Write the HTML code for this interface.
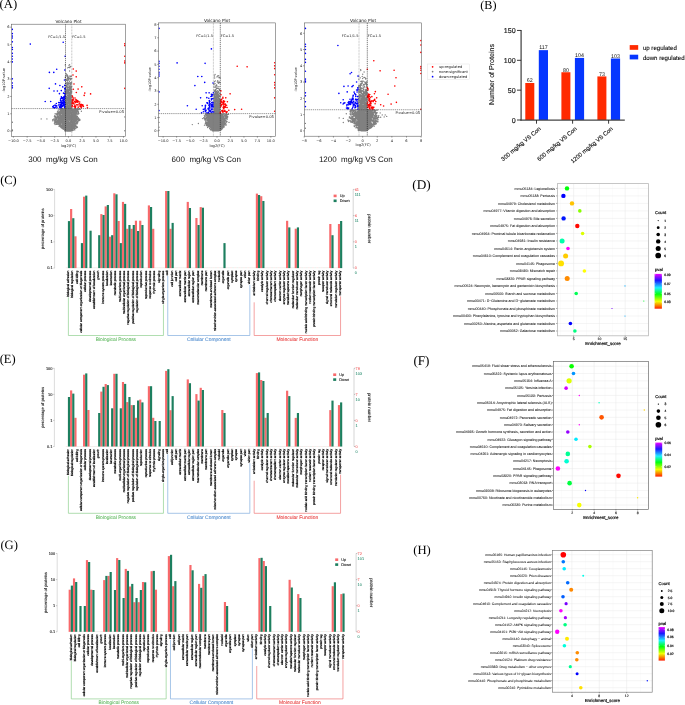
<!DOCTYPE html>
<html><head><meta charset="utf-8"><style>
html,body{margin:0;padding:0;background:#fff;}
svg{display:block;}


</style></head><body>
<svg width="685" height="705" viewBox="0 0 685 705" font-family="Liberation Sans, Arial, sans-serif" text-rendering="geometricPrecision">
<rect width="685" height="705" fill="#fff"/>
<text x="-0.5" y="8.4" font-size="12.7" font-family="'Liberation Serif', 'Times New Roman', serif">(A)</text>
<text x="480.2" y="8.8" font-size="12.2" font-family="'Liberation Serif', 'Times New Roman', serif">(B)</text>
<text x="0.16" y="183.8" font-size="12.4" font-family="'Liberation Serif', 'Times New Roman', serif">(C)</text>
<text x="412.3" y="188.7" font-size="13.3" font-family="'Liberation Serif', 'Times New Roman', serif">(D)</text>
<text x="-0.35" y="362.7" font-size="12.5" font-family="'Liberation Serif', 'Times New Roman', serif">(E)</text>
<text x="413.4" y="364.7" font-size="13.2" font-family="'Liberation Serif', 'Times New Roman', serif">(F)</text>
<text x="0.4" y="548.8" font-size="12.7" font-family="'Liberation Serif', 'Times New Roman', serif">(G)</text>
<text x="413.2" y="553.8" font-size="12.7" font-family="'Liberation Serif', 'Times New Roman', serif">(H)</text>
<g>
<clipPath id="vc1"><rect x="11.5" y="24.2" width="114" height="112.1"/></clipPath>
<g clip-path="url(#vc1)">
<path d="M56.93 119.94h0M73.63 113.94h0M60.59 112.24h0M66.3 128.38h0M75.91 110.02h0M64.36 111.23h0M62.37 127.2h0M77.83 119.79h0M74.77 119.53h0M77.91 109.55h0M60.6 112.88h0M73.76 123.07h0M61.26 127.11h0M61.96 113.15h0M62.11 117.46h0M62.62 115.83h0M67.01 129.78h0M76.21 124.11h0M77.84 111.31h0M76.44 111.56h0M66.04 128.75h0M62.31 124.43h0M62.14 126.58h0M74.19 115.91h0M57.83 111.23h0M76.95 112.16h0M78.91 109.61h0M64.52 110.27h0M72.31 128.78h0M61.19 109.04h0M57.56 116.42h0M56.34 124.19h0M74.32 123.97h0M56.19 123.57h0M72.92 109.73h0M76.32 112.6h0M72.98 110.6h0M56.07 121.36h0M54.07 118.73h0M75.54 125.29h0M57.94 116.49h0M73.81 110.68h0M59.69 111.82h0M75.62 114.04h0M59.92 113.63h0M57.24 116.97h0M60.99 124.69h0M63.02 109.18h0M77.32 118.82h0M75.42 117.63h0M62.27 108.88h0M60.3 112.31h0M72.07 121.98h0M63.12 110.88h0M57.67 116.92h0M56.79 116.93h0M58.49 112.05h0M73.64 118.85h0M76.86 120.58h0M76.06 119.68h0M61 119.32h0M72.68 127.3h0M58.84 126.09h0M55.63 117.01h0M63.82 128.7h0M75.93 126.22h0M76.43 117.73h0M77.92 108.71h0M72.23 118.04h0M62.03 128.17h0M57.35 116.17h0M75.48 116.89h0M59.64 125.44h0M76.04 127.7h0M62.5 112.79h0M76.47 119.29h0M54.1 119.04h0M79.63 120.3h0M61.14 112.74h0M63.22 118.14h0M60.39 109.88h0M60.9 121.84h0M73.44 124.71h0M54.75 120.13h0M79.17 109.24h0M59 118.22h0M62.03 118.36h0M77.47 110.86h0M60.23 120.64h0M57.2 115.53h0M73.97 122.11h0M74.33 112.31h0M57 122.33h0M55.04 124.47h0M74.46 111.11h0M74.51 113.99h0M75.14 128.17h0M57.25 117.39h0M75.87 126.27h0M74.45 111.29h0M71.91 119.06h0M73.59 125.33h0M74.89 126.04h0M71.15 130.58h0M73.19 130.18h0M61.69 127.97h0M75.28 125.65h0M62.9 124.94h0M71.39 116.66h0M58.97 121.98h0M58.61 117.13h0M58.44 124.16h0M77.82 111.98h0M72.36 116.08h0M71.85 118.45h0M78.33 118.44h0M77.34 116.29h0M60.48 116.8h0M55.05 116.63h0M75.53 123.54h0M58.97 120.01h0M73.07 118.23h0M59.16 124.6h0M73.38 114.53h0M75.34 108.99h0M64.06 125.72h0M75.95 113.21h0M77.51 116.6h0M61.78 118.49h0M71.35 117.7h0M73.92 119.81h0M61.79 127.69h0M61.66 117.09h0M60.12 126.63h0M76.7 119.05h0M73.76 112.86h0M75.32 112.81h0M74.49 110.7h0M58.44 112.65h0M75.99 114.97h0M75.98 110.35h0M77.16 111.84h0M66.63 130.14h0M78.9 113.61h0M78.43 112.14h0M72.6 122.22h0M62.33 118.67h0M58.13 120.36h0M78.74 113.63h0M57.55 120.18h0M56.57 119.84h0M74.66 108.68h0M62.34 109.28h0M73.85 124.32h0M65.71 128.1h0M67.3 130.89h0M72.86 127.01h0M65.7 128.74h0M59.3 121.36h0M72.53 123.36h0M61.51 112.36h0M63.21 112.36h0M55.29 119.29h0M73.34 117.49h0M75.16 115.35h0M75.28 114.18h0M72.53 124.2h0M74.82 115.55h0M59.09 122.86h0M59.09 121.63h0M63.01 109.99h0M76.92 126.37h0M81.38 111.31h0M58.46 124.18h0M63.6 111.41h0M74.01 119.82h0M62.62 108.82h0M78.6 113.2h0M55.88 117.83h0M77.99 114.3h0M76.56 126.15h0M54.38 123.22h0M62.18 122.4h0M76.52 110.37h0M60.51 124.13h0M61.45 126.78h0M65.31 128.39h0M75.12 126.37h0M71.45 129.99h0M63.1 110.76h0M72.57 126.48h0M55.42 116.6h0M56.14 123.39h0M72.26 128.05h0M73 117.48h0M61.41 127.04h0M61.84 120.12h0M59.84 117.4h0M71.75 118.33h0M54.76 122.19h0M66.26 130.8h0M60.01 112.6h0M75.49 111.36h0M71.71 108.86h0M74.41 120.79h0M60.83 127.28h0M58.16 113.37h0M62.47 114.56h0M61.39 121.14h0M76.1 122.32h0M57.85 113.63h0M57.43 111.97h0M64.47 127.81h0M78.61 120.88h0M74.03 124.79h0M76.77 120.08h0M57.99 120.77h0M58.82 117.76h0M77.41 113.99h0M73.41 109.49h0M62.46 127.65h0M57.05 121.26h0M75.46 126.4h0M80.44 109.3h0M74.03 110.33h0M59.58 113.56h0M65.29 130.03h0M74.85 127.75h0M72.58 129.59h0M63.55 109.03h0M75.01 115.92h0M55.67 119.32h0M73.03 116.37h0M59.32 117.33h0M62.44 109.24h0M58.73 116.09h0M72.92 125.26h0M58.6 124.28h0M79.19 108.63h0M79.18 118.9h0M78.54 113.77h0M74.04 118.36h0M72.82 116.75h0M61.81 110.21h0M54.82 120.41h0M77.72 110.59h0M70.62 115.54h0M74.31 119.37h0M60.41 110.88h0M72.65 128.13h0M60.09 115.31h0M55.75 116.62h0M58.69 118.63h0M57.44 114.1h0M62.69 128.24h0M75.44 112.41h0M73.45 115.02h0M61.07 121.95h0M75.6 117.52h0M71.48 120.27h0M75.51 113.22h0M70.53 130.88h0M60.2 126.28h0M58.13 123.23h0M72.69 130.45h0M62.79 110.7h0M66.49 130.52h0M74.19 122.16h0M61.84 112.37h0M76.19 110.62h0M78.65 120.28h0M75.02 112.22h0M72.31 118.35h0M72.76 122.82h0M70.52 117.99h0M61.02 123.09h0M72.68 115.63h0M72.89 112.97h0M62.19 110.83h0M58.01 120.86h0M63.24 113.82h0M72.11 128.18h0M74.91 114.67h0M58.87 120.47h0M61.4 112.33h0M66.65 130.58h0M74.27 127.18h0M75.29 126.1h0M77.3 110.26h0M61.41 112.29h0M63.08 124.65h0M66.2 127.49h0M72.19 129.8h0M75.25 128.61h0M71.77 109.43h0M61.08 109.24h0M75.1 117.22h0M62.57 124.37h0M65.43 127.99h0M74.42 122.81h0M78.24 117.83h0M78.46 111.75h0M60.46 117.35h0M62.3 124.99h0M75.34 115.19h0M54.84 115.46h0M62.61 113.39h0M77.39 114.01h0M64.76 130.71h0M59.45 113.65h0M61.05 125.33h0M57 113.56h0M75.14 127.8h0M54.43 116.64h0M56.56 122.28h0M59.78 109.78h0M74.36 128.93h0M73.73 128.53h0M54.99 117.27h0M61.31 127.51h0M64.88 127.24h0M54.83 122.14h0M62.52 109.96h0M72.21 115.13h0M64.81 111.48h0M75.05 113.1h0M75.65 110.64h0M70.91 122.76h0M58.6 123.38h0M76.8 123.15h0M58.21 121.57h0M71.61 129.57h0M73.72 120.42h0M56.32 119.98h0M73.35 110.81h0M74.22 124.37h0M60.95 122.38h0M57.51 123.12h0M72.36 121.11h0M76.58 112.99h0M57.27 121.28h0M74.04 126.53h0M59.34 114.84h0M65.44 129.04h0M64.33 125.3h0M62.19 125.3h0M58.29 109.95h0M59.17 111.94h0M60.66 112.74h0M73.37 126.74h0M75.98 115.65h0M67.13 128.94h0M75.3 114.93h0M61.11 126.22h0M72.82 129.65h0M62.29 117.28h0M66.17 128.45h0M71.71 122.28h0M75.19 112.36h0M74.45 121.5h0M65.28 130.92h0M59.96 126.6h0M59.97 125.43h0M61.68 125.8h0M74.45 126.3h0M74.27 114.01h0M60.65 110.02h0M61.8 127.2h0M71.33 130.27h0M79.63 119.27h0M59.47 125.47h0M76.66 127.74h0M63.88 109.61h0M57.69 112.06h0M73.51 112.3h0M72.64 109.16h0M60.82 113.19h0M72.79 128.81h0M59.09 117.35h0M75.53 121.39h0M58.82 123.75h0M75.42 118.04h0M59.63 115.2h0M74.17 120h0M73.76 128.18h0M60.91 125.72h0M65.34 109.59h0M59.55 124.45h0M61.56 108.72h0M58.35 112.1h0M74.45 123.17h0M73.06 128.4h0M74.79 109.1h0M74.15 120.62h0M73.33 124.32h0M73.95 116.04h0M74.45 111.01h0M72.3 129.62h0M71.31 112.63h0M56.98 113.71h0M72.28 126.31h0M55.84 118.29h0M70.67 130.55h0M75.13 120.47h0M54.39 120.91h0M72.71 110.42h0M63.17 129.24h0M61.96 117.76h0M74.66 126.52h0M64.37 129.62h0M61.97 122.9h0M75.9 120.8h0M77.28 122.33h0M59.14 114.27h0M63.13 124.92h0M74.28 110.81h0M65.35 129.65h0M56.1 123.12h0M73 116.21h0M75.13 126.35h0M75.97 116.02h0M65.31 130.11h0M73.94 116.37h0M78.88 120.74h0M75.97 122.87h0M74.85 110.33h0M76.43 108.96h0M65.73 128.9h0M74.55 126.39h0M72.93 116.65h0M74.02 114.96h0M56.84 114.51h0M58.35 112.22h0M63.43 108.92h0M77.71 122.67h0M57.36 124.23h0M70.95 115.33h0M57.97 112.13h0M74.64 113.06h0M60.33 110.28h0M69.72 130.85h0M67.02 129.78h0M74.06 121.46h0M80.05 119.94h0M59.41 112.85h0M76.19 109.42h0M73.23 119.31h0M63.7 128.06h0M56.86 117.39h0M55.77 122.91h0M66.46 130.08h0M74.64 115.68h0M72.64 123.76h0M58.31 121.48h0M74.24 112.07h0M61.19 108.68h0M73.08 130.07h0M71.55 128.6h0M59.89 123.86h0M73.7 111.02h0M71.32 114.31h0M60.02 115.99h0M74.37 120.62h0M61.31 127.85h0M57.22 122.49h0M59.89 117.08h0M52.75 120.81h0M77.65 109.09h0M73.09 123.74h0M64.5 125.69h0M71.33 130.41h0M76.73 117.16h0M62.21 128.19h0M63.19 111.36h0M60.31 125.9h0M60.45 110.71h0M73.59 113.15h0M77.1 110.06h0M71.14 117.19h0M74.86 110.26h0M70.85 130.96h0M61.84 110.86h0M62.41 125.62h0M57.64 114.77h0M64.02 126.61h0M74.44 127.85h0M57.25 120.7h0M70.51 117.55h0M74.82 122.04h0M74.89 128.68h0M77.24 123.79h0M71.62 115.13h0M72.6 113.03h0M75.62 114.12h0M74.72 129.89h0M74.6 110.52h0M73.83 116.25h0M58.5 114.12h0M60.92 125.66h0M72.35 122.07h0M71.4 109.97h0M73.71 119.01h0M55.15 113.66h0M55.51 120.56h0M79.58 119.49h0M73.81 125.16h0M62.16 125.78h0M73.62 112.94h0M74.76 116.2h0M53.41 119.64h0M64.99 129.9h0M71.46 115.78h0M59.22 112.51h0M59.67 115.33h0M72.15 118.86h0M72.89 121.16h0M72.35 111h0M59.47 117.54h0M60.65 111.48h0M62.84 112.71h0M77.99 112.12h0M75.64 118.9h0M76.97 121.16h0M76.1 110.2h0M71.78 123.58h0M60.44 111.02h0M72.83 110.01h0M77.44 127.3h0M55.62 119.85h0M75.92 110.67h0M65.23 108.7h0M61.14 109.92h0M72.09 124.8h0M62.86 126.55h0M55.51 121.57h0M73.12 126.35h0M56.14 114.16h0M61.21 113.19h0M72.16 111.84h0M75.13 111.85h0M60.57 115.86h0M71.32 130.24h0M58.26 123.18h0M59.91 119.83h0M76.48 113.73h0M60.22 109.76h0M71.51 119.9h0M72.43 126.95h0M57.13 124.38h0M63.39 109.25h0M74.2 125.7h0M56.94 118.48h0M75.62 113.02h0M59.14 120.77h0M72.55 125.92h0M74.98 124.05h0M73.24 125.42h0M74.25 122.66h0M64.34 109.03h0M76.1 114.41h0M66.95 130.1h0M54.91 115.94h0M74.5 124.66h0M58.62 116.08h0M64.4 128.57h0M75.49 111.86h0M75.7 108.68h0M61.94 109.49h0M75.81 121.46h0M74.58 118.17h0M63.34 110.87h0M58.8 118.05h0M56.17 116.85h0M61.6 110.88h0M78.03 117.39h0M72.43 112.37h0M75.53 116.73h0M62.77 127.78h0M70.34 131.08h0M59.95 116.51h0M63.34 126.74h0M72.14 110.52h0M58.68 119h0M60.11 113.41h0M57.74 116.09h0M60.41 110.45h0M64.07 109.14h0M74.84 114.06h0M71.57 130.7h0M66.83 129.89h0M76.26 115.37h0M62.39 127.46h0M62.49 125.61h0M66.27 130.65h0M61.11 121h0M71.52 125.08h0M72.98 110h0M57.78 122h0M77.7 121.68h0M73.33 110.14h0M74.23 117.92h0M56.99 115.28h0M61.95 125.82h0M79.04 109.5h0M76.11 113.23h0M61.83 126.18h0M62.41 127.12h0M76.62 123.07h0M61.47 127.19h0M74.45 114.69h0M63.42 114.04h0M61 116.18h0M58.19 122.08h0M61.18 127h0M76.41 117.53h0M52.7 119.82h0M79.55 119.34h0M61.2 121.39h0M60.88 114.44h0M73.31 116.88h0M76.49 116.79h0M77.99 111.37h0M74.82 118.51h0M73.25 127.56h0M63.76 127.12h0M62.29 118.19h0M60.12 123.05h0M58.48 116.28h0M66.73 131.04h0M60.27 124.27h0M74.81 109.87h0M59.26 124.38h0M61.31 115.34h0M55.3 118.95h0M63.57 125.77h0M58.79 113.36h0M78.11 114.03h0M73.23 130.12h0M57.6 117.29h0M56.41 119.97h0M62.38 123.13h0M60.23 123.41h0M63.54 127.4h0M75.46 117.13h0M72.06 111.03h0M69.1 95.85h0M69.76 67.66h0M71.17 87.72h0M68.93 85.54h0M71.41 78.64h0M68.95 86.03h0M70.26 97.23h0M67.32 92.24h0M69.32 82.94h0M70.66 87.8h0M67.09 90.49h0M69.84 67.05h0M67.45 93.44h0M71.59 82.28h0M71.66 91.77h0M70.8 86.19h0M65.7 94.42h0M66.92 74.59h0M70.62 91.43h0M69.56 70.94h0M70.64 83.47h0M70.44 91.05h0M68.62 67.35h0M67.15 78.68h0M69.3 92.61h0M70.88 85.88h0M65.52 80.8h0M67.54 82.76h0M70.54 79.83h0M67.83 83.97h0M69.74 95.66h0M69.8 93.88h0M70.7 89.06h0M71.43 76.31h0M71.11 76.28h0M68.45 90.26h0M65.54 88.34h0M66.61 75.72h0M67.64 75.56h0M70.1 76.86h0M71.06 92.46h0M69.55 64.64h0M65.68 87.47h0M67.54 87.78h0M67.41 76.72h0M69 65.22h0M67.65 81.17h0M66.17 73.68h0M65.6 89.36h0M69.19 83.11h0M66.91 96.48h0M65.27 77.6h0M67.58 76.23h0M67.29 87.21h0M70.87 90.32h0M68.37 78.86h0M68.56 83.57h0M70.55 96.23h0M65.5 83.27h0M66.26 86.65h0M69.4 89.6h0M70.62 84.72h0M71.73 89.19h0M70.07 78.68h0M70.45 83.02h0M67.21 86.37h0M71.75 86.18h0M70.07 84.34h0M70.16 92.16h0M68.87 79.02h0M70.69 66.48h0M67.16 91.38h0M65.61 83.64h0M71.25 91.2h0M71.31 87.65h0M65.44 76.12h0M68.9 90.38h0M67.22 87.57h0M68.31 94.94h0M67.71 90.02h0M65.3 65.05h0M69.92 75.94h0M65.47 89.1h0M69.4 87.99h0M70.78 78.71h0M69.1 85.78h0M67.14 79.16h0M68.12 82.59h0M65.34 77.69h0M69.29 86h0M70.06 78.45h0M69.69 86.78h0M65.91 85.7h0M69.51 81.24h0M71.27 89.32h0M69.39 88.4h0M70.12 90.5h0M69.83 89.67h0M70.71 83.89h0M69.32 86h0M71.71 78.7h0M66 79.43h0M67.63 93.33h0M66.88 83.86h0M71.49 91.07h0M67.38 85.03h0M68.2 78.99h0M71.12 92.96h0M66.84 97.34h0M66.11 82.44h0M68.98 93.81h0M70.18 84.04h0M66.28 91.22h0M71.58 92.58h0M66.34 91.97h0M68.57 79.74h0M68.71 84.03h0M69.79 93.79h0M71.1 86.87h0M66.18 83.79h0M67.45 88.96h0M67.61 67.84h0M68.82 77.14h0M70.92 86.59h0M66.36 85.55h0M69.7 87.1h0M70.64 82.59h0M68.12 94.82h0M71.46 92.42h0M66.63 91.05h0M68.66 77.31h0M69.19 94.76h0M71.62 83.77h0M66.53 80.33h0M70.81 86.2h0M66.55 91.93h0M67.54 77.79h0M65.23 88.68h0M69.12 78.54h0M67.82 80.45h0M12.4 122.2h0M12.4 129.9h0M12.4 130.8h0M124.8 116.9h0M124.8 130.8h0M41.2 118.9h0M46.9 118.9h0M72.96 128.07h0M67.36 116.43h0M65.58 112.28h0M68.44 125.95h0M69.62 110.8h0M68.89 109.95h0M67.46 126.22h0M67.11 121.24h0M68.73 125.85h0M71.44 124.58h0M66.35 108.75h0M65.65 112.41h0M64.84 119.72h0M66.84 113.15h0M63.55 122.66h0M67.81 119.65h0M58.22 120.07h0M66.95 130.12h0M67.1 111.73h0M65.68 125.04h0M68.67 111.15h0M68.77 129.84h0M68.89 118.27h0M59.94 118.98h0M66.69 130.47h0M72.3 125.35h0M66.19 130.72h0M67.31 114.09h0M69.71 123.34h0M66.45 127.51h0M66.33 115.08h0M65.73 123.85h0M66.64 121.62h0M72.83 128.65h0M69.87 130.63h0M69.21 127.49h0M66.53 113.14h0M65.49 126.07h0M62.2 123.87h0M64.79 125.42h0M69.34 118.26h0M64.91 122.59h0M66.27 126.47h0M68.45 110.84h0M71.25 120.19h0M69.33 129.19h0M70.55 110.59h0M63.56 123.44h0M67.41 128.05h0M68.95 129.45h0M70.01 113.35h0M62.93 113.49h0M66.95 118.25h0M70.52 111.04h0M69.04 112.46h0M69.29 116.01h0M69.63 130.2h0M66.66 108.85h0M69.4 125.66h0M65.79 110.63h0M65.61 125.39h0M69.13 130.21h0M66.92 108.98h0M74.8 124.05h0M66.09 126.25h0M65.76 125.27h0M67.29 124.18h0M71.06 108.96h0M62.54 118.06h0M65.95 125.61h0M68.8 118.69h0M68.44 124.55h0M68.87 119.99h0M65.13 113.2h0M67.34 110.98h0M68.66 113h0M67.78 112.17h0M64.73 115.01h0M65.33 109.41h0M63.21 122.19h0M67.94 118.25h0M68.75 123.11h0M70.06 112.44h0M62.83 122.07h0M63.26 119.2h0M71.18 125.73h0M67.39 120.32h0M66.65 124.9h0M64.69 119.58h0M69.83 127.51h0M63.43 122.73h0M65.84 109.48h0M67.18 126.2h0M69.72 123.26h0M68.76 127.39h0M66.12 112.91h0M64.67 116.25h0M63.44 109.23h0M64.6 113.03h0M70.15 128.26h0M73.97 109.5h0M72.7 128.44h0M68.09 125.51h0M65.73 121.22h0M64.14 124.95h0M65.38 113.29h0M65.53 113.78h0M65.88 122.47h0M71.02 128.44h0M67.69 128.02h0M63.63 118.21h0M73.69 119.2h0M60.83 121.14h0M69.03 113.47h0M62.37 120.02h0M67.15 131.01h0M72.48 124.23h0M60.78 117.14h0M65.33 122.34h0M66.06 120.01h0M63.71 112.74h0M63.5 115.16h0M66.13 119.61h0M60.24 116.31h0M63.7 115.59h0M71.18 126.4h0M68.85 115.04h0M64.64 125.87h0M71.01 127.22h0M67.74 115.19h0M65.33 117.08h0M67.22 121.38h0M71.48 117.45h0M68.74 119.24h0M69.27 122.97h0M66.57 125.69h0M69.84 120.01h0M68.99 117.65h0M70.57 109.39h0M68.37 123.39h0M68 128.96h0M63.37 119.95h0M70.15 112.63h0M68.96 118.04h0M70.12 123.9h0M64.47 114.02h0M71.44 110.53h0M69.34 129.81h0M69.95 130.3h0M72.19 112.17h0M70.22 129.05h0M66.35 116.75h0M68.46 129.74h0M61.43 117.8h0M73.76 119.34h0M63.06 123.15h0M68.71 121.55h0M66.56 115.03h0M66.56 129.91h0M69.42 130.2h0M71.03 121.12h0M72.14 111.23h0M71.13 130.33h0M65.92 114.6h0M70.44 112.93h0M63.4 124.26h0M68.99 123.67h0M74.78 113.46h0M64.48 116.41h0M67.04 108.85h0M67.08 112.38h0M70.16 119.37h0M65.02 123.32h0M65.86 116.44h0M64.29 124.38h0M71.12 119.82h0M72.14 127.75h0M67.98 129.55h0M69.46 110.33h0M64.78 113.45h0M71.54 127.32h0M71.78 129.97h0M71.99 128.69h0M64.15 116.87h0M67.7 111.95h0M69.44 127.2h0M67.16 112.01h0M63.91 111h0M63.13 114.76h0M68.85 108.63h0M71.27 113.76h0M74.12 117.94h0M64.66 111.94h0M67.81 115.53h0M66.74 128.4h0M65.65 112.67h0M62.57 121.91h0M62.15 119.7h0M70.33 118.72h0M68.51 108.71h0M72.33 110.94h0M66.55 122.71h0M58.41 120.83h0M65.6 123.12h0M68.43 125.24h0M61.37 117.83h0M71.17 114.99h0M68.36 109.23h0M66.58 109.34h0M68.74 130.51h0M71.26 118.73h0M60.71 118.65h0M70.29 115.98h0M69.92 120.3h0M69.96 111.78h0M69 128.72h0M70.39 110.71h0M69 126.27h0M66 123.51h0M66.79 116.3h0M68.11 109.29h0M67.16 125.95h0M64.52 121.78h0M61.34 120.51h0M68.66 116.58h0M65.93 111.03h0M73.29 128.22h0M70.75 118.42h0M70.42 126.01h0M74.6 121.59h0M67.75 130.65h0M65.08 108.92h0M69.08 127.96h0M71.18 114.78h0M70.48 129.98h0M66.12 123.17h0M65.04 122.23h0M64.67 116.85h0M68.39 127.16h0M61.44 121.31h0M64.98 119.16h0M71.52 122.02h0M70.31 118.85h0M66.61 112.1h0M70.95 127.59h0M67.11 126.23h0M62.21 112h0M73.1 121.2h0M67.47 116.62h0M61.81 117.62h0M62.65 110.08h0M71.35 120.5h0M68.65 115.25h0M69.12 127.96h0M64.26 123.08h0M68.12 112.64h0M70.53 127.53h0M66.04 121.31h0M69.91 124.48h0M66.49 129.84h0M62.59 123.42h0M71.9 112.33h0M68.19 116.32h0M69.26 114.82h0M71.1 112.19h0M70.49 130.51h0M69.44 126.98h0M74.67 109.21h0M67.38 130.98h0M71.79 110.04h0M65.34 119.55h0M62.97 115.55h0M66.58 119.01h0M63.67 125.71h0M67.15 109.59h0M63.83 115.17h0M65.52 127.33h0M71.16 112.71h0M69.77 123.53h0M70.97 124.82h0M71.16 127.74h0M70.8 113.05h0M72.18 118.63h0M67.36 126.69h0M68.41 129.8h0M62.98 122.48h0M58.38 118.98h0M65.08 125.67h0M71.83 108.88h0M69.3 112.22h0M69.45 112.47h0M66.76 117.25h0M63.65 112.44h0M66.03 111.87h0M69.74 125.56h0M69.34 131.02h0M69.53 122.59h0M65.61 117.28h0M65.86 124.98h0M72.74 112.39h0M71.39 130.09h0M67.61 128.98h0M69.8 117.7h0M61.96 119.62h0M67.79 111.34h0M72.63 112.32h0M71.82 127.77h0M63.28 119.82h0M71.45 127.74h0M66.17 111.94h0M70.73 108.61h0M58.31 118.18h0M65.86 110.79h0M71.79 116.75h0M69.3 131.02h0M72.36 110.93h0M67.62 128.67h0M68.84 117.39h0M68.28 112.64h0M68.16 129.41h0M68.41 110.02h0M69.52 114.75h0M67.62 126.36h0M69.77 109.13h0M66.73 110.26h0M69.57 130.45h0M68.53 114.22h0M65.57 116.16h0M70.75 121.54h0M68.76 128.17h0M68.99 128.34h0M72.23 109.43h0M68.19 109.39h0M68.81 130.37h0M74.68 113.88h0M74.44 112.7h0M69.02 124.6h0M59.33 122.74h0M72.91 124.41h0M67.84 130.58h0M70.32 112.99h0M62.93 120.35h0M70.93 118.14h0M64.18 125.26h0M69.91 125.87h0M62.03 122.46h0M59.91 116.65h0M68.04 113.38h0M70.67 126.4h0M68.23 116.57h0M66.99 109.43h0M69.31 126.98h0M68.85 129.43h0M63.66 125.62h0M66.71 122.75h0M66.07 117.96h0M66.29 118.76h0M70.03 129.15h0M66.94 122.71h0M69.46 119.59h0M70.52 110.33h0M69.11 129.71h0M68.74 111.9h0M67.2 123.61h0M68.86 130.9h0M70.72 118.7h0M70.88 125.84h0M65.97 123.64h0M67.29 116.69h0M73.23 126.18h0M70.21 127.81h0M64.76 124.66h0M71.61 128.42h0M64.51 125.42h0M69.89 125.43h0M70.27 117.24h0M70.05 111.35h0M68.45 117.48h0M69.68 111.16h0M61.43 120.83h0M65.3 122.18h0M69.03 127.32h0M67.49 111.47h0M63.17 116.98h0M67.7 129.31h0M66.8 127.24h0M71.42 110.47h0M70.33 115.69h0M70.34 108.92h0M61.62 113.5h0M68.46 130.37h0M65.47 112.01h0M69.57 115.39h0M66.71 122.79h0M69.58 127.93h0M72.93 110.81h0M64.74 118.02h0M61.97 119.56h0M69.76 128.09h0M70.6 129.99h0M61.02 117.37h0M64.38 108.92h0M65.51 123.98h0M66.81 122.84h0M68.87 118.33h0M60.92 121.74h0M66.17 129.68h0M69.43 124.05h0M66.21 124.47h0M67.37 110.22h0M62.01 123.07h0M63.4 123.83h0M71.23 125.63h0M68.01 125.52h0M64.69 118.27h0M70.43 110.45h0M66.29 118.44h0M67.52 129.94h0M70.67 124.26h0M65.18 114.03h0M70.47 112.35h0M70.44 118.33h0M68.35 130.91h0M68.36 128.32h0M63.75 117.2h0M67.28 122.54h0M68.94 129.88h0M63.29 121.12h0M67.41 120.99h0M67.73 109.13h0M60.8 117.64h0M65.35 110.21h0M71.18 129.89h0M62.54 110.15h0M68.14 118.92h0M68.01 111.11h0M68.42 117.34h0M70.33 128.77h0M67.84 122.67h0M67.79 114.42h0M62.36 118.01h0M66.22 112.54h0M59.58 118.51h0M59.67 120.19h0M72.13 125.67h0M66.89 117.71h0M65.92 109.88h0M71.57 116.22h0M70.39 113.39h0M62.19 122.15h0M69.49 116.02h0M69.66 113.53h0M62.8 117.33h0M65.22 115.1h0M72.98 129h0M65.31 114.13h0M66.9 109.19h0M71.5 128.18h0M70.92 115.29h0M67.6 128.01h0M69.57 119.91h0M71.72 127.89h0M71.99 128h0M62.36 120.4h0M67.66 111.12h0M67.35 130.99h0M69.68 130.15h0M64.49 112.79h0M67.97 128.62h0M70.41 108.72h0M64.99 116.42h0M63.64 123.24h0M60.79 121.84h0M72.02 129.63h0M67.62 130.63h0M60.22 118.32h0M68.06 112.75h0M66.9 113.41h0M65.46 111.74h0M69.32 117.93h0M68.21 112.16h0M68.16 128.17h0M71.09 128.92h0M63.18 121.87h0M70 129.59h0M66.54 111.6h0M70.21 110.69h0M71.46 125.82h0M67.58 130.18h0M63.36 124.87h0M65.12 108.68h0M69.6 127.19h0M62.53 120.84h0M64.72 116.27h0M71.64 120.35h0M70.3 124.2h0M69.54 111h0M67.01 114.67h0M68.85 129.64h0M68.98 109.45h0M69.42 117.84h0M70.85 126.87h0M67.58 118.6h0M69.24 113.43h0M71.14 129.08h0M62.38 115.56h0M64.57 118.09h0M66.93 111.82h0M71.47 113.81h0M69.62 116.76h0M60.66 123.11h0M68.13 109.88h0M66.55 111.56h0M72.91 113.5h0M68.69 124.07h0M65.61 115.57h0M67.51 120.81h0M70.44 119.48h0M70.72 127.1h0M63.88 117.22h0M63.28 117.69h0M69.64 109.86h0M67.84 110.6h0M66.28 120.87h0M67.81 130.47h0M67.47 109.25h0M68.12 112.16h0M68.01 121.86h0M68.84 115.95h0M65.14 123.27h0M71.93 129.45h0M68.02 119h0M70.11 111.95h0M65.7 111.36h0M66.57 124.1h0M65.85 112.38h0M70.07 113.43h0M71.1 125.25h0M62.04 117.11h0M68.85 110.65h0M69.12 113.31h0M68.77 124.1h0M71.68 129.22h0M68.83 115.01h0M67.22 126.77h0M69.29 130.15h0M64.56 120.92h0M71.95 126.75h0M69.18 130.45h0M74.6 109.72h0M71.25 127.98h0M69.73 129.19h0M72.41 126.71h0M66.71 118.88h0M61.16 119.16h0M65.15 120.31h0M68.77 110.8h0M68.4 123.96h0M68.72 129.64h0M63.32 122.33h0M70.38 130.1h0M69.37 118.28h0M73.71 127.44h0M69.85 130.77h0M70.27 127.15h0M67.55 129.67h0M60 118.35h0M70.6 129.73h0M66.47 111.1h0M71.34 122.46h0M68.37 130.54h0M64.33 117.02h0M66.27 127.26h0M67.84 116.76h0M67.75 130.33h0M67.83 130.28h0M73.79 115.76h0M69.33 111.42h0M67.94 125.88h0M69.09 127.44h0M62.46 121.24h0M65.16 117.47h0M62.25 124.98h0M72.71 127.45h0M68.57 127.23h0M66.05 114.25h0M73.03 111.51h0M72.73 115.25h0M67.83 130.65h0M67.65 113.07h0M69.99 128.61h0M67.88 122.45h0M69.15 116.36h0M70.28 126.42h0M58.66 122.34h0M62.99 112.69h0M68.93 115.13h0M65.94 121.29h0M68.61 114.9h0M66.54 109.78h0M70.47 130.33h0M63.02 110.44h0M67.85 130.92h0M66.61 124.83h0M68.11 110.38h0M72.9 122.2h0M63.61 114.74h0M68.97 124.56h0M66.97 117.93h0M70.3 115.64h0M65.21 121.56h0M60.15 121.99h0M70.83 110.2h0M61.6 112.55h0M65.06 118.26h0M65.61 116.17h0M67.46 113h0M64.59 125.05h0M70.65 125.35h0M67.78 113.18h0M70.69 129.3h0M68.68 121.76h0M66.12 123.76h0M69.22 110.14h0M64.59 118.14h0M70.25 129.14h0M65.95 124.23h0M69.96 109.78h0M63.14 109.4h0M68 116.66h0M70.97 124.91h0M70.5 114h0M70.89 125.92h0M61.86 116.04h0M68.22 117.05h0M67.8 119.5h0M70.4 126.41h0M73.63 113.71h0M66.05 126.16h0M69.21 112.57h0M70.01 113.15h0M71.06 123.75h0M69.22 118.34h0M71.44 110.79h0M68.34 115.39h0M63.58 123.67h0M62.59 114.12h0M72.51 126.08h0M66.36 123.31h0M69.98 109.7h0M68.33 114.12h0M66.27 126.26h0M65.38 125.45h0M62.67 123.59h0M63.05 124.84h0M69.05 124.58h0M71.72 109.92h0M62.98 111.15h0M72.08 117.98h0M66.35 124.22h0M65.23 128.65h0M66.64 130.87h0M70.32 130.36h0M69.59 126.38h0M67.03 130.22h0M65.67 109.6h0M65.5 108.61h0M70.49 129.1h0M61.93 113.53h0M74.72 109.76h0M66.08 116.7h0M69.19 126.19h0M66.89 129.18h0M65.61 114.08h0M66.98 129.89h0M68.4 125.37h0M69.1 130.88h0M67.92 131.04h0M68.68 115.41h0M64.04 113.53h0M67.06 121.96h0M66.68 117.21h0M71.3 121.77h0M69.03 116.14h0M68.64 117.68h0M66.47 127.79h0M61.62 119.84h0M67.02 111.74h0M68.67 127.3h0M65.38 127.43h0M68.01 122.64h0M73.75 124.65h0M65.02 111.8h0M69.34 127.91h0M68.49 125.24h0M67.33 130.19h0M67.59 131h0M60.27 121.56h0M68.55 122.28h0M65.32 115.2h0M65.58 118.3h0M67.81 129.93h0M70.05 128.56h0M73.41 111.59h0M65.61 109.87h0M65.26 115.79h0M73.95 128.41h0M66.32 124.67h0M67.61 129.87h0M68.58 125.06h0M65.29 113.89h0M67.15 126.51h0M62.3 118.17h0M67.5 129.32h0M65.6 121.34h0M62.91 114.4h0M72.03 111.67h0M60.91 116.17h0M69.57 126.57h0M69.59 124.75h0M65.31 125.99h0M68.47 120.02h0M67.31 126.51h0M64.63 126.35h0M65.34 114.03h0M70.83 119.72h0M69.6 109.78h0M65.78 120.17h0M65.71 109.42h0M69.64 130.29h0M66.85 127.08h0M69.26 129.5h0M66.95 112.22h0M69.87 109.42h0M72.74 127.3h0M70.41 112.51h0M67.45 129.1h0M65.71 121.87h0M69.13 118.85h0M70.71 123.02h0M67.49 112.16h0M70.99 122.22h0M68.16 112.32h0M71.13 128.96h0M69.56 109.99h0M73.41 109.33h0M69.62 130.68h0M70.54 130.83h0M67.9 111.22h0M64.23 122.41h0M72.93 119.44h0M70.95 125.16h0M67.05 115.15h0M66.42 128.11h0M70.67 115.46h0M67.47 111.16h0M72.22 128.24h0M68.85 130.93h0M69.54 115.02h0M65.88 128.09h0M69.86 124.52h0M66.58 119.85h0M69.71 129.32h0M68.1 125.57h0M66.33 112.98h0M69.15 126.97h0M69.51 123.66h0M70.82 128.35h0M65.95 113.25h0M63.02 111h0M70.25 122.27h0M67.66 110.99h0M65.47 114.5h0M70.48 126.03h0M65 116.06h0M62.9 117.23h0M69.86 117.83h0M63.08 120.55h0M67.24 110.77h0M69.05 129.69h0M64.62 112.03h0M68.13 126.83h0M67.87 127.38h0M67.22 111.75h0M67.29 130.54h0M65.93 114.64h0M62.19 111.32h0M71.26 129.7h0M67.59 130.25h0M63.58 124.19h0M71.63 109.63h0M63.35 115.01h0M69.76 125.57h0M72.26 109.82h0M67.4 111.68h0M65.47 118.53h0M67.34 129.22h0M67.55 109.3h0M69.2 126.12h0M65.79 119.99h0M64.01 122.4h0M69.01 119.58h0M68.33 117.99h0M63.25 121.29h0M71.11 126.52h0M66.37 110.97h0M62.8 125.51h0M69.7 115.16h0M60.19 121.43h0M71.49 129.48h0M74.23 113.16h0M65.99 117.5h0M71.95 114.39h0M63.81 116h0M59.6 115.75h0M68.61 129.8h0M72.22 124.18h0M66.2 123.35h0M67.89 108.92h0M68.98 112.71h0M65.48 122.46h0M68.34 113.01h0M69.09 130.7h0M65.99 111.77h0M69.32 130.73h0M68.3 119.86h0M73.85 126.84h0M67.03 116.89h0M67.42 111.08h0M67.15 111.48h0M69.5 124.5h0M62.33 119.28h0M68.42 112.43h0M65.28 124.15h0M67.34 128.07h0M63.67 121.28h0M67.3 128.28h0M70.11 121.19h0M71.79 115.94h0M72.13 126.01h0M69.51 123.65h0M65.29 122.24h0M68.07 130.42h0M72.24 129.13h0M63.95 108.61h0M63.79 115.75h0M64.64 109.33h0M72.5 128.81h0M60.57 117.19h0M68.14 108.78h0M68.83 128.7h0M65.57 110.34h0M66.04 110.86h0M66.32 127.16h0M71.59 125.02h0M70.36 112.93h0M69.76 128.84h0M67.28 122.2h0M66.08 120.53h0M65.35 119.41h0M72.38 130h0M70.27 117.69h0M63.79 116.6h0M70.54 125.26h0M65.6 119.43h0M73.28 112.31h0M62.65 122.45h0M64.66 108.81h0M63.02 115.46h0M71.62 109.24h0M69.36 129.71h0M70.82 122.57h0M63.6 123.14h0M65.08 119.58h0M70.33 111.2h0M62.57 122.07h0M70.79 126.57h0M70.08 125.41h0M70.05 129.01h0M68.3 130.72h0M69.78 120.58h0M62.17 120.67h0M66.9 130.5h0M68.76 129.71h0M72.17 114.41h0M65.19 110.31h0M63.29 113.5h0M71.45 109.18h0M65.88 115.29h0M64.21 122.77h0M68.73 115.33h0M69.39 116.76h0M64.12 112.97h0M72.6 128.14h0M69.75 125.86h0M61.94 121.64h0M70.4 111.83h0M69.09 129.28h0M64.44 119.16h0M69.8 110.35h0M67.66 119.98h0M68.65 123.57h0M69.02 120.11h0M67.13 118.14h0M65.58 124.53h0M71.73 126.52h0M70.46 128.65h0M65.09 109.38h0M67.27 110.84h0M71.36 129.8h0M66 121.09h0M68.59 112.13h0M71.8 128.03h0M72.81 124.76h0M65.49 113.77h0M62.8 117.5h0M70.1 129.56h0M69.45 123.34h0M67.93 115h0M68.81 123.65h0M67.21 111.2h0M71.52 112.22h0M72.02 118.24h0M72.09 127.8h0M69.3 117.2h0M68.54 128.3h0M61.28 116.61h0M70.61 112.58h0M66.02 120.94h0M68.36 116.98h0M69.62 116.26h0M69.21 130.71h0M71.05 122.05h0M61.75 120.16h0M71.3 127.97h0M70.51 127.95h0M70.69 110.97h0M65.51 113.37h0M73.37 121.46h0M66.57 122.57h0M67.18 128.65h0M69.56 112.58h0M66.98 118.32h0M69.77 114.33h0M66.13 121.15h0M61.25 115.87h0M70.01 130.02h0M67.16 123.84h0M69.67 127.06h0M69.24 116.95h0M71.84 110.73h0M66.55 116.49h0M59.09 120.51h0M64.63 112.91h0M73.15 110.88h0M68.02 131.04h0M66.81 123.51h0M68.38 125.31h0M64.08 124.69h0M70.15 110.52h0M69.82 126.53h0M70.2 130.4h0M72.41 121.04h0M70.47 109.94h0M73.01 110.02h0M71.02 130.69h0M68.88 122.75h0M70.65 130.44h0M67.54 119.86h0M70.41 125.54h0M68.3 129.12h0M72.79 112.37h0M65.8 125.49h0M64.9 127.33h0M71.53 126.67h0M70.7 129.46h0M60.17 118.19h0M67.52 116.24h0M63.35 116.26h0M70.76 127.72h0M71.09 109.66h0M69.44 125.3h0M69.34 123.41h0M65.88 128.36h0M70.75 112.63h0M61.62 122.35h0M70.77 119.48h0M67.08 120.45h0M63.61 111.46h0M61.68 119.3h0M68.92 122.25h0M70.99 115.2h0M69.6 130.06h0M62.96 123.24h0M65.98 122.6h0M69.91 110.49h0M62.19 120.61h0M71.23 113.39h0M69.52 118.38h0M67.54 123.04h0M64.94 122.35h0M65.75 126.32h0M69.03 113.19h0M69.68 108.75h0M70.08 129.06h0M70.62 129.97h0M62.13 115.58h0M68.6 118.85h0M60.42 117.2h0M67.18 109.9h0M64.38 114.17h0M66.8 128.12h0M68.29 108.78h0M69.61 125.42h0M68.19 129.4h0M71.44 118.64h0M71.51 113.81h0M72.4 118.77h0M69.58 127.86h0M66.13 129.21h0M64.92 126.08h0M63.99 113.87h0M69.16 130.44h0M64.12 118.74h0M66.4 117.9h0M67.33 131.07h0M68.76 110.16h0M66.96 122.86h0M63.72 126.18h0M63.46 121.75h0M70.13 112.7h0M70.86 129.81h0M66.39 115.23h0M71.03 125.05h0M62.94 120.06h0M67.79 125.86h0M63.27 119.56h0M70.47 128.97h0M64.79 114.31h0M65.88 128.73h0M64.32 125.55h0M71.57 120.01h0M67.05 130.34h0M71.56 126.5h0M71.17 125.87h0M72.02 111.45h0M61.57 115.93h0M67.99 124.05h0M64.19 113.1h0M68.61 121.72h0M68.65 123.93h0M72.75 119.61h0M69.66 116.75h0M65.9 122.54h0M66.29 112.09h0M63.44 120.59h0M68.72 110.69h0M70.34 111.97h0M70.01 129.72h0M69.73 119.22h0M65.5 124.17h0M68.25 124.68h0M67.66 111.61h0M69.08 126.34h0M68.81 123.72h0M72.78 122.47h0M70.13 127.63h0M67.06 127.03h0M69.89 110.35h0M74.56 113.08h0M64.33 123.57h0M62.81 109.19h0M66.78 121.53h0M63.46 125.62h0M69.76 129.33h0M71.68 109.35h0M64.86 120.46h0M65.44 117.37h0M67.43 110.05h0M70.17 128.76h0M71.89 110.7h0M64.85 113.17h0M68.27 117.88h0M66.09 120.64h0M68.05 112.18h0M69.63 128.6h0M69.62 110.69h0M67.88 127.42h0M60.12 120.29h0M62.38 121.3h0M68.5 117.6h0M67.78 109.27h0M68.35 110.35h0M72.5 122.87h0M68.32 125.4h0M71.42 114.08h0M69.24 113.69h0M65.75 110.31h0M70.64 110.62h0M66.85 126.02h0M63.73 116.89h0M64.5 116.84h0M68.48 111.18h0M65.7 113.44h0M68.97 126.87h0M67.68 125.56h0M67.47 128.98h0M61.1 121.35h0M64.15 124.5h0M65.17 115.55h0M70 124.04h0M64.84 111.17h0M71.23 114.17h0M70.04 116.57h0M68.53 125.14h0M69.9 128.23h0M63.35 122.71h0M70.04 116.98h0M67.1 119.55h0M64.69 110.5h0M64.45 114.61h0M70.81 118.38h0M70.91 125.75h0M68.91 127.07h0M64.68 125.9h0M63.77 110.7h0M67.01 109.35h0M64.55 115.98h0M61.45 112.96h0M63.18 119.39h0M67.46 113.65h0M70.43 130.02h0M67.65 109.09h0M68.66 123.09h0M67.66 118.19h0M66.07 110.6h0M66.61 118.93h0M69.69 117.12h0M63.8 114.06h0M66.3 125.03h0M69.32 112.46h0M66.88 114.96h0M72.31 109.85h0M62.08 118.09h0M70.3 129.46h0M64.26 125.39h0M72.54 128.14h0M69 129.27h0M69.72 113.74h0M68.99 123.75h0M66.62 126.28h0M68.03 122.34h0M65.67 113.84h0M64.96 118.25h0M69.34 128.56h0M65.69 123.79h0M66.2 128.94h0M70.39 128.58h0M60.16 121.39h0M68.21 113.39h0M71.44 129.57h0M67.6 129.03h0M62.71 116.59h0M61.96 115.89h0M67.57 130.75h0M59.14 122h0M68.07 130.52h0M70.42 127.13h0M63.29 118.77h0M69.06 124.41h0M67.93 120.12h0M68.92 114.43h0M68.93 112.76h0M62.87 111.26h0M67.22 123.39h0M65.08 121.71h0M67.17 118.44h0M64.95 110.94h0M64.5 116.69h0M71.03 129.51h0M62.18 117.36h0M73.07 113.67h0M66 117.18h0M70.34 108.96h0M61.8 119.88h0M71.97 124.19h0M68.65 122.92h0M65.27 123.17h0M60.34 122.43h0M69.54 131.05h0M66.63 122.7h0M70.59 124.97h0M69.5 127.47h0M72.73 110.71h0M68.84 110.56h0M66.84 126.78h0M69.14 117.18h0M63.96 112.83h0M63.44 114.84h0M69.19 117.58h0M68.76 125.5h0M70.73 126.64h0M68.63 111.73h0M66.64 119.72h0M69.51 113.25h0M67.43 110.87h0M65.07 119h0M71.21 123.68h0M71.9 110.63h0M73.84 119.08h0M70.15 128.87h0M64.48 114.08h0M70.38 115.81h0M67.09 122.4h0M65.05 119.73h0M64.83 122.54h0M67.95 123.14h0M64.38 120.75h0M68.94 126.8h0M64.76 110.54h0M63.69 111.44h0M67.99 128.69h0M62.35 112.72h0M66.64 128.79h0M68.26 111.59h0M62.05 117.82h0M62.67 122.42h0M66.09 109.48h0M66.83 126.33h0M70.43 124.55h0M67.37 112.28h0M68.51 127.82h0M63.49 117.41h0M67.9 126.55h0M66.04 113.19h0M70.72 109.58h0M66.92 110.55h0M65.01 122h0M69.72 117.43h0M63.98 120.72h0M70.36 128.36h0M63.92 112.57h0M70.21 110.64h0M67.28 129.78h0M69.95 129.81h0M67.99 111.91h0M71.9 127.03h0M67.56 118.91h0M73.2 127.12h0M70.75 127.41h0M63.18 115.28h0M73.71 127.63h0M63.09 112.48h0M67.21 129.76h0M69.1 131.08h0M69.7 102.49h0M67.72 95.77h0M69.06 104.13h0M66.21 96.39h0M68.91 99.32h0M70.39 101.79h0M68.78 106.87h0M68.2 107.01h0M71.64 100.53h0M65.93 89.76h0M71.06 102.29h0M71.06 95.61h0M70.57 103.62h0M65.98 101.09h0M71.3 107.08h0M67.98 101.99h0M71.4 108.24h0M68.5 108.48h0M71.27 108.42h0M70.32 91.09h0M65.56 108.15h0M68.11 106.03h0M66.52 98.77h0M70.58 99.7h0M69.5 104.05h0M67.93 100.28h0M71.29 104.62h0M66.64 101.31h0M65.37 93.84h0M69.12 103.18h0M71.3 92.7h0M67.55 92.56h0M68.84 105.21h0M65.56 94.47h0M68.48 103.51h0M67.84 106.96h0M70.61 94.37h0M68.54 99.92h0M68.5 100.98h0M65.4 101.43h0M65.77 101.56h0M65.26 99.39h0M68.02 107.2h0M67.6 89.09h0M69.84 90.64h0M66.42 98.6h0M66.67 86.89h0M69.6 95.57h0M65.81 106.44h0M66.58 103.39h0M67.73 102.45h0M70.97 97.17h0M65.94 100.4h0M67.47 105.83h0M69.06 93.1h0M68.01 97.59h0M67.03 97.89h0M67.28 104.33h0M66.15 102.82h0M65.15 96.33h0M69.4 103.93h0M69.96 102.17h0M68.76 91.7h0M65.51 95.08h0M65.76 96.28h0M69.98 106.48h0M71.61 107.56h0M71.5 105.62h0M65.52 89.18h0M71.25 99.87h0M67.67 92.53h0M68.61 87.39h0M69.2 107.01h0M66.37 100.91h0M68.31 107.76h0M68.81 96.67h0M69.62 101h0M68.06 100.23h0M70.21 108.06h0M69.98 106.29h0M71.06 106.81h0M68.48 93.25h0M67.42 88.88h0M70.58 95.78h0M66.51 102.31h0M65.48 106.18h0M70.93 87.41h0M70.77 97.01h0M68.23 106.49h0M65.32 108.36h0M65.32 93.72h0M70.79 94h0M67.93 102.72h0M71.02 102.93h0M65.35 106.82h0M70.69 99.52h0M65.76 104.97h0M68.83 97.57h0M66.99 106.23h0M67.96 105.71h0M69.59 101.17h0M70.06 92.87h0M69.99 106.08h0M69.8 107.71h0M67.2 103.27h0M70.48 104.4h0M68.07 103.61h0M68.93 98.44h0M67.31 106.43h0M67.65 105.68h0M66.07 94.24h0M67.12 104.1h0M67.46 103.26h0M70.56 105.07h0M71.24 103.03h0M66.42 97.21h0M66.3 99.43h0M71.31 105.93h0M70.43 104.31h0M66.51 108.23h0M65.91 104.21h0M65.49 97.83h0M69.22 93.79h0M69.65 104.17h0M71.37 105.98h0M68.47 102.76h0M66.21 100.28h0M66.15 98.07h0M70.82 100.37h0M70.64 88.45h0M68.8 101.5h0M71.18 101.84h0M71.05 98.03h0M65.23 102.17h0M68.79 97.28h0M65.22 101.85h0M70.71 105.68h0M68.37 103.91h0M69.92 105.87h0M71.05 97.24h0M67.14 99.21h0M65.64 103.53h0M70.27 107.84h0M69.01 93.85h0M65.64 99.11h0M68.72 106.86h0M67.9 101.37h0M65.89 101.08h0M69.52 107.22h0M68.51 87.12h0M65.58 108.02h0M68.95 106.29h0M66.63 100.34h0M69.48 99.99h0M65.89 105.38h0M67.45 98.69h0M66.23 99.34h0M68.11 99.54h0M65.79 99.11h0M71.44 101.81h0M70.01 104.36h0M70.1 100.91h0M70.21 98h0M68.03 103.38h0M67.83 97.56h0M66.37 107.39h0M67.01 98.06h0M67.01 102.73h0M67.01 100.14h0M65.32 95.26h0M70.84 102.95h0M71.33 93.91h0M65.6 108.14h0M67.36 95.3h0M71.41 107.87h0M69.41 102.15h0M69.2 92.36h0M65.2 108.27h0M67.59 105.79h0M70.22 98.12h0M68.93 102.48h0M69.51 102.46h0M67.52 107.46h0M71.25 106.45h0M69.49 101.41h0M70.6 99.19h0M65.29 108.2h0M65.15 108.3h0M67.15 100.2h0M65.55 108.19h0M65.39 108.05h0M67.18 104.54h0M66.99 100.06h0M71.48 100.89h0M69.77 108.57h0M65.62 103.09h0M71.6 108.5h0M67.62 99.47h0M70.19 99.53h0M66.75 108.22h0M70.51 102.35h0M71.34 103.75h0M68.75 92.87h0M65.89 103.1h0M66.84 93.73h0M67.35 105.28h0M65.22 92.53h0M69.68 104.97h0M65.32 106.02h0M68.13 98.13h0M69.86 92.54h0M69.94 94.62h0M67.98 99.89h0M65.82 97.94h0M68.75 88.08h0M69.95 103.9h0M69.42 103.02h0M71.33 86.31h0M68.4 103.2h0M70.84 100.35h0M69.05 97.52h0M69.27 101.34h0M65.95 106.74h0M70.61 105.72h0M71.37 97.41h0M66.78 90.25h0M67.32 98.14h0M70.83 108.28h0M70.81 99.06h0M70.96 97.09h0M68.33 91.36h0M68.46 107.91h0M66.79 102.5h0M65.77 101.34h0M71.14 103.71h0M68.21 106.62h0M68.4 103.33h0M71.54 106.04h0M65.82 95.96h0M66.05 102.82h0M71.59 101.43h0M71.74 104.83h0M65.42 97.8h0M70.93 97.92h0M69.81 98.24h0M68.24 102.83h0M65.27 95.81h0M70.11 104.87h0M69.66 101.21h0M66.45 97.24h0M67.22 104.64h0M67.25 103.7h0M68.19 99.39h0M67.64 104.1h0M69.96 98h0M69.61 100.94h0M69.69 86.58h0M66.22 88.87h0M66.22 103.53h0M66.39 93.87h0M65.24 91.61h0M68.81 89.36h0M65.4 95.72h0M68.27 97.82h0M68.36 106.98h0M69.84 107.8h0M70.9 99.39h0M70.51 106.15h0M69.87 92.85h0M65.16 103.23h0M65.4 95.08h0M66.41 101.97h0M68.49 96.73h0M70.45 93.19h0M69.06 106.31h0M66.3 102.48h0M68.97 101.19h0M65.67 107.41h0M69 106.73h0M69.82 96.79h0M70.16 106.35h0M66.46 92.85h0M69.93 108.42h0M67.6 91.28h0M67.34 104.79h0M66.78 97.58h0M67.13 97.5h0M70.99 104.59h0M68.3 87.57h0M69.28 95.59h0M65.49 93.29h0M67 102.66h0M66.1 103.53h0M70.2 96.49h0M67.9 95.21h0M65.68 107.32h0M65.69 106.22h0M68.91 101.08h0M71.13 91.04h0M71.62 101.94h0M70.24 105.16h0M69.99 101.21h0M67.3 104.29h0M71.37 104.34h0M68.98 100.75h0M71.29 104.25h0M68.39 98.93h0M67.42 104.89h0M70.96 102h0M69.28 99.74h0M66.92 107.8h0M65.61 102.65h0M67.85 100.07h0M68.58 95.24h0M70.1 101.38h0M67.83 107.47h0M66.31 96.1h0M67.58 104.89h0M69.2 104.96h0M68.84 90.26h0M66.42 104.49h0M70.72 107.89h0M68.05 92.11h0M65.67 106.17h0M70.83 101.39h0M70.29 99.16h0M69.57 101.93h0M69.78 103.87h0M70.57 106.44h0M67.15 99.63h0M66.53 106.52h0M69.03 97.11h0M68.79 102.89h0M71.03 98.49h0M67.14 99.54h0M66.28 101.77h0M68.73 108.18h0M69.8 97.67h0M70.55 105.79h0M65.22 101.39h0M71.59 105.3h0M66.02 104.41h0M70.93 107.31h0M68.61 93.52h0M67.01 100.05h0M68.54 96.45h0M68.57 99.34h0M70.92 105.84h0M69.34 108.18h0M71.75 95.43h0M69.89 106.06h0M66.35 104.5h0M65.94 107.42h0M66.22 102.94h0M66.56 98.19h0M71.45 96.1h0M70.1 97.24h0M70.41 97.78h0M69.2 100.84h0" stroke="#808080" stroke-width="1.4" stroke-linecap="round" fill="none"/>
<path d="M64.58 107.53h0M58.68 102.47h0M63.07 97.48h0M56.32 103.47h0M59.68 107.82h0M64.76 96.51h0M56.62 105.94h0M63.92 105.42h0M55.05 105.01h0M63.69 99.71h0M63.95 96.85h0M60.6 105.44h0M60.54 100.4h0M63.75 105.42h0M62.27 103.55h0M60.86 100.99h0M64 100.39h0M63.22 103.6h0M55.77 106.04h0M61.44 104.65h0M60.83 101.06h0M64.53 102.65h0M52.78 106.57h0M59.69 107.19h0M62.47 98.54h0M62.04 105.49h0M61.96 102.73h0M56.75 106.11h0M53.1 107.07h0M63.82 105.54h0M53.81 105.75h0M64.59 104.55h0M60.78 106.63h0M58.61 104.95h0M64.59 97.27h0M59.03 102.8h0M59.52 106.62h0M60.12 102.57h0M63.04 105.2h0M54.86 107.87h0M63.75 105.15h0M61.5 98.21h0M63.66 97.25h0M62.85 101.7h0M61.85 103.73h0M63.22 100.54h0M53.25 107.55h0M55.19 107.59h0M64.39 101.67h0M61.5 106.96h0M60.63 98.97h0M64.23 99.24h0M60.55 105.07h0M59.08 104.83h0M61.08 108h0M62.05 102.46h0M60.84 102.45h0M54.33 107.83h0M61.98 102.99h0M64.66 105.08h0M64.43 98.26h0M64.09 99.36h0M61.84 106.81h0M63.21 103.19h0M61.3 101h0M56.99 107.86h0M63.38 98.77h0M62.22 98.01h0M62.64 100.21h0M64.02 96.45h0M64.84 85.31h0M64.12 102.64h0M64.72 88.32h0M64.74 85.52h0M64.75 94.01h0M65.01 89.03h0M64.97 91.02h0M65.14 104.23h0M64.93 93.67h0M65.09 88.69h0M65 95.85h0M65.04 97.95h0M64.73 88.96h0M64.48 104.37h0M61.39 96.76h0M62.63 106.19h0M59.42 93.68h0M61.56 102.3h0M64.26 99.86h0M61.22 104.64h0M61.05 98.2h0M64.63 106.75h0M63.53 93.13h0M60.62 100.62h0M63.87 104.05h0M63.28 103.77h0M62.74 86.89h0M60.83 104.22h0M61.22 105.35h0M30.3 44.1h0M63.2 42.2h0M65.1 56.2h0M56.7 69.2h0M49.4 72.4h0M53.8 72.4h0M45.2 101.5h0M50.7 101.5h0M49.2 88.3h0M55.5 83.9h0M54 91h0M57.4 91h0M59.9 85.5h0M61.3 90.6h0M64.8 70h0M64.5 80h0M12.3 29.4h0M12.3 33.6h0M12.3 36.1h0M12.3 38h0M12.3 41.8h0M12.3 47.5h0M12.3 49.5h0M12.3 53.3h0M12.3 56.2h0M12.3 59h0M12.3 61.9h0M12.3 78.8h0M12.3 83h0M12.3 85.8h0M12.3 87.8h0" stroke="#0000ff" stroke-width="1.65" stroke-linecap="round" fill="none"/>
<path d="M80.05 104.21h0M73.29 98.11h0M75 98.04h0M87.43 107.84h0M73.59 99.86h0M72.26 96.08h0M81.46 104.67h0M72.29 105.61h0M73.85 103.4h0M76.85 100.31h0M75.37 107.41h0M75.65 102.59h0M75.66 106.23h0M72 101.99h0M77.88 101.84h0M72.02 103.75h0M73.52 103.71h0M72.64 96.99h0M82.78 104.91h0M83.39 106.4h0M72.55 100.66h0M76.91 101.79h0M76.68 104.75h0M76.35 101.56h0M77.94 104.89h0M76.84 100.65h0M81.12 104.67h0M81.48 106.98h0M77.87 100.92h0M80.18 105.18h0M77.59 101.05h0M80.09 105.84h0M75.21 107.65h0M82.07 105.62h0M79.25 103.76h0M74.78 105.06h0M78.6 101.74h0M80.05 106.45h0M81.23 107.86h0M80.63 106.25h0M72.12 102.76h0M79.72 102.04h0M81.06 106.74h0M77.35 102.13h0M78.21 107.18h0M74.11 106.58h0M73.35 103.39h0M76.34 92.47h0M74.63 101.68h0M75.9 99.5h0M72.45 102.09h0M72.87 102.16h0M75.45 106.03h0M72.1 106.66h0M75.23 101.06h0M72.25 99.63h0M73.33 89.29h0M73.3 69h0M76.2 71.1h0M76.2 76.8h0M78.1 89.1h0M81.8 86.8h0M84.8 93.1h0M90.6 93.9h0M84.2 95.4h0M87.1 105.4h0M73 75h0M74 84h0M124.8 43.7h0M124.8 45.6h0M124.8 56.2h0M124.8 61h0M124.8 62.9h0M124.8 88.3h0" stroke="#ff0000" stroke-width="1.65" stroke-linecap="round" fill="none"/>
</g>
<line x1="11.5" y1="108.57" x2="125.5" y2="108.57" stroke="#444" stroke-width="0.55" stroke-dasharray="1.3 0.8"/>
<line x1="65.5" y1="24.2" x2="65.5" y2="136.3" stroke="#111" stroke-width="0.55" stroke-dasharray="1.3 0.8"/>
<line x1="71.8" y1="24.2" x2="71.8" y2="136.3" stroke="#777" stroke-width="0.5" stroke-dasharray="0.8 0.7"/>
<rect x="11.5" y="24.2" width="114" height="112.1" fill="none" stroke="#555" stroke-width="0.55"/>
<line x1="13.4" y1="136.3" x2="13.4" y2="137.7" stroke="#333" stroke-width="0.45"/>
<text x="13.4" y="141.6" font-size="3.6" text-anchor="middle" fill="#222" font-family="'DejaVu Sans', sans-serif">−10.0</text>
<line x1="27.16" y1="136.3" x2="27.16" y2="137.7" stroke="#333" stroke-width="0.45"/>
<text x="27.16" y="141.6" font-size="3.6" text-anchor="middle" fill="#222" font-family="'DejaVu Sans', sans-serif">−7.5</text>
<line x1="40.93" y1="136.3" x2="40.93" y2="137.7" stroke="#333" stroke-width="0.45"/>
<text x="40.93" y="141.6" font-size="3.6" text-anchor="middle" fill="#222" font-family="'DejaVu Sans', sans-serif">−5.0</text>
<line x1="54.69" y1="136.3" x2="54.69" y2="137.7" stroke="#333" stroke-width="0.45"/>
<text x="54.69" y="141.6" font-size="3.6" text-anchor="middle" fill="#222" font-family="'DejaVu Sans', sans-serif">−2.5</text>
<line x1="68.45" y1="136.3" x2="68.45" y2="137.7" stroke="#333" stroke-width="0.45"/>
<text x="68.45" y="141.6" font-size="3.6" text-anchor="middle" fill="#222" font-family="'DejaVu Sans', sans-serif">0.0</text>
<line x1="82.21" y1="136.3" x2="82.21" y2="137.7" stroke="#333" stroke-width="0.45"/>
<text x="82.21" y="141.6" font-size="3.6" text-anchor="middle" fill="#222" font-family="'DejaVu Sans', sans-serif">2.5</text>
<line x1="95.97" y1="136.3" x2="95.97" y2="137.7" stroke="#333" stroke-width="0.45"/>
<text x="95.97" y="141.6" font-size="3.6" text-anchor="middle" fill="#222" font-family="'DejaVu Sans', sans-serif">5.0</text>
<line x1="109.74" y1="136.3" x2="109.74" y2="137.7" stroke="#333" stroke-width="0.45"/>
<text x="109.74" y="141.6" font-size="3.6" text-anchor="middle" fill="#222" font-family="'DejaVu Sans', sans-serif">7.5</text>
<line x1="123.5" y1="136.3" x2="123.5" y2="137.7" stroke="#333" stroke-width="0.45"/>
<text x="123.5" y="141.6" font-size="3.6" text-anchor="middle" fill="#222" font-family="'DejaVu Sans', sans-serif">10.0</text>
<line x1="10.1" y1="131.1" x2="11.5" y2="131.1" stroke="#333" stroke-width="0.45"/>
<text x="9.5" y="132.4" font-size="3.6" text-anchor="end" fill="#222" font-family="'DejaVu Sans', sans-serif">0</text>
<line x1="10.1" y1="113.78" x2="11.5" y2="113.78" stroke="#333" stroke-width="0.45"/>
<text x="9.5" y="115.08" font-size="3.6" text-anchor="end" fill="#222" font-family="'DejaVu Sans', sans-serif">1</text>
<line x1="10.1" y1="96.46" x2="11.5" y2="96.46" stroke="#333" stroke-width="0.45"/>
<text x="9.5" y="97.76" font-size="3.6" text-anchor="end" fill="#222" font-family="'DejaVu Sans', sans-serif">2</text>
<line x1="10.1" y1="79.14" x2="11.5" y2="79.14" stroke="#333" stroke-width="0.45"/>
<text x="9.5" y="80.44" font-size="3.6" text-anchor="end" fill="#222" font-family="'DejaVu Sans', sans-serif">3</text>
<line x1="10.1" y1="61.82" x2="11.5" y2="61.82" stroke="#333" stroke-width="0.45"/>
<text x="9.5" y="63.12" font-size="3.6" text-anchor="end" fill="#222" font-family="'DejaVu Sans', sans-serif">4</text>
<line x1="10.1" y1="44.5" x2="11.5" y2="44.5" stroke="#333" stroke-width="0.45"/>
<text x="9.5" y="45.8" font-size="3.6" text-anchor="end" fill="#222" font-family="'DejaVu Sans', sans-serif">5</text>
<line x1="10.1" y1="27.18" x2="11.5" y2="27.18" stroke="#333" stroke-width="0.45"/>
<text x="9.5" y="28.48" font-size="3.6" text-anchor="end" fill="#222" font-family="'DejaVu Sans', sans-serif">6</text>
<text x="68.5" y="22.9" font-size="4.3" text-anchor="middle" fill="#111" font-family="'DejaVu Sans', sans-serif">Volcano Plot</text>
<text x="68.5" y="146.5" font-size="3.6" text-anchor="middle" fill="#222" font-family="'DejaVu Sans', sans-serif">log2(FC)</text>
<text x="4.5" y="80.25" font-size="3.6" text-anchor="middle" fill="#222" font-family="'DejaVu Sans', sans-serif" transform="rotate(-90 4.5 80.25)">-log10P-value</text>
<text x="65.1" y="38.4" font-size="3.6" text-anchor="end" fill="#222" font-family="'DejaVu Sans', sans-serif">FC=1/1.5</text>
<text x="72.2" y="38.4" font-size="3.6" fill="#222" font-family="'DejaVu Sans', sans-serif">FC=1.5</text>
<text x="124" y="112.8" font-size="3.7" text-anchor="end" fill="#222" font-family="'DejaVu Sans', sans-serif">P-value=0.05</text>
</g>
<g>
<clipPath id="vc2"><rect x="158.6" y="22.9" width="116.8" height="113.4"/></clipPath>
<g clip-path="url(#vc2)">
<path d="M223.23 120.85h0M209.15 123.45h0M221.92 114.48h0M220.93 124.33h0M219.93 125.28h0M206.42 117.71h0M209.71 122.92h0M224.2 124.78h0M207.71 121.08h0M207.91 122.18h0M225.03 119.61h0M218.95 127.26h0M222.94 127.72h0M220.26 129.14h0M219.12 130.59h0M210.46 126.56h0M211.23 121.9h0M222.69 121.92h0M213.91 130.63h0M218.44 129.58h0M224.54 118.92h0M206.92 124.72h0M220.56 114.39h0M222.29 115.02h0M220.52 116.76h0M220.89 129.74h0M223.92 123.31h0M224.51 118.62h0M210.31 118.01h0M209.61 127.01h0M208.63 123.94h0M222.32 118.6h0M213.9 130.6h0M205.64 118.29h0M211.18 129.16h0M222.02 127.59h0M208.31 117.34h0M220.93 123.24h0M223.95 119.6h0M223.03 116.36h0M220.31 121.73h0M221.64 115.43h0M225.53 123.98h0M224.46 124.98h0M206.51 118.97h0M210.63 125.86h0M211.34 114.34h0M219.29 127.68h0M223.12 124.45h0M219.1 129.83h0M225.13 117.43h0M210.07 113.66h0M219.56 125.42h0M209.81 120.57h0M211.54 113.8h0M217.67 129.03h0M220.43 128.68h0M219.67 130.04h0M222.36 127.45h0M210.5 119.11h0M221.64 116.05h0M206.35 122.73h0M211.78 130.07h0M212.3 119.91h0M210.92 125.14h0M206.97 123.04h0M209.36 120.25h0M207.09 125.58h0M224.6 123.28h0M223.8 116.49h0M222.35 124.4h0M204.24 118.76h0M219.36 129.34h0M224.69 119.24h0M206.27 122.08h0M209.85 121.6h0M212.42 129.13h0M211.15 125.53h0M210.48 119.91h0M212.39 130.76h0M207.37 119.26h0M220.26 115.26h0M210.33 121.95h0M205.67 122.95h0M226.72 121.97h0M225.14 123.34h0M223.09 125.67h0M210.87 122.92h0M209.76 121.29h0M223.31 122.16h0M211.4 120.56h0M206.47 117.1h0M209.03 122.27h0M204.6 116.93h0M222.39 123.9h0M223.01 117.35h0M225.71 123.04h0M225.03 120.44h0M212.22 122.19h0M207.4 120.77h0M212.47 124.06h0M220.79 114.33h0M224.71 123.05h0M208.3 114.04h0M207.25 120.28h0M219.27 130.55h0M210.66 129.8h0M204.72 116.71h0M226.91 121.64h0M223.27 117.43h0M208.74 116.49h0M226.12 124.94h0M221.85 123.03h0M221.12 121.16h0M221.55 123.53h0M205.69 123.7h0M223.13 120.96h0M208.87 116.41h0M206.69 117.29h0M210.89 113.66h0M227.11 117.21h0M207.11 116.65h0M226.04 115.16h0M206.8 114.06h0M219.03 128.57h0M227.77 114.38h0M221.97 127.35h0M223.58 125.99h0M208.49 114.24h0M211.43 128.97h0M222.02 118.04h0M227.69 116.58h0M208.51 118.55h0M225.1 119.13h0M218.56 130.79h0M220.77 122.82h0M224.17 120.76h0M204.48 125.17h0M207.6 127.55h0M227.33 116.3h0M224.86 123.47h0M205.4 123.85h0M224.26 115.97h0M220.57 116.62h0M223.8 117.9h0M211 118.8h0M218.85 129.45h0M229.01 122.41h0M208.06 120.05h0M222.12 127.6h0M210.47 116.88h0M223.23 122.85h0M225.93 125.19h0M209.35 123.84h0M226.82 114.5h0M222.96 114.99h0M206.88 122.42h0M220.32 121.87h0M206.07 123.76h0M213.26 130.56h0M227.36 116.58h0M209.23 126.62h0M220.34 126.32h0M208.03 116.79h0M211.43 119.08h0M210.97 122.24h0M210.21 125.68h0M207.44 117.45h0M204.36 119.11h0M208.69 125.56h0M208.68 124.06h0M210.9 125.3h0M208.69 124.32h0M212.44 128.52h0M223.37 116.51h0M210.66 123.85h0M205.19 114h0M209.09 120.64h0M205.72 118.65h0M223.22 121.74h0M223.06 127.25h0M207.88 123.65h0M221.58 124.38h0M219.69 130.21h0M207.29 125.13h0M221.41 126.75h0M210.55 123.33h0M221.27 120.63h0M212.06 128.85h0M219.98 126.69h0M210.54 122.62h0M214.34 130.5h0M219.64 128.78h0M221.54 122.97h0M226.72 117.77h0M205.52 114.48h0M217.88 129.51h0M207.96 122.02h0M223.79 123.7h0M221.08 115.79h0M220.39 123.84h0M210.15 119.48h0M223.21 116.73h0M208.51 114.2h0M211.11 117.99h0M220.26 116.98h0M219.99 127.13h0M208.82 115.47h0M211.37 123.26h0M220.86 122.84h0M221 118.84h0M225.75 115.56h0M207.71 115.32h0M209.67 114.42h0M225.95 115.27h0M209.25 115.66h0M218.55 129.07h0M211.01 115.23h0M204.41 118.79h0M208.63 122.33h0M208.36 121.66h0M221.36 118.3h0M211.1 123.78h0M209.81 128.68h0M225.98 124.48h0M225.84 120.67h0M220.29 114.49h0M219.46 127.7h0M209.56 126.49h0M220.87 128.03h0M211.27 124.43h0M226.16 121.48h0M213.64 129.93h0M220.93 127.71h0M206.51 113.89h0M220.07 127.82h0M221.33 129.49h0M220.22 117.58h0M221.43 121.62h0M224.88 124.1h0M213.17 130.75h0M209.47 126.23h0M222.68 122.74h0M212 115.83h0M219.86 118.45h0M221.12 123.57h0M223.35 123.86h0M208.39 124.43h0M205.11 120.3h0M221.49 116.85h0M206.79 125.67h0M208.5 120.06h0M207.44 122.4h0M209.86 114.24h0M218.37 127.64h0M207.1 115.95h0M222 117.59h0M211.55 119.14h0M222.39 127.34h0M208.35 126.61h0M207.89 113.72h0M223.91 120.96h0M205.79 121.05h0M224.09 118.11h0M220.4 129.6h0M224.43 123.84h0M226.32 116.2h0M224.56 121.94h0M225.05 123.38h0M207.99 114.52h0M223.75 118.68h0M221.49 126.97h0M222.19 126.51h0M219.59 123.01h0M221.24 122.73h0M217.99 128.86h0M222.36 125.13h0M221.8 126.47h0M209.35 115.29h0M221.29 124.28h0M204.36 115.62h0M224.12 119.99h0M219.67 123.67h0M207.9 116.22h0M223.01 127.54h0M227.54 117.3h0M211.26 127.14h0M222.31 120.83h0M211.31 127.59h0M205.09 116.64h0M225.84 124.31h0M223.72 113.77h0M212.32 128.93h0M206.91 117.17h0M222.48 116.55h0M218.58 130.77h0M207.34 116.33h0M210.71 125.52h0M205.78 121.99h0M221.71 127.89h0M210.47 124.1h0M220.92 125.84h0M210.93 122.19h0M206.11 115.59h0M223.64 114.16h0M220.37 126.43h0M224.42 116.01h0M220.52 119.88h0M206.79 116.97h0M210.62 129.89h0M207.26 118.53h0M218.31 130.88h0M226.89 117.68h0M211.1 126.11h0M210.76 122.02h0M220.36 124.71h0M209.49 113.77h0M224.55 118.01h0M221.22 122.21h0M226.16 120.96h0M209.44 125.29h0M212.05 129.29h0M223.94 125.31h0M222.61 118.01h0M205.82 115.62h0M209.19 124.25h0M211.65 129.2h0M221.45 122.55h0M210.14 126.49h0M210.88 114.5h0M222.07 119.85h0M209.49 116.18h0M210.52 123.47h0M222.79 119.41h0M225.66 123.62h0M207.83 116.56h0M226.37 116.1h0M211.99 123.39h0M225.87 118.48h0M224.29 115.74h0M220.31 116.01h0M227.01 121.53h0M208.59 113.67h0M211.65 128.75h0M224.25 126.67h0M221.83 119.49h0M220.96 118.17h0M209.78 118.39h0M210.95 118.01h0M222.23 128.85h0M209.89 119.44h0M218.83 129.87h0M212.38 129.87h0M223.04 122.73h0M211.37 124h0M209.53 118.29h0M220.4 126h0M211.35 122.44h0M223.76 126.89h0M221.22 129.79h0M222.85 127.63h0M224.89 118.66h0M219.65 127.21h0M223.1 117.04h0M223.07 125.71h0M210.93 120.2h0M209.19 123.95h0M203.77 117.75h0M221.95 120.26h0M221.01 125.08h0M210.49 117.3h0M225.65 113.97h0M210.78 127.22h0M224.49 115.74h0M210.4 126.87h0M222.73 126.55h0M208.04 123.93h0M210.35 125.85h0M222.82 114.59h0M222.63 118.09h0M220.97 124.47h0M222.19 117.05h0M221.4 123.4h0M223.65 116.56h0M208.84 124.22h0M224.76 119.79h0M207.06 117.68h0M218.4 128.67h0M219.56 130.17h0M210.63 122.46h0M213.02 130.35h0M218.35 129.98h0M225.34 116.24h0M225.04 120.54h0M206.57 114.83h0M207.93 120.97h0M220.8 127.58h0M223.34 121.54h0M224.22 118.9h0M221.62 116.4h0M210.39 125.9h0M212.21 129.02h0M214.52 130.34h0M211.18 119.51h0M212.35 127.64h0M221.5 129.52h0M211.6 129.31h0M209.63 128.56h0M221.77 122.84h0M209.69 117.87h0M224.6 120.29h0M211.18 115.09h0M220.66 129.59h0M220.37 118.84h0M222.05 119.66h0M221.63 127.54h0M221.77 121.42h0M222.48 124.14h0M221.86 118.83h0M225.06 117.58h0M214.41 130.44h0M225.65 115.56h0M210.4 126.78h0M223.37 120.91h0M224.15 120.03h0M209.01 119.6h0M224.91 114.59h0M220.22 124.01h0M208.38 125.01h0M210.7 129.73h0M227.13 116.24h0M224.79 121.21h0M212.19 114.22h0M207.4 123.96h0M219.62 123.19h0M221.04 116.11h0M208.99 126.69h0M213.35 128.47h0M207.61 127.5h0M218.48 130.16h0M220.08 129.96h0M206.3 125.23h0M211.82 126.85h0M222.06 123.33h0M209.76 124.46h0M219.17 129.35h0M218.67 128.22h0M210.6 129.79h0M210.94 129.05h0M208.77 124.91h0M202.52 118.62h0M221.59 123.98h0M220.17 122.88h0M209.02 123.05h0M220.86 125.53h0M222.11 119.52h0M220.34 129.16h0M224.1 127h0M226.45 117.41h0M224.05 122.66h0M208.66 123.53h0M207.18 119.4h0M227.35 117.87h0M212.17 114.48h0M220.65 129.2h0M217.3 129.72h0M210.66 120.36h0M206.13 114.63h0M212.94 129.34h0M210.09 126.43h0M225.64 116.7h0M206.93 120.58h0M222.2 128.06h0M224.73 123.22h0M222.05 119.97h0M222.35 124.34h0M212.33 129.86h0M213.06 130.47h0M223.6 125.15h0M220.34 124.12h0M212.39 130.06h0M220.3 123.78h0M207.17 123.42h0M221.44 115.51h0M224.55 115.98h0M213.01 130.49h0M206.48 114.01h0M212.06 128.74h0M208.36 119.3h0M207.46 123.66h0M211.47 124.49h0M208.14 122.99h0M205.37 123.28h0M219.9 123.84h0M208.64 124.66h0M211.71 116.08h0M210.38 120.8h0M221.09 120.49h0M220.47 129.13h0M228.53 114.32h0M209.62 118.33h0M221.28 127.27h0M224.38 123.55h0M212.15 128.98h0M227.79 116.65h0M222.78 114.35h0M220.99 128.1h0M209.27 118.89h0M220.94 122.83h0M207.26 118.27h0M219.93 125.89h0M205.39 119.52h0M226.5 118.89h0M210.18 126.97h0M209.21 120.58h0M227.08 115.69h0M208.16 126.12h0M224.55 122.21h0M220.22 115.71h0M209.45 122.86h0M209.98 127.24h0M224.19 118.96h0M225.71 118.69h0M211.11 127.3h0M227.16 119.25h0M216.29 99.02h0M217.81 95.3h0M215.47 100.77h0M219.57 100.46h0M218.66 75.73h0M219.77 89.66h0M219.54 96.37h0M216.03 85.48h0M216.96 94.76h0M213.79 100.45h0M214.77 100.44h0M215.62 93.05h0M215.41 94.47h0M214.99 97.64h0M213.83 101.11h0M214.48 81.72h0M214.62 95.83h0M216.85 96.13h0M218.17 94.18h0M218.56 94.2h0M217.92 95.73h0M218.38 83.35h0M218.98 92.1h0M216.68 85.04h0M217.73 104.01h0M213.95 95.82h0M218.83 92.1h0M217.68 97.78h0M214.39 94.08h0M214.36 94.84h0M216.08 101.25h0M217.65 88.27h0M216.81 100.39h0M219.83 95.9h0M214.29 98.04h0M219.54 98.8h0M216.46 96.32h0M217.89 92.7h0M219.23 82.05h0M218.44 95.02h0M219.14 82.24h0M215.53 92.25h0M220.02 93.36h0M218.25 82.15h0M217.35 82.03h0M219.77 101.68h0M215.8 102.46h0M214.07 99.7h0M220.03 90.38h0M218.39 92.01h0M215.26 96.83h0M217.5 96.7h0M215.04 91.15h0M219.5 93.59h0M214.8 98.06h0M220.05 82.88h0M216.93 76.88h0M218.02 99.47h0M213.96 86.95h0M217.77 90.68h0M216.24 98.91h0M216.64 91.5h0M216.64 103h0M214.67 90.67h0M215.32 94.03h0M219.16 99.8h0M216.23 93.57h0M217.53 97.03h0M218.7 98.14h0M217.78 93.83h0M215.7 89.49h0M215.77 95.86h0M219.51 90.22h0M218.4 94.87h0M217.25 102.21h0M217.58 75.92h0M218.81 88.78h0M216.15 95.63h0M218.23 100.96h0M217.41 92.96h0M215.06 96.82h0M214.8 103.34h0M216.8 96.05h0M219.2 96.1h0M218.65 91.74h0M215.58 98.69h0M216.29 92.94h0M216.5 88.74h0M214.5 91.53h0M218.73 96.5h0M216.09 98.49h0M217.47 92.76h0M216.91 95.33h0M215.32 80.87h0M216.8 91.54h0M217.12 86.13h0M215.49 86.94h0M218.39 92.22h0M215.57 90.88h0M214.07 84.8h0M214.02 94.21h0M218.06 101.4h0M214.41 98.74h0M218.45 94.66h0M220.07 99.8h0M216.26 104.2h0M219.51 96.22h0M214.52 95.54h0M216.83 99.2h0M217.89 102.52h0M218.84 95.37h0M214.03 94.9h0M216.64 91.36h0M215.33 92.28h0M216.27 96.8h0M216.41 91.81h0M214.06 89.92h0M216.71 87.93h0M215.63 86.61h0M219.09 95.12h0M218.07 95.69h0M216.62 94.71h0M216.18 97.6h0M214.19 93.76h0M213.78 84.19h0M215.55 97.54h0M217.05 96.62h0M215.68 90.19h0M217.2 94.24h0M214.66 78.06h0M220.19 96.36h0M219.66 77.37h0M217.78 80.77h0M214.65 100.68h0M214.59 97.86h0M215.16 83.58h0M216.64 93.33h0M218.8 102.85h0M214.05 94.68h0M215.24 94.43h0M218.92 77.65h0M215.09 87.26h0M219.01 89.02h0M214.91 104.88h0M216.28 98.65h0M215.06 74.44h0M220.18 93.67h0M218.54 103.36h0M214.58 94.03h0M218.87 86.72h0M218.41 82.36h0M215.7 99.84h0M217.92 95.23h0M214.47 75.98h0M215.41 94.64h0M217.36 96.26h0M220.14 77.91h0M216.02 100.44h0M213.82 83.7h0M159 117.5h0M159 122.4h0M159 127.3h0M159 130.3h0M192.3 124.6h0M198.4 123.5h0M217.72 114.37h0M215.11 116.45h0M213.02 119.32h0M215.76 123.21h0M217.39 122.86h0M212.38 126.82h0M221.29 119.24h0M218.66 115.45h0M214.01 117.86h0M214.7 122.24h0M211.64 118.39h0M216.25 118.8h0M214.17 115.2h0M215.1 125.51h0M223.05 122.05h0M212.36 116.72h0M219.43 115.21h0M217.22 126.98h0M213.71 116.14h0M214.23 130.35h0M214.91 127.93h0M215.15 130.46h0M215.89 130.53h0M217.94 130.27h0M215.79 120.26h0M214.79 130.37h0M215.02 117.66h0M217.16 122.73h0M221.45 115.78h0M221.24 122h0M215.2 114.31h0M216.48 128.47h0M215.82 129.24h0M214.71 126.88h0M211.35 118.63h0M215.4 123.59h0M215.84 123.83h0M216.03 118.39h0M217.78 126.9h0M216.54 127.23h0M214.8 114.25h0M209.86 120.85h0M212.58 123.67h0M215.21 117.02h0M211.56 113.89h0M215.64 130.57h0M213.18 116.37h0M217.02 127.3h0M215.05 129.62h0M212.07 127.57h0M213.24 117.87h0M216.58 128.8h0M217.59 119.82h0M217.23 118.39h0M218.6 121.8h0M215.58 122.45h0M217.55 128.37h0M222.38 119.69h0M216.74 125.78h0M213.54 129.24h0M215.3 118.53h0M217.35 113.69h0M209.01 123.27h0M218.6 120.61h0M213.57 122.56h0M211.88 114.27h0M218.95 117.64h0M212.71 128.52h0M211.98 121.11h0M217.3 127.36h0M215.48 122.51h0M216.12 119.52h0M209.98 125.11h0M218.15 122.2h0M215.94 127.9h0M220.98 115.96h0M212.54 128.09h0M217.74 130.72h0M210.46 114.18h0M212.47 125.57h0M209.95 115.08h0M212.85 116.65h0M212.21 117.1h0M212.54 122.99h0M218.1 126.1h0M215.25 124.34h0M220.93 125.4h0M218.72 123.26h0M212.53 114.83h0M215.69 129.18h0M219.32 124.44h0M216.98 117.15h0M215.94 118.06h0M210.42 124.07h0M218.76 128.7h0M216.73 115.03h0M208.88 117.73h0M218.77 116.49h0M214.07 125.98h0M213 114.89h0M216.38 128.44h0M219.12 126.57h0M216.18 126.64h0M218.79 121.86h0M211.57 120.35h0M210.28 123.04h0M213.91 129.56h0M218.69 117.1h0M215.77 127.91h0M210.11 126.72h0M216.75 122.22h0M213.7 128.48h0M215.64 129.03h0M216.37 129.98h0M215.22 129.08h0M217.33 120.06h0M221 123.45h0M218.79 124.02h0M220.19 117.67h0M215.54 118.81h0M214.44 130.37h0M214.69 120.88h0M215.48 120.09h0M220.02 116.67h0M210.98 127.51h0M214.56 113.99h0M214.95 122.88h0M219.84 118.78h0M209.92 115.3h0M213.28 118.44h0M222.56 119.5h0M222.44 115.16h0M214.24 114.93h0M212.12 117.55h0M215.82 122.72h0M218.33 127.58h0M214.65 120.99h0M219.27 116.03h0M215.49 116.43h0M216.33 127.48h0M215.62 125.39h0M216.18 128.3h0M219.03 119.75h0M218.82 117.05h0M213.87 114.22h0M213.3 127.39h0M216.14 126.84h0M216.84 128.51h0M221.61 122.69h0M216.59 127.18h0M218.82 122h0M214.59 118.71h0M220.59 127.08h0M216.24 128.45h0M213.96 129.4h0M220.75 122.72h0M213.72 114.95h0M216.21 129.05h0M215.13 125.01h0M211.27 121.56h0M211.69 117.23h0M216.9 115.43h0M222.16 115.18h0M219.58 126.87h0M214.1 130.79h0M219.82 119.63h0M214.97 128.71h0M213.6 128.09h0M215.14 128.69h0M216.77 114h0M215.91 121.05h0M221.72 123.59h0M215.79 127.11h0M214.78 126.63h0M214.4 117.85h0M209.45 114.32h0M210.81 114.17h0M216.81 120.24h0M212.92 128.36h0M211.12 123.97h0M217.42 127.81h0M211.48 120.53h0M213.11 115.01h0M216.33 130.37h0M220.96 118.55h0M217.49 115.38h0M210.56 115.77h0M210.1 120.31h0M219.04 125.66h0M209.72 122.85h0M213.59 113.94h0M218.48 126.71h0M209.48 115.98h0M212.6 123.88h0M217.4 124.64h0M219.46 114.91h0M216.72 120.26h0M212.8 118.73h0M215.95 129.45h0M217.43 130.72h0M212.67 122.73h0M217.66 129.81h0M221.42 116.93h0M215.49 117.09h0M216.69 127.3h0M212.28 128.73h0M214.46 130.22h0M218.31 117.35h0M219.4 119.92h0M217.93 119.75h0M214.86 130.4h0M216.15 129.11h0M216.73 116.01h0M214.84 128.53h0M217.64 124.81h0M213.19 121.11h0M218.72 125.11h0M217.77 123.79h0M214.66 114.37h0M214.62 124.37h0M216.64 117.66h0M220.57 115.26h0M215.08 116.48h0M212.34 120.16h0M213.33 121.61h0M215.88 129.06h0M211.87 126.42h0M214.51 128.48h0M217.57 114.78h0M213.79 129.1h0M216.08 116.48h0M216.74 130.87h0M212.15 128.23h0M215.69 126.3h0M220.24 116.84h0M216.92 113.86h0M213.6 116.97h0M216.54 122.95h0M215.59 128.17h0M214.11 116.81h0M218.51 122.12h0M213.52 116.82h0M215.23 121.99h0M221.65 121.18h0M215.18 126.49h0M220.39 120.18h0M218.76 125.3h0M211.4 114.35h0M213.52 130.08h0M217.18 130.08h0M216.71 123.67h0M214.21 125.77h0M213.16 123.65h0M214.54 114.17h0M215.03 114.03h0M217.98 120.31h0M217.75 129.12h0M215.97 116.25h0M217.21 115.56h0M216.16 130.59h0M218.09 114.83h0M214.25 119.3h0M216.87 123.78h0M215.65 130.33h0M218.84 127.16h0M221.66 119.14h0M214.15 119.74h0M215.84 117.28h0M217.58 127.67h0M221.45 119.6h0M211.04 125.53h0M211.8 122.69h0M207.54 113.67h0M219.58 121.64h0M214.11 126.87h0M213.75 120.4h0M216.94 128.28h0M220.78 123.41h0M214.91 125.06h0M218.71 122.76h0M216.71 130.87h0M215.11 125.82h0M215.95 114.71h0M214.31 130.34h0M212.44 114.51h0M214.92 117.54h0M212.67 117.59h0M216.38 126.08h0M212.72 124.39h0M213.92 123.25h0M211.37 119.56h0M212.89 119.37h0M218.6 123.93h0M215.87 125.92h0M219.95 119.21h0M219.65 119.82h0M217.28 115.12h0M218.77 117.68h0M217.49 121.36h0M215.39 130.83h0M220.55 126.29h0M212.44 121.77h0M217.02 121.73h0M213.27 116.54h0M214.05 127.9h0M214.29 128.75h0M217.39 125.12h0M208.35 114.02h0M212.2 126.58h0M215.09 114.37h0M214.39 127.23h0M219.68 120.44h0M211.52 120.63h0M217.79 126.65h0M216.13 118.13h0M218.83 126.04h0M215.66 114.35h0M217.02 119.74h0M214.29 128.98h0M211.19 116.68h0M212.87 121.11h0M210.17 120.73h0M214 124.07h0M219.6 119.11h0M219.3 115.06h0M215.87 115.55h0M216.25 130.45h0M209.69 114.11h0M215.12 116.92h0M217.47 130.78h0M216.42 121.04h0M221.95 118.87h0M212.75 129.13h0M214.56 128.85h0M220.36 114.22h0M214.17 123.62h0M216.33 128.42h0M221.41 115.08h0M219.79 126.8h0M212.13 113.9h0M218.62 125.74h0M214.39 115h0M214.73 127.7h0M217.2 124.98h0M211.51 114.61h0M214.75 116.13h0M216.43 117.51h0M214.25 114.64h0M216.29 121.74h0M209.59 115.69h0M213.16 128.6h0M212.27 119.81h0M214.31 120.81h0M218.6 121.54h0M215.1 126.82h0M215.39 118.32h0M218.49 122.51h0M213.2 121.34h0M212.86 120.01h0M208.39 116.91h0M217.74 117.31h0M218.92 123.04h0M217.86 129.55h0M217.39 118.86h0M220.27 119.98h0M214.26 127.17h0M215.3 124.71h0M219.37 122.18h0M216.74 126.69h0M211.77 126.7h0M218.83 125.54h0M217.93 129.1h0M221.62 120.63h0M216.14 118.03h0M212.76 122.86h0M219.64 124.1h0M218.6 118.09h0M214.9 130.49h0M217.36 125.73h0M216.88 128.96h0M215.37 130.17h0M216.24 118.54h0M214.72 121.9h0M216.2 116.72h0M210.93 114.24h0M210.77 125.44h0M218.35 120.24h0M218.54 114.96h0M217.14 123.58h0M216.61 127.34h0M212.58 124.72h0M213.22 128.46h0M217.19 130.79h0M216.53 125.93h0M216.22 129.41h0M212.38 118.42h0M214.05 127.31h0M213.57 124.64h0M220.47 122h0M221.83 121.47h0M215.19 126.53h0M211.9 126.51h0M215.76 129.68h0M219.4 119.59h0M215.36 121.27h0M219.06 118.08h0M216.51 123.11h0M217.26 130.6h0M210.17 117.37h0M215.52 122.53h0M213.22 126.56h0M213.26 122.24h0M210.5 115.91h0M221.44 126.52h0M211.01 123.9h0M211.27 117.59h0M217.1 125.78h0M211.11 121.46h0M213.38 125.62h0M215.15 121.39h0M219.43 119.11h0M214.11 123.88h0M214.81 113.7h0M211.98 114.06h0M217.78 123.01h0M217.33 130.75h0M216.41 119.53h0M208.09 114.43h0M213.72 128.31h0M214.02 115.95h0M209.33 117.62h0M215.59 118.09h0M216.74 125.19h0M216.05 127.07h0M217.01 116.31h0M212.41 121.57h0M220.55 117.24h0M212.4 126.22h0M217.97 127.55h0M213.03 123.1h0M218 119.15h0M211.31 116.71h0M221.32 124.17h0M214.03 130h0M212.7 124.04h0M212.73 127.39h0M218.78 122.02h0M213.61 114.35h0M214.98 128.16h0M214.38 122.5h0M211.5 116.8h0M214.57 119.54h0M217.71 116.23h0M219.48 124.54h0M216.71 130.29h0M213.88 119.3h0M214.23 118.38h0M215.27 130.71h0M214.96 118.63h0M215.11 123.87h0M211.62 124.02h0M215.81 113.85h0M216.36 127.33h0M214.06 128.91h0M216.47 124.6h0M216.18 127.47h0M216.86 115.63h0M213.6 127.88h0M217.27 124.2h0M214.11 120.61h0M217.12 127.8h0M213.41 120.65h0M214.49 128.83h0M217.09 113.77h0M209.87 115.58h0M214.77 129.6h0M211.82 114.78h0M221.68 118.55h0M214.18 126.4h0M213.57 115.43h0M214.25 125.13h0M218.74 121.44h0M220.61 116.48h0M210.11 117.4h0M217.95 114.22h0M208.81 114.53h0M216.91 126.17h0M214.82 125.75h0M215.28 130.04h0M213.81 118.84h0M213.66 127.58h0M215.43 129.99h0M213.96 127.21h0M212.71 119.91h0M212.23 124.65h0M214.08 115.65h0M215.58 127.74h0M216.7 115.28h0M216.5 113.94h0M219.33 117.39h0M221.77 121.7h0M210.48 116.45h0M211.57 116h0M219.06 120.26h0M212.5 124.11h0M210.88 119.89h0M217.65 117.51h0M212.36 123.43h0M218.66 130.83h0M217.18 117.02h0M216.41 122.33h0M215.85 130.64h0M217.15 128.39h0M216.79 127.57h0M219.63 126.59h0M215.39 117.37h0M212.11 114.51h0M211.19 120.91h0M214.46 123.08h0M217.45 115.3h0M212.68 125.66h0M215.88 123.83h0M215.62 125.73h0M211 118.46h0M216.32 122.93h0M218.32 124.94h0M218.14 128.94h0M218.69 118.14h0M220.09 117.32h0M216.93 129.07h0M215.12 120.63h0M214.34 128.3h0M213.35 123.62h0M214.24 129.7h0M209.58 117.86h0M213.9 128.61h0M215.19 127.15h0M215.56 117.16h0M213.58 124.85h0M210.18 115.26h0M216.26 116.99h0M214.35 124.33h0M213.22 114.66h0M214.66 122.12h0M213.57 123.91h0M213.76 122.78h0M215.03 116.81h0M217.62 127.3h0M212.45 113.8h0M213.66 124.97h0M216.32 129h0M217.37 118.99h0M215.18 124.87h0M210.95 122.84h0M218.24 122.51h0M213.29 121.27h0M215.91 130.65h0M213.17 114.67h0M215.59 130.5h0M221.93 123.41h0M214.13 117.99h0M218.42 115.86h0M214.63 128.79h0M216.08 130.64h0M217.99 124.18h0M216.26 119.2h0M215.38 129.37h0M218.41 125.79h0M217.79 130.36h0M211.82 123.73h0M213.78 126.99h0M213.86 122.26h0M215.93 129.37h0M211.02 116.74h0M216.72 119.31h0M215.4 122.48h0M213.42 126.87h0M217.29 128.13h0M215.72 117.71h0M214.71 118.21h0M209.94 114.21h0M213.18 120.13h0M216.18 128.78h0M214.58 122.17h0M215.33 128.67h0M219.93 117.52h0M216.29 116.69h0M215.1 117.34h0M217.67 128.75h0M213.95 119.23h0M221.15 124.61h0M218.17 121.57h0M213.67 129.68h0M220.94 114.45h0M216.69 129.59h0M216.18 130.42h0M215.18 114.92h0M215.09 130.59h0M216.9 122.98h0M217.51 127.69h0M219.92 114.23h0M217.04 113.78h0M219.25 126.23h0M217.73 125.9h0M213.4 118.42h0M215.8 116.02h0M211.61 117.07h0M216.62 120.11h0M210.48 120.69h0M217.26 124.57h0M212.59 113.86h0M215.11 127.34h0M214.78 115.29h0M212.23 126.03h0M215.86 128.62h0M213.67 126.3h0M217.78 122.91h0M213.99 122.27h0M209.35 121.52h0M213.39 127.85h0M218.39 129.15h0M212.31 122.19h0M211.08 114.09h0M216.4 124.52h0M215.36 114.44h0M217.5 129.4h0M217.12 128.21h0M219.35 120.37h0M220.27 125.54h0M213.46 124h0M213.19 124.82h0M212.59 119.64h0M212.96 121.79h0M217.21 116.63h0M214.36 123.1h0M217.5 122.98h0M213.64 115.02h0M218.7 114.04h0M216.36 117.24h0M216.61 120.41h0M213.79 125.64h0M211.87 116.84h0M218.85 115.98h0M216.69 129.42h0M213.27 128.52h0M212.48 125.17h0M212.55 122.67h0M214.66 123.44h0M217.44 128.17h0M221.28 116.7h0M213.62 127.4h0M215.16 128.63h0M213.8 124.76h0M214.43 128.56h0M217.57 122.39h0M219.26 121.42h0M215.77 118.03h0M215.37 127.91h0M215.53 123.24h0M213.48 118.4h0M214.47 115.83h0M220.49 118.34h0M218.31 120.5h0M216.17 126.48h0M216.92 120.86h0M216.83 117.38h0M217.25 125.06h0M213.95 126.39h0M215.88 122.8h0M217.9 124.24h0M221.96 119.61h0M220.94 127.02h0M214.22 121.02h0M223.04 115.18h0M217.12 130.53h0M221.52 113.83h0M213.89 126.12h0M216.95 118.27h0M214.16 129.84h0M219.53 122.06h0M215.92 129.85h0M215.49 130.1h0M210.37 118.65h0M214.82 129.28h0M215.93 127.21h0M218.55 123.86h0M213.07 118.38h0M215.31 124.72h0M214.36 118.45h0M220.34 124.89h0M216.74 129.59h0M212.88 124.1h0M214.25 115.73h0M216.95 128.93h0M217 126.01h0M217.84 125.52h0M215.08 120.05h0M213.76 122.66h0M213.19 116.08h0M217.24 128.66h0M218.83 125.48h0M216.6 115.11h0M211.41 119.52h0M216.78 129.65h0M208.55 114.46h0M219.33 119.48h0M218.46 126.81h0M217.74 116.93h0M216.17 129.44h0M216.56 130.73h0M215.3 122.27h0M216.66 117.93h0M215.26 129.73h0M216.66 126.69h0M217.75 125.3h0M213.01 115.49h0M217.81 124.68h0M213.02 117.95h0M214.36 121.7h0M214.12 120.02h0M212.55 125.97h0M208.84 114.69h0M218.06 119.24h0M218.6 125.06h0M216.85 127.89h0M215.33 128.98h0M219.22 122.97h0M215.92 130.7h0M211.14 116.85h0M219.22 125.89h0M218.93 121.8h0M215.25 116.66h0M210.99 124.94h0M215.83 116.34h0M212.04 118.78h0M214.01 129h0M216.9 129.91h0M209.6 113.77h0M216.28 117.67h0M218.07 125.35h0M219.15 119.03h0M209.99 115.37h0M218.15 123.27h0M216.14 128.27h0M217.23 122.72h0M217.26 130.66h0M216.99 125.85h0M213.77 121.68h0M215.24 121.91h0M213.37 121.75h0M215.62 126.5h0M220.28 118.36h0M212.77 119.21h0M218 127.42h0M209.09 121.11h0M219.87 115.17h0M214.92 114.23h0M214.07 122.58h0M215.79 130.84h0M216.87 122.84h0M221.35 125.06h0M216.81 114.45h0M214.63 127.64h0M218.27 123.96h0M211.86 126.03h0M211.57 124.55h0M212.48 128.95h0M220.22 126.51h0M218.03 120.89h0M216.09 115.95h0M218.22 117.63h0M210.95 121.45h0M218.92 119.44h0M211.58 122.78h0M216.18 118.17h0M218.26 119.13h0M220.38 114.01h0M218.58 128.73h0M212.86 127.83h0M219.14 118.77h0M217.8 126.98h0M218.08 128.88h0M215.38 114.52h0M220.2 116.32h0M213.29 129.88h0M218.67 117.01h0M215.64 119.51h0M218.49 124.05h0M210.95 119.95h0M216.95 120.56h0M215.92 116.31h0M216.95 114.38h0M212.8 125.57h0M216.24 115.45h0M219.31 123.81h0M219.68 124.73h0M210.28 121.78h0M210.06 115.96h0M210.08 114.73h0M217.65 130.53h0M216.99 129.51h0M210.53 127.11h0M214.69 128.1h0M219.32 123.91h0M215.61 115.99h0M214.97 118h0M215.48 125.98h0M215.67 116.17h0M209.44 118.19h0M213.59 128.82h0M214.96 130.65h0M217.42 130.13h0M215.83 128.72h0M212.66 115.95h0M212.91 114.05h0M215.27 114.23h0M215.45 128.11h0M209.92 119.76h0M221.27 117.36h0M216.91 117.42h0M217.2 128.47h0M218.55 121.81h0M211.7 114.11h0M212.75 113.65h0M215.53 129.64h0M213.05 120.77h0M212.77 119.75h0M222.76 118.13h0M221.52 118.62h0M213.7 126.52h0M212.33 120.18h0M215.42 126.91h0M213.97 124.62h0M213.6 130.44h0M213.18 120.53h0M212.69 119.29h0M211.21 120.35h0M215.29 128.61h0M218.13 124.62h0M214.24 116.97h0M214.61 127.31h0M215.9 126.83h0M218.9 129.28h0M217.26 122.31h0M213.67 118.4h0M219.7 121.15h0M214.51 121.48h0M222.41 119.15h0M216.13 115.43h0M213.31 118.03h0M213.97 116.85h0M219.18 117.82h0M217.33 129.95h0M214.21 126.58h0M216.78 121.07h0M213.69 124.96h0M220.5 115.42h0M217.87 117.85h0M212.66 121.91h0M214.12 120.36h0M210.84 127.08h0M216.29 117.26h0M215.69 118.31h0M215.73 118.14h0M218.68 119.87h0M217.44 114.83h0M215.69 115.51h0M211.65 116.3h0M211.7 123.34h0M219.21 114.84h0M211.85 127.85h0M215.9 120.52h0M217.71 114.89h0M218.09 117.99h0M212.7 123.8h0M218.08 117.85h0M215.79 130.39h0M214.61 115.59h0M215.5 124.11h0M217.93 130.24h0M212.52 125.64h0M220.17 114.18h0M221.99 117.48h0M217.64 125.2h0M213.51 118.34h0M211.37 119.49h0M216.12 126.45h0M213.65 126.36h0M213.55 129.25h0M220.63 116.02h0M214.14 117.21h0M218.28 126.57h0M209.25 120.74h0M210.55 116.02h0M211.49 115.17h0M213.47 124.4h0M219.98 117.91h0M217.53 119.56h0M210.15 122.05h0M215.94 115.38h0M210.82 116.1h0M216.89 123.34h0M221.72 125.5h0M212.57 120h0M216.26 126.24h0M218.24 120.24h0M216.59 115.12h0M214.65 114.24h0M210.25 119.17h0M218.53 120.41h0M218.74 122.14h0M215.14 122.78h0M218.55 130.53h0M213.52 119.05h0M214.43 130.8h0M218.75 124.11h0M221.91 121.76h0M214.94 117.02h0M219.7 114.92h0M213.23 126.57h0M210.2 115.83h0M214.12 126.1h0M218.15 117.01h0M217.9 125.03h0M218.05 122.59h0M218.83 115.12h0M213.99 127.83h0M213.45 127.36h0M210.06 117.79h0M215.12 117.55h0M211.78 125.82h0M217.03 113.82h0M223.27 119.05h0M216.72 125.89h0M214.64 119.57h0M210.6 119.75h0M215.17 127.32h0M212.95 117.08h0M214.54 130.08h0M217.02 130.86h0M221.43 126.82h0M215.56 116.98h0M216.37 124.58h0M212.65 124.32h0M219.24 114.93h0M215.92 124.55h0M214.4 121.38h0M215.28 126.16h0M216.82 123.95h0M215.95 129.65h0M210.05 114.88h0M214.37 116.39h0M217.12 119.96h0M221.13 123.83h0M214.78 129.23h0M216.97 119.99h0M213.74 118.43h0M217.61 124.36h0M217.04 124.12h0M219.42 115.28h0M219.1 125.49h0M219.18 117.16h0M214.95 115.03h0M215.78 124.58h0M219.38 113.83h0M219.67 118.27h0M214.99 115.95h0M216.56 124.74h0M216.35 120.63h0M211.49 121.44h0M220.24 121.95h0M218.17 120.74h0M219.51 115.17h0M216.53 128.03h0M219.92 124.08h0M223.18 117.58h0M213.83 124.42h0M220.02 120.96h0M217.26 129.97h0M215.06 124.03h0M215.7 127.44h0M211.54 117.93h0M215.78 125.11h0M217.26 116.12h0M219.84 120.2h0M217.43 130.12h0M214.72 127.1h0M215.32 128.37h0M218.5 114.6h0M220.19 127.33h0M214.33 129.76h0M217.92 123.44h0M215 123.33h0M218.29 126.55h0M213.34 122.36h0M214.26 115.9h0M216.86 120.6h0M216.09 127.84h0M212.78 122.47h0M214.95 128.27h0M214.19 117.83h0M214.65 124.72h0M213.5 121.95h0M217.44 123.12h0M213.28 114.62h0M216.11 124.46h0M212.07 123.74h0M214.66 121.82h0M213.36 121.15h0M219.17 129.1h0M212.44 114.88h0M212.32 119.59h0M211.45 125.79h0M215.09 119.34h0M212.88 118.39h0M215.78 127.26h0M216.45 128.63h0M218.4 122.13h0M212.16 127.08h0M217.8 120.86h0M216.39 125.8h0M212.85 128.17h0M209.9 113.69h0M215.2 122.42h0M219.23 113.86h0M213.39 114.24h0M212 122.99h0M214.16 116.56h0M218.48 118.26h0M214.39 129.5h0M210.48 123.61h0M215.98 122.81h0M213.2 121.1h0M216.97 130.34h0M213.85 125.08h0M215.48 118.52h0M215.28 121.07h0M216.96 122.12h0M218.05 124.3h0M213.41 130.11h0M212.39 115.17h0M218.75 123.61h0M217.73 118.77h0M218.1 129.43h0M212.7 126.37h0M215.83 122.47h0M215.62 130.69h0M216.69 128.53h0M220.09 122.46h0M218.22 115.61h0M213.57 119.47h0M221.49 115.77h0M211.37 113.72h0M212.79 128.16h0M220.8 120.75h0M215.1 115.16h0M217.59 116.58h0M217.55 115.24h0M217.8 127.43h0M214.89 129.13h0M216.38 129.12h0M221.83 115.71h0M217.82 123.99h0M218.82 129.87h0M219.62 117.29h0M217.1 117.76h0M219.04 119.2h0M217.86 120.26h0M214.22 126.71h0M219.61 117.96h0M213.07 126.48h0M215.14 123.53h0M216.11 117.53h0M215.34 122.01h0M213.67 119.99h0M216.99 101.53h0M215.4 104.14h0M216.52 112.51h0M216.31 103.59h0M218.35 104h0M217.71 109.52h0M215.75 104.29h0M213.81 109.13h0M214.39 108.9h0M218.46 111.64h0M217.43 111.65h0M213.96 97.67h0M214.4 106.48h0M216.97 108.32h0M219.94 103.47h0M219.56 105.5h0M215.91 100.93h0M217.67 103.02h0M218.89 108.3h0M219.72 111.19h0M215.7 108.55h0M214.55 106.02h0M214.25 108.98h0M219.92 103.9h0M217.53 110.91h0M218.28 105.21h0M219.35 95.8h0M218.42 113.08h0M215.72 107.27h0M216.9 111.48h0M214.21 97.06h0M215.65 111.85h0M218.99 101.31h0M214.34 110.52h0M216.51 112.07h0M219.64 106.22h0M219.29 110.54h0M215.31 105.27h0M217.42 108.53h0M218.82 109.43h0M219.73 109.33h0M214.4 113.14h0M219.76 99.66h0M214.91 97.14h0M216.37 107.08h0M218.49 111.01h0M215.75 110.65h0M216.28 106.06h0M217.88 113.42h0M219.03 108.84h0M217.09 108.45h0M218.79 101.91h0M217.84 105.28h0M215.81 108.34h0M213.78 109.76h0M214.67 110.31h0M220.16 102.67h0M215.69 101.36h0M216.23 110.77h0M220.13 108.01h0M214.02 108.31h0M218 112.28h0M214.92 107.31h0M216.29 113.57h0M219.27 112h0M218.03 106.99h0M215.39 110.35h0M214.23 105.83h0M216.95 105.93h0M219.27 106.3h0M219.3 109.01h0M217.53 113.38h0M218.68 103.88h0M217.44 100.93h0M216.65 99.47h0M214.87 110.69h0M216.39 106.22h0M219.16 104.35h0M219.31 109.38h0M219.1 100.26h0M219.3 112.99h0M215.9 106.05h0M214.45 111.92h0M216.5 111.5h0M216.14 107.51h0M219.69 105.35h0M217.18 102.64h0M219.71 108.81h0M215.78 112.59h0M219.85 101.46h0M215.34 107.36h0M215.29 113.06h0M215.73 110.38h0M215.9 112.64h0M219.98 109.64h0M215.02 104.23h0M219.99 111.5h0M219.57 109.75h0M214.78 98.74h0M217.99 112.15h0M213.93 104.1h0M218.65 107.53h0M219.02 103.97h0M218.35 105.45h0M216.51 104.79h0M220.18 104.94h0M215.53 112.29h0M215.37 101.97h0M217.07 111.24h0M215.9 113.53h0M219.91 113.59h0M217.02 112.43h0M219.86 107.42h0M219 102.15h0M216.11 100.33h0M216.22 100.21h0M214.65 106.68h0M214.28 112.56h0M214.91 105.67h0M218.08 109.48h0M214.78 103.78h0M214.7 104.72h0M217.48 100.02h0M219.7 98.22h0M215.73 104.86h0M219.67 107.87h0M214.59 110.41h0M213.86 112.61h0M215.49 108.15h0M219.38 110.63h0M215.86 103.34h0M219.83 102.99h0M216.25 104.87h0M215.85 103.68h0M217.13 113.02h0M219.72 105.68h0M215.86 108.75h0M219.64 113.34h0M218.64 110.18h0M220.02 108.78h0M216.75 111.79h0M219.67 106.13h0M218.81 111.88h0M214.22 107.81h0M219.68 107.98h0M219.85 108.45h0M219.67 105.76h0M219.37 108.83h0M219.97 112.99h0M219.46 108.7h0M214.34 111.85h0M219.9 111.2h0M215.5 110.91h0M217.17 109.47h0M217.78 104.2h0M217.18 109.82h0M219.77 105.55h0M218.26 110.65h0M217.55 105.58h0M219.1 110.75h0M217.45 106.49h0M217.37 109.19h0M219.12 111.6h0M216.16 97.94h0M214.25 104.43h0M219.91 110.26h0M219.32 107.21h0M216.17 112.11h0M218.37 113.38h0M216.39 108.22h0M216.14 99.35h0M215.53 106.27h0M218.97 108.38h0M216.12 106.63h0M216.35 112.63h0M219.86 112.7h0M214.18 105.63h0M216.96 107.22h0M214.8 109.4h0M217.09 106.19h0M214.06 106.43h0M217.58 106.35h0M219.41 113.37h0M214.37 111.77h0M220.07 106.65h0M220.21 102.32h0M215.32 107.47h0M219.47 111.41h0M216.73 101.15h0M215.34 106.24h0M215.55 112.11h0M216.52 102.79h0M217.99 106.61h0M216.47 108.32h0M215.24 103.27h0M219.16 102.24h0M219.71 105.62h0M214 105.41h0M215.42 101.86h0M218.32 104.68h0M215.57 109.3h0M215.64 109.52h0M218.31 104.85h0M214.51 104.95h0M217.47 110.36h0M217.45 106.57h0M215.41 112.3h0M218.84 107.14h0M218.34 110.7h0M219.41 106.06h0M216.13 106.11h0M219.88 99.96h0M216.92 99.05h0M217.92 98.74h0M217.31 108.11h0M220.18 111.71h0M217.48 105.97h0M217.02 108.1h0M216.75 108.15h0M216.16 110.36h0M214.02 108.88h0M218.27 108.85h0M217.85 113.08h0M219.97 113.45h0M213.84 105.43h0M214.47 111.95h0M214.14 103.49h0M216.79 104.14h0M216.14 106.64h0M220.12 111.87h0M213.97 112.74h0M218.07 112.38h0M216.57 113.13h0M218.97 109.02h0M215.68 112.34h0M215.23 106.9h0M220.06 106.74h0M219.03 106.19h0M218.9 108.86h0M216.6 108.46h0M217.64 104.51h0M218.49 107.14h0M217.74 109.21h0M214.74 109.65h0M214.62 106.06h0M217.87 109.77h0M217.64 104.71h0M215.55 102.69h0M218.18 105.31h0M215.95 111.68h0M214.86 108.19h0M217.13 108.33h0M217.05 113.07h0M216.07 99.99h0M216.38 111.36h0M220.15 113.52h0M214 105.44h0M215.55 107.7h0M216.39 107.1h0M218.67 106.75h0M218.77 107.26h0M214.77 102.18h0M216.03 109.26h0M218.13 98.94h0M217.35 102.25h0M215.75 108.44h0M213.8 102.21h0M215.41 107.47h0M219.51 102.75h0M214.59 109.86h0M214.78 101.82h0M217.66 102.33h0M215.85 99.21h0M214.51 103.11h0M214.81 110.89h0M213.83 112.72h0M217.1 97.4h0M216.14 109.37h0M219.77 109.09h0M217.49 102.16h0M216.46 104.8h0M218.57 100.97h0M217.61 110.19h0M218.8 111.19h0M218.16 108.97h0M216.04 98.9h0M214 113.21h0M217.42 110.96h0M213.96 107.39h0M218.48 97.48h0M217.35 112.21h0" stroke="#808080" stroke-width="1.4" stroke-linecap="round" fill="none"/>
<path d="M213.06 104.4h0M211.67 106.23h0M213.45 92.68h0M209.52 103.03h0M211.43 98.87h0M205.36 111.73h0M211.84 95.64h0M205.76 110.38h0M209.81 101.38h0M211.61 106.82h0M211.41 109.19h0M212.8 94.57h0M203.37 109.43h0M210.09 103.46h0M211.89 106.62h0M209.95 111.41h0M210.02 103.52h0M212.25 102.27h0M211.49 99.83h0M213.6 112h0M211.94 96.13h0M203.46 111.73h0M209.37 105.05h0M208.85 105.13h0M212.83 111.64h0M206.09 110.37h0M212.12 105.38h0M212.95 105.27h0M206.92 102.82h0M205.37 106.77h0M211.72 102.52h0M209.44 101.72h0M205.52 105.44h0M209.01 105.45h0M208.55 112.95h0M209.58 106.43h0M205.76 110.88h0M210.88 112.01h0M204.88 109.8h0M211.97 106.52h0M208.47 112.28h0M205.52 110.6h0M212.03 98.6h0M212.33 111.97h0M213.08 106.43h0M208.58 108.1h0M209.8 107.26h0M209.29 100.58h0M207.66 103.39h0M213.05 102.79h0M211.33 104.6h0M211.41 94.37h0M207.98 108.86h0M204.93 108.37h0M209.4 102.11h0M201.56 112.93h0M207.32 102.8h0M211.1 105.22h0M205.38 105.87h0M209.14 110.66h0M213.18 98.72h0M209.52 104.56h0M206.91 112.85h0M213.23 102.66h0M205.27 108.14h0M206.83 97.69h0M209.8 108.01h0M212.3 107.03h0M210.9 96.54h0M212.3 109.12h0M210.3 110.9h0M211.81 104.31h0M209.53 104.6h0M211.83 109.83h0M211.5 112.23h0M205.35 105.71h0M213.3 106.81h0M210.21 110.58h0M208.92 109.52h0M208.82 98.22h0M177.1 62.9h0M205.1 63.3h0M211.4 48.9h0M197.8 76.5h0M201.8 76.5h0M194.9 85.6h0M204.7 82.4h0M187.4 105.7h0M196.2 109.2h0M200.6 97.8h0M202.2 105.7h0M206.1 92.8h0M209.1 92.8h0M213 83h0M159 28.4h0M159 61.3h0M159 63.3h0M159 66.2h0M159 69.2h0M159 72.2h0M159 74.1h0M159 76.1h0M159 91.9h0M159 110.6h0" stroke="#0000ff" stroke-width="1.65" stroke-linecap="round" fill="none"/>
<path d="M221.58 99.43h0M220.84 100.83h0M227.12 111.74h0M220.94 102.38h0M223.05 102.44h0M225.38 107.19h0M224.44 111.12h0M223.7 103.35h0M222.9 98.24h0M228.81 110.22h0M222.92 112.33h0M223.35 105.96h0M222.78 111.43h0M223.19 107.66h0M224.84 110.64h0M223.88 106.59h0M225.64 107.08h0M223.76 108.79h0M222.81 110.25h0M220.97 94.71h0M226.55 105.27h0M220.64 106.73h0M223.95 106.5h0M222.92 112.03h0M223.39 100.83h0M220.51 104.01h0M226.48 112.69h0M226.38 112.78h0M222.91 97.33h0M224.35 107.56h0M223.84 104.35h0M225.09 105.98h0M221.15 105.55h0M224.54 101.4h0M224.42 111.31h0M223.64 101.81h0M220.95 100.15h0M225.98 111.84h0M225.33 104h0M223.91 102.07h0M227.09 107.52h0M222.91 111.17h0M221.46 101.48h0M221.63 104.49h0M220.35 113.15h0M223.96 106.65h0M220.35 112.48h0M225.35 104.78h0M222.58 111.67h0M222.53 103.98h0M224.85 110.51h0M222.08 101.99h0M221.69 110.84h0M221.2 105.68h0M237.2 66.2h0M247.1 66.8h0M220.9 90.9h0M230.1 93.8h0M227.4 101.7h0M234.7 109.6h0M241.6 109.2h0M225.8 97.8h0M274.7 62.7h0M274.7 65.8h0M274.7 68.6h0M274.7 74.7h0M274.7 82.6h0M274.7 85h0M274.7 87.9h0M274.7 97.8h0M274.7 111.2h0" stroke="#ff0000" stroke-width="1.65" stroke-linecap="round" fill="none"/>
</g>
<line x1="158.6" y1="113.6" x2="275.4" y2="113.6" stroke="#444" stroke-width="0.55" stroke-dasharray="1.3 0.8"/>
<line x1="213.4" y1="22.9" x2="213.4" y2="136.3" stroke="#777" stroke-width="0.5" stroke-dasharray="0.8 0.7"/>
<line x1="220.3" y1="22.9" x2="220.3" y2="136.3" stroke="#111" stroke-width="0.55" stroke-dasharray="1.3 0.8"/>
<rect x="158.6" y="22.9" width="116.8" height="113.4" fill="none" stroke="#555" stroke-width="0.55"/>
<line x1="163.15" y1="136.3" x2="163.15" y2="137.7" stroke="#333" stroke-width="0.45"/>
<text x="163.15" y="141.6" font-size="3.6" text-anchor="middle" fill="#222" font-family="'DejaVu Sans', sans-serif">−10.0</text>
<line x1="176.61" y1="136.3" x2="176.61" y2="137.7" stroke="#333" stroke-width="0.45"/>
<text x="176.61" y="141.6" font-size="3.6" text-anchor="middle" fill="#222" font-family="'DejaVu Sans', sans-serif">−7.5</text>
<line x1="190.07" y1="136.3" x2="190.07" y2="137.7" stroke="#333" stroke-width="0.45"/>
<text x="190.07" y="141.6" font-size="3.6" text-anchor="middle" fill="#222" font-family="'DejaVu Sans', sans-serif">−5.0</text>
<line x1="203.54" y1="136.3" x2="203.54" y2="137.7" stroke="#333" stroke-width="0.45"/>
<text x="203.54" y="141.6" font-size="3.6" text-anchor="middle" fill="#222" font-family="'DejaVu Sans', sans-serif">−2.5</text>
<line x1="217" y1="136.3" x2="217" y2="137.7" stroke="#333" stroke-width="0.45"/>
<text x="217" y="141.6" font-size="3.6" text-anchor="middle" fill="#222" font-family="'DejaVu Sans', sans-serif">0.0</text>
<line x1="230.46" y1="136.3" x2="230.46" y2="137.7" stroke="#333" stroke-width="0.45"/>
<text x="230.46" y="141.6" font-size="3.6" text-anchor="middle" fill="#222" font-family="'DejaVu Sans', sans-serif">2.5</text>
<line x1="243.93" y1="136.3" x2="243.93" y2="137.7" stroke="#333" stroke-width="0.45"/>
<text x="243.93" y="141.6" font-size="3.6" text-anchor="middle" fill="#222" font-family="'DejaVu Sans', sans-serif">5.0</text>
<line x1="257.39" y1="136.3" x2="257.39" y2="137.7" stroke="#333" stroke-width="0.45"/>
<text x="257.39" y="141.6" font-size="3.6" text-anchor="middle" fill="#222" font-family="'DejaVu Sans', sans-serif">7.5</text>
<line x1="270.85" y1="136.3" x2="270.85" y2="137.7" stroke="#333" stroke-width="0.45"/>
<text x="270.85" y="141.6" font-size="3.6" text-anchor="middle" fill="#222" font-family="'DejaVu Sans', sans-serif">10.0</text>
<line x1="157.2" y1="130.9" x2="158.6" y2="130.9" stroke="#333" stroke-width="0.45"/>
<text x="156.6" y="132.2" font-size="3.6" text-anchor="end" fill="#222" font-family="'DejaVu Sans', sans-serif">0</text>
<line x1="157.2" y1="117.6" x2="158.6" y2="117.6" stroke="#333" stroke-width="0.45"/>
<text x="156.6" y="118.9" font-size="3.6" text-anchor="end" fill="#222" font-family="'DejaVu Sans', sans-serif">1</text>
<line x1="157.2" y1="104.3" x2="158.6" y2="104.3" stroke="#333" stroke-width="0.45"/>
<text x="156.6" y="105.6" font-size="3.6" text-anchor="end" fill="#222" font-family="'DejaVu Sans', sans-serif">2</text>
<line x1="157.2" y1="91" x2="158.6" y2="91" stroke="#333" stroke-width="0.45"/>
<text x="156.6" y="92.3" font-size="3.6" text-anchor="end" fill="#222" font-family="'DejaVu Sans', sans-serif">3</text>
<line x1="157.2" y1="77.7" x2="158.6" y2="77.7" stroke="#333" stroke-width="0.45"/>
<text x="156.6" y="79" font-size="3.6" text-anchor="end" fill="#222" font-family="'DejaVu Sans', sans-serif">4</text>
<line x1="157.2" y1="64.4" x2="158.6" y2="64.4" stroke="#333" stroke-width="0.45"/>
<text x="156.6" y="65.7" font-size="3.6" text-anchor="end" fill="#222" font-family="'DejaVu Sans', sans-serif">5</text>
<line x1="157.2" y1="51.1" x2="158.6" y2="51.1" stroke="#333" stroke-width="0.45"/>
<text x="156.6" y="52.4" font-size="3.6" text-anchor="end" fill="#222" font-family="'DejaVu Sans', sans-serif">6</text>
<line x1="157.2" y1="37.8" x2="158.6" y2="37.8" stroke="#333" stroke-width="0.45"/>
<text x="156.6" y="39.1" font-size="3.6" text-anchor="end" fill="#222" font-family="'DejaVu Sans', sans-serif">7</text>
<line x1="157.2" y1="24.5" x2="158.6" y2="24.5" stroke="#333" stroke-width="0.45"/>
<text x="156.6" y="25.8" font-size="3.6" text-anchor="end" fill="#222" font-family="'DejaVu Sans', sans-serif">8</text>
<text x="217" y="21.6" font-size="4.3" text-anchor="middle" fill="#111" font-family="'DejaVu Sans', sans-serif">Volcano Plot</text>
<text x="217" y="146.5" font-size="3.6" text-anchor="middle" fill="#222" font-family="'DejaVu Sans', sans-serif">log2(FC)</text>
<text x="151.5" y="79.6" font-size="3.6" text-anchor="middle" fill="#222" font-family="'DejaVu Sans', sans-serif" transform="rotate(-90 151.5 79.6)">-log10P-value</text>
<text x="213" y="36.7" font-size="3.6" text-anchor="end" fill="#222" font-family="'DejaVu Sans', sans-serif">FC=1/1.5</text>
<text x="220.7" y="36.7" font-size="3.6" fill="#222" font-family="'DejaVu Sans', sans-serif">FC=1.5</text>
<text x="273.9" y="118" font-size="3.7" text-anchor="end" fill="#222" font-family="'DejaVu Sans', sans-serif">P-value=0.05</text>
</g>
<g>
<clipPath id="vc3"><rect x="304.4" y="22.9" width="117.3" height="113.3"/></clipPath>
<g clip-path="url(#vc3)">
<path d="M359.04 125.87h0M353.81 113.21h0M353.07 114.86h0M375.01 124.53h0M370.69 115.8h0M370.94 123.48h0M373.37 118.54h0M357.77 112.79h0M371.82 116.7h0M375.51 111.76h0M373.92 124.87h0M349.29 117.9h0M350.82 109.78h0M371.46 127.6h0M356.53 122.91h0M372.36 117.78h0M370.68 124.53h0M374.29 118.63h0M369.9 121.63h0M360.32 127.32h0M373.08 121.36h0M355.79 123.6h0M368.41 126.2h0M361.26 129.46h0M378.25 116.23h0M375.53 114.16h0M361.52 130.74h0M368.73 129.45h0M369.32 123.95h0M359.38 127.12h0M370.34 122.86h0M351.57 121.91h0M369.95 122.98h0M371.92 113.7h0M353.73 118.97h0M357.61 113.05h0M351.82 118.65h0M359.19 128.64h0M373.19 122.57h0M370.37 120.32h0M353.86 119.96h0M371.74 115.08h0M369.93 125.99h0M374.45 112.84h0M373.96 109.93h0M350.5 118.23h0M374.38 110.62h0M369.49 115.99h0M368.26 129.08h0M370.47 123.36h0M371.24 118.52h0M375.96 116.83h0M367.84 128.85h0M351.72 116.6h0M376.56 116.67h0M360.01 128.5h0M355.96 112.08h0M356.21 123.3h0M364.68 130.26h0M370.28 112.05h0M376.83 115.53h0M372.62 120.32h0M359.48 128.03h0M357.54 111.23h0M370.44 128.06h0M374.67 118.19h0M359.7 123.63h0M354.91 119.53h0M370.14 122.41h0M376.29 123.14h0M361.11 130.43h0M359.07 128.92h0M366.27 130.13h0M369.62 120.81h0M359.12 122.65h0M369.16 127.21h0M368.89 115.38h0M357.19 123.23h0M358.72 127.31h0M359.56 127.65h0M359.72 130.41h0M354.72 113.06h0M352.89 121.38h0M369.63 122.45h0M373.17 114.38h0M377.9 117.33h0M367.37 128.55h0M371.16 119.21h0M357.25 123.49h0M371.81 115.2h0M357.86 114.77h0M375.69 116.62h0M359.75 128.03h0M350.29 114.2h0M360.49 130.54h0M352.24 121.01h0M355.15 119.94h0M358 127.03h0M352.16 119.86h0M370.73 111.2h0M360.66 130.25h0M371.95 111.62h0M370.74 120.01h0M372.73 110.65h0M375.01 109.9h0M370.66 128.12h0M358.37 128.22h0M371.59 126.84h0M355.33 118.87h0M354.71 126.66h0M357.86 127.1h0M364.94 129.78h0M359.66 128.94h0M372.09 120.19h0M358.91 124.17h0M370.89 111.1h0M371.81 110.45h0M349.82 120.79h0M371.23 117.83h0M372.59 126.36h0M351.02 112.21h0M370.73 115.3h0M352.44 121.56h0M360.52 130.31h0M357.18 121.76h0M359.78 128.85h0M371.1 116.28h0M361.17 130.7h0M351.92 122.04h0M354.06 125.99h0M359.3 111.65h0M370.12 128.37h0M368.86 128.55h0M375.11 119.49h0M351.08 110.04h0M354.66 119.73h0M350.29 120.79h0M370.28 112.03h0M357.97 113.22h0M372.22 124.74h0M374.12 122.75h0M373.67 122.56h0M367.34 128.42h0M361.13 126.18h0M372.13 112.49h0M358.61 125.45h0M359.43 129.98h0M358.83 127.74h0M357.62 121.49h0M354.04 115.34h0M355.34 111.3h0M360.81 128.23h0M375.17 115.91h0M352.26 116.62h0M359.63 129.15h0M355.31 121.06h0M375.4 120.89h0M358.01 123.34h0M354.6 120.82h0M370.71 115.4h0M354.8 114.69h0M371.14 110.18h0M368.31 128.32h0M377.41 121.7h0M357.78 121.53h0M373.66 124.94h0M368.85 126.21h0M368.92 113.18h0M376.02 110.42h0M358.83 128.44h0M373.28 111.9h0M359.25 128.27h0M352.46 114.43h0M356.94 112.97h0M353.15 121.35h0M368.03 129.25h0M372.09 113.15h0M358.84 129.78h0M356.01 114.07h0M372.77 115.76h0M354.86 115.17h0M353.85 121.48h0M354.07 122.65h0M352.41 118.19h0M377.38 121.21h0M358.56 120.51h0M374.74 116.7h0M356.71 117.68h0M357.81 127.75h0M368.36 111.42h0M356.73 125.25h0M376.02 115.16h0M359.52 130h0M355.53 123.1h0M368.78 115.25h0M358.6 116.18h0M371.92 110.55h0M374.74 118.49h0M353.16 113.4h0M351.75 114.88h0M359.07 124.49h0M354.35 115.66h0M358.16 123h0M359.77 115h0M356.55 118.64h0M356.11 124.33h0M360.54 128.25h0M369.53 112.75h0M375.78 114.83h0M358.28 129.65h0M369.62 124.25h0M350.36 117.64h0M365.98 127.33h0M374.92 121.27h0M355.96 114.28h0M370.9 126.2h0M373.78 112.14h0M354.39 112.52h0M359.56 129.44h0M350.19 113.19h0M370.53 125.24h0M373.15 114.01h0M353.31 110.71h0M367.96 125.42h0M356.34 125.57h0M375.77 118.65h0M350.38 110.49h0M374.85 110.93h0M375.28 116.94h0M359.63 127.87h0M360.2 119.01h0M358.12 118.11h0M370.37 125.41h0M377.15 112.58h0M360.36 128.61h0M368.39 124.59h0M376.78 118.37h0M360.29 130h0M376.65 117.08h0M374.64 124.5h0M356.88 124.07h0M360.38 128.76h0M357.84 127.28h0M358.59 128.58h0M356.68 127.6h0M382.26 114.92h0M375.79 122.44h0M369.42 121.57h0M355.05 116.37h0M367.47 128.66h0M359.91 124.46h0M367.6 128h0M357.21 127.84h0M357.48 125.12h0M374.15 126.21h0M358.91 110.6h0M375.98 121.48h0M377.99 121.81h0M358.21 127.64h0M371.68 120.55h0M372.59 117.47h0M356.97 118.41h0M373.51 123.6h0M373.51 114.26h0M354.12 110.21h0M371.49 123.43h0M358.38 126.77h0M367.77 128.21h0M354.35 119.69h0M373.64 115.05h0M358.2 118.16h0M371.48 126.64h0M369.15 114.5h0M364.74 129.95h0M368.89 115.04h0M369.05 112.89h0M352.84 121.82h0M372.11 117.01h0M358.56 123.38h0M359.14 113.95h0M378.14 119.69h0M350.6 114.92h0M371 126.66h0M375.72 118.53h0M370.66 126.97h0M370.16 124.66h0M365.19 128.81h0M374.97 123h0M354.9 114.35h0M377.56 118.75h0M360.82 126.91h0M357.82 117.33h0M357.16 127.7h0M358.91 130.06h0M350.08 117.92h0M368.89 119.38h0M352.45 120.16h0M366.26 129.37h0M359.69 125.21h0M359.94 117.63h0M371.92 120.6h0M375.96 121.74h0M373.11 116.35h0M352.21 121.37h0M354.78 118.49h0M369.73 125h0M355.92 114.92h0M354.89 111.95h0M355.19 119.24h0M353.52 119.62h0M356.69 114.87h0M352.18 118h0M367.48 126.28h0M371.21 110.37h0M375.88 117.17h0M371.88 116.82h0M358.67 127.36h0M370.18 124.47h0M360.63 129.32h0M371.87 110.49h0M369.13 127.83h0M352.35 119.05h0M355.68 112.95h0M372.54 113.88h0M352.73 111.13h0M361.09 130.39h0M356.24 116.2h0M364.94 130.75h0M373.11 110.21h0M352.97 118.07h0M350.12 111.42h0M352.4 122.55h0M371.73 110.01h0M359.44 129.78h0M370.76 125.46h0M370.1 124.11h0M371.85 112.56h0M356.4 127.25h0M358.55 128.52h0M371.09 111.4h0M375.44 122.21h0M373.38 119.91h0M351.02 110.23h0M355.47 113.02h0M354.06 119.9h0M371.08 116.96h0M366.72 127.83h0M375.5 121.09h0M370.39 111.77h0M361.39 130.04h0M368.27 129.26h0M367.29 129.55h0M357.53 128.16h0M369.43 121.98h0M377.5 110.05h0M358.54 128.39h0M367.78 126.41h0M355.81 123.31h0M366.12 130.68h0M374.73 121.71h0M368.69 112.97h0M369.1 113.48h0M358.25 129.41h0M370.76 111.98h0M355.11 123.86h0M351.05 118.86h0M357.08 123.53h0M376.12 123.88h0M352.06 118.75h0M352.83 119.98h0M359.04 120.88h0M369.28 119.54h0M371.36 110.94h0M372.1 124.61h0M376.69 119.92h0M355.51 123.85h0M356.44 123.05h0M372.43 124.12h0M355.96 115.51h0M370.29 127.56h0M355.09 124.17h0M368.4 128.8h0M369.52 118.05h0M355.14 110.43h0M353.95 123.52h0M359.8 118.14h0M358.39 123.15h0M372.07 126.84h0M358.33 130.5h0M375.47 112.23h0M358.66 126.65h0M373.49 112.8h0M377.53 117.59h0M357.51 124.05h0M352.44 112.49h0M353.35 111.27h0M352.91 114.31h0M373.1 116.66h0M367.99 112.3h0M374.1 123.86h0M354.46 119.33h0M358.83 129.21h0M353.5 113.9h0M368.23 123.93h0M360.37 130.22h0M370.64 111.11h0M356.43 115.33h0M355.03 125.76h0M373.53 117.77h0M359.37 124.87h0M378.85 117.44h0M353.91 114.86h0M372.46 114.37h0M370.87 110.38h0M371.68 126.53h0M370.7 111.32h0M369.43 114.57h0M361.09 128.17h0M370.29 116.93h0M350.34 114.46h0M359.26 128.9h0M349.83 116.75h0M371.9 124.21h0M356.42 113.82h0M368.88 115.01h0M370.03 123.1h0M355.4 119.45h0M352.32 109.97h0M356.15 120.8h0M368.9 111.65h0M371.47 120.91h0M358.65 113.1h0M372.21 112.16h0M369.78 120.64h0M354.29 115.86h0M375.61 114.57h0M350.66 118.64h0M355.72 115.6h0M359.25 124.14h0M372.28 115.69h0M359.91 126.16h0M364.29 130.8h0M369.39 120.28h0M376.04 115.59h0M367.59 124.59h0M373.77 109.8h0M372.41 112.55h0M368.5 126.46h0M359.36 116.97h0M372 113.58h0M369.77 123.08h0M367.21 130.15h0M374.58 115.46h0M371.84 110.97h0M359.68 128.24h0M380.21 112.9h0M354.67 113.67h0M373.24 112.03h0M355.25 123.14h0M372.59 109.78h0M376.46 112.63h0M369.62 123.25h0M351.83 113.68h0M373.6 120.47h0M366.15 130.02h0M370.29 124.98h0M378.8 115.58h0M356.21 112.97h0M358.88 114.05h0M361.12 130.1h0M356.65 127.36h0M355.87 112.71h0M351.56 110.29h0M355.06 121.97h0M366.81 127.46h0M375.48 121.03h0M369.34 128.18h0M356.43 125.76h0M373.39 122.2h0M353.24 113.84h0M360.84 130.16h0M367.69 128.55h0M369.09 124.62h0M375.02 116.04h0M358.98 111.89h0M372.54 117.37h0M358.75 129.64h0M376.66 113.46h0M359.4 118.73h0M370.79 121.31h0M365.74 129.95h0M360.91 130.35h0M375.36 120.12h0M373.72 118.93h0M359.68 123.99h0M355.58 119.34h0M359.76 127.93h0M369.11 110.26h0M357.83 113.03h0M351.7 117.87h0M357.82 125.06h0M360.45 129.12h0M350.8 121.42h0M375.48 113.3h0M374.69 116.57h0M369.72 126.1h0M373.53 114.97h0M353.74 115.03h0M358.91 126.68h0M372.67 125.14h0M374.6 121.37h0M349.41 116.85h0M372.86 113.94h0M374.42 121.61h0M374.59 111.79h0M359.06 126.08h0M355.41 124.07h0M373.38 123.7h0M351.49 117.68h0M365.28 130.69h0M374.82 122.88h0M367.35 128.54h0M358.6 127.75h0M368.27 128.61h0M359.99 119.33h0M356.34 122.26h0M357.09 119.49h0M357.66 127.23h0M373.15 125.04h0M376.65 121.2h0M348.57 121.05h0M350.96 122.36h0M370.75 127.47h0M367.36 129.32h0M360.09 121.3h0M370.34 113.91h0M357.38 122.14h0M351.27 111.61h0M380.68 117.31h0M367.75 123.02h0M357.38 119.31h0M355.85 127.83h0M357.06 125.57h0M369.72 109.9h0M371.32 112.99h0M354.24 113.21h0M370.07 114.15h0M375.69 114.29h0M369.13 126.29h0M365.88 130.42h0M372.59 110.39h0M375.38 123.56h0M373.7 118.42h0M356.73 118.64h0M356.04 113.15h0M355.09 109.83h0M374.75 117.17h0M369.22 124.36h0M359.11 129.4h0M368.64 126.72h0M375.23 120.41h0M373.42 120.76h0M351.01 111.61h0M351.88 120.1h0M368.54 121.6h0M358.2 114.86h0M369.27 123.26h0M374.62 116.39h0M353.82 122.01h0M358.73 127.52h0M357.34 123.87h0M371.44 123.44h0M353.71 111.13h0M373.96 112.78h0M369.83 124.07h0M348.49 121.57h0M358.38 110.76h0M353 116.47h0M371.78 125.33h0M367.31 128.09h0M357.46 111.64h0M368.54 127.48h0M373.05 121.47h0M353.6 118.08h0M370.95 125.76h0M359.02 125.6h0M373.91 120.35h0M364.55 130.53h0M367.44 130.01h0M354.04 116.15h0M352.47 117.68h0M366.95 130.25h0M367.29 125.34h0M373.86 119.17h0M359.96 120.39h0M375.69 121.59h0M357.82 111.15h0M353.37 111.55h0M355.31 117.97h0M355.58 117.34h0M369.75 124.39h0M356.64 126.05h0M366.15 129.86h0M358 120.08h0M369.35 128.19h0M353.82 115.54h0M376.64 116.34h0M356.47 109.98h0M359.29 117.28h0M369.59 122.46h0M364.48 86.69h0M366 95.17h0M365.55 89.33h0M362.25 90.9h0M360.65 69.76h0M363.63 91.24h0M359.56 85.44h0M358.66 87.44h0M360.27 88.89h0M362.7 78.48h0M363.22 81.18h0M364.16 85.09h0M366.36 83.29h0M364.05 92.35h0M363.62 92.67h0M362.15 95.24h0M360.74 90.84h0M366.94 85.24h0M359.37 89.57h0M366.43 91.24h0M360.86 95.38h0M366.48 92.09h0M366.8 99.41h0M359.43 91.12h0M361.16 97.92h0M362.58 94.18h0M358.84 76.26h0M365.13 83.84h0M361.26 83.58h0M363.94 91.16h0M363.4 89.41h0M366.2 82.79h0M362.89 90.8h0M365.6 83.41h0M358.71 85.99h0M358.83 85.66h0M362.94 80.99h0M360.26 88.23h0M359.93 86.37h0M365.56 94.5h0M359.18 91.61h0M362.73 74.26h0M365.66 78.43h0M360.53 85.85h0M361.01 87.53h0M366.82 90.35h0M366.14 94.04h0M366.52 92.79h0M360.11 92.55h0M358.8 91.51h0M366.09 93.67h0M364.81 77.44h0M363.35 91.7h0M366.11 84.37h0M366.65 84.65h0M363.33 94.51h0M366 89.85h0M362.02 90.63h0M360.79 70.62h0M364.71 82.04h0M360.93 94.08h0M365.65 79.01h0M360.92 91.68h0M366.6 85.88h0M360.36 86.74h0M361.53 88.66h0M365.57 91.55h0M361.45 81.29h0M362.77 98.01h0M360.6 85.06h0M365.59 94.48h0M366.84 92.68h0M359.64 89.71h0M366.89 81.53h0M358.77 91.2h0M360.09 91.56h0M364.42 92.09h0M366.44 89.45h0M358.68 87.52h0M366.58 92.22h0M358.88 79.25h0M366.38 93.94h0M362.2 76.41h0M358.94 85.55h0M363.05 86.06h0M359.45 97.82h0M365.72 83h0M360.83 81.5h0M360.29 92.26h0M358.72 98.49h0M363.88 77.35h0M360.03 92.02h0M366.01 78.81h0M364.95 95.2h0M366.21 87.26h0M360 87.79h0M360.97 90.07h0M362.21 83.37h0M358.5 89.68h0M366.21 94.81h0M360.05 91.43h0M361.08 95.21h0M363.51 97.59h0M364.12 95.1h0M360.42 88.36h0M360.3 77.87h0M361.96 82.67h0M363.88 92.69h0M360.65 90.21h0M360.17 89.22h0M365.28 92.84h0M360.53 83.9h0M363.51 84.49h0M365.57 90.57h0M364.67 84.11h0M358.72 93.03h0M361.7 98.71h0M365.35 82.53h0M362.34 81.97h0M361.62 85.03h0M366.82 84.03h0M359.07 95.07h0M363.79 87.62h0M364.11 71.98h0M365.32 91.06h0M359.56 97.33h0M305.4 123.4h0M305.4 128.3h0M339.2 117.9h0M343.3 118.4h0M343.3 122.5h0M346.3 113.8h0M347.9 120h0M385.2 114.9h0M386.7 116.4h0M384.2 116.9h0M362.22 117.67h0M363.82 130.62h0M359.16 109.84h0M365.73 117.47h0M363.65 119.83h0M366.98 115.7h0M360.88 121.5h0M366.89 112.31h0M365.73 110.48h0M361.4 117.65h0M367.51 115.8h0M366.88 112.84h0M363.97 122.22h0M365.18 124.68h0M362.65 129.27h0M363.15 122.27h0M367.24 110.62h0M366.39 118.3h0M360.86 115.66h0M362.74 130.66h0M363.67 129.63h0M361.4 121.04h0M357.82 115.29h0M360.1 129.62h0M360.58 124.13h0M369.01 118.3h0M364.27 122.92h0M362.35 115.35h0M364.84 126.19h0M359.37 121.69h0M361.99 128.75h0M361.02 128.34h0M363.01 113.17h0M366.55 125.01h0M365.04 124.73h0M358.98 122.08h0M367.59 122.24h0M361.77 110.95h0M359.39 113.2h0M357.7 123.69h0M362.1 129.95h0M357.01 118.7h0M366.98 115.14h0M369.67 119.8h0M358.92 111.04h0M359.65 112.67h0M361.09 114.35h0M367.73 113.62h0M369.16 112.66h0M366.03 119.75h0M364.36 120.9h0M363.18 128.22h0M362.01 120.28h0M358.91 124.25h0M371.27 123.27h0M369.82 122.86h0M357.69 117.72h0M367.12 116.03h0M358.69 116.22h0M365.49 116.2h0M363.34 114.17h0M366.51 112.13h0M368.29 118.47h0M363.2 129.96h0M364.88 128.8h0M360.81 113.1h0M363.43 130.13h0M369.31 111.13h0M366.26 113.39h0M363.54 127.1h0M360.07 122.51h0M364.1 122.17h0M359.67 114.91h0M364.06 127.74h0M359.59 115.69h0M365.99 125.25h0M360.63 110.73h0M364 125.25h0M365.45 122.8h0M359.3 123.28h0M366.99 119.12h0M368.77 115.66h0M358.27 110.59h0M364.42 126.04h0M365.15 125.78h0M363.31 111.87h0M370.86 116.61h0M364.56 120.62h0M362.37 128.38h0M365.56 122.98h0M362.75 113.85h0M364.4 116.55h0M359.76 127.05h0M365.28 128.3h0M362.38 115.66h0M359.36 119.16h0M359.69 127.17h0M364.36 115.76h0M365.4 122.79h0M362.63 125.67h0M360.87 123.41h0M370.43 114.58h0M368.14 112.99h0M365.23 128.52h0M365.99 115.52h0M368.43 115.18h0M360.56 115.06h0M362.18 126.8h0M365.86 118.88h0M361.94 118.57h0M361.4 110.24h0M358.65 120.66h0M364.46 120.5h0M367.37 121.16h0M370.81 117.72h0M364.15 129.25h0M368.43 111.19h0M358.34 120.64h0M364.56 130h0M366.55 120.38h0M369.2 121.08h0M359.98 119.7h0M361.71 126.48h0M360.92 127.87h0M364.22 127.29h0M365.53 127.34h0M364.87 120.53h0M364.01 129.82h0M364.74 128.91h0M360.72 127.42h0M361.55 129.8h0M365.21 125.08h0M357.68 124.54h0M366.73 125.28h0M363.14 110.4h0M363.15 128.99h0M365.83 126.66h0M367.17 118.06h0M362.84 112.92h0M364.71 126.05h0M362.4 118.09h0M364.48 128.85h0M360.48 115.4h0M361.83 128.68h0M362.65 117.17h0M365.23 129.87h0M365.23 130.65h0M365.25 110.44h0M359.39 114.22h0M362.84 129.23h0M366.49 112.01h0M366.6 121.06h0M358.38 112.46h0M366.18 118.33h0M359.79 121.08h0M361.31 129.27h0M358.62 121.96h0M361.66 123.81h0M364.25 127.4h0M359.26 120.66h0M363.43 111.14h0M362.84 128.87h0M358.07 117.38h0M362.76 115.14h0M367.54 124.82h0M364.79 129.26h0M361.73 127.49h0M371.77 119.43h0M362.11 112.86h0M371.77 113.83h0M363.95 125.77h0M363.27 119.67h0M366.22 127.39h0M365.81 121.05h0M365.89 114.29h0M362.99 130.62h0M371.15 123.75h0M366.18 124.31h0M359.05 113.93h0M366.84 121.81h0M363.22 124.99h0M367.35 111.26h0M366.84 121.28h0M359.22 127.62h0M360.68 124.98h0M360.87 110.59h0M361.27 127.07h0M361.59 113.38h0M368.63 110.94h0M363.41 122.6h0M367.1 110.17h0M364.29 126.04h0M366.91 115.18h0M364.49 117.55h0M363 110.57h0M359.56 125.24h0M363.37 129.9h0M365.71 117.22h0M364.66 127.17h0M365.5 113.5h0M362.61 119.59h0M368.55 109.81h0M363.01 110.79h0M363.51 116.02h0M365.45 115.08h0M366.27 119.6h0M366.62 113.13h0M366.46 122.24h0M361.32 112.5h0M360.36 109.93h0M370 121.57h0M359.39 113.23h0M358.28 115.41h0M361.33 119.72h0M367.22 114.46h0M369.3 123.25h0M358.61 120.21h0M367.81 112.39h0M364.18 127.81h0M367.15 127.95h0M363.61 124.12h0M365.36 111.41h0M366.03 128.35h0M359.11 112.07h0M366.27 126.88h0M363.6 130.74h0M360.49 122.68h0M367.2 109.92h0M364.83 113.42h0M357.34 122.61h0M367.06 118.76h0M365.93 124.88h0M359.22 116.91h0M362.92 111.87h0M359.26 119.66h0M364.8 115.29h0M365.83 124.3h0M366.57 112.47h0M365.12 122.5h0M368.8 120.35h0M365.05 112.89h0M362.16 122.67h0M363.05 125.6h0M359.4 121.55h0M362.21 126.34h0M369.72 118.01h0M361.82 117.61h0M364.68 112.72h0M362.39 118.65h0M363.07 123.73h0M360.73 120.48h0M364.82 113.47h0M367.33 119.21h0M364.62 123.48h0M364.23 118.9h0M359.24 119.18h0M361.32 122.26h0M362.69 120.7h0M365.93 120.22h0M366.46 111.37h0M362.1 120h0M365.18 124.25h0M361.81 125.35h0M358.76 126.96h0M362.33 114.17h0M369.3 114.78h0M363.06 116.79h0M361.31 120.24h0M362.47 118.51h0M365.64 117.35h0M363.51 115.52h0M360.93 126.61h0M363.09 110.16h0M360.63 116.76h0M361.51 117.68h0M365.06 127.98h0M364.22 122.63h0M359.57 109.88h0M362.18 130.86h0M365.04 116.12h0M365.27 123.97h0M364.43 128.75h0M364.96 123.99h0M370.59 123.6h0M369.03 122.1h0M367.84 119.36h0M365.1 124.77h0M363.75 126.74h0M364.3 125.29h0M363.31 121.88h0M366.71 120.32h0M368.44 125.66h0M360.88 120.88h0M362.36 120.9h0M370.17 117.67h0M365.45 129.13h0M365.27 119.67h0M365.04 120.06h0M363.94 116.6h0M362.06 121.98h0M361.9 130.29h0M368.11 123.77h0M366.15 117.97h0M365.8 127.06h0M365.62 125.5h0M360.04 118.95h0M363.26 123.21h0M359.78 126.07h0M356.73 118.09h0M357.23 122.89h0M363.98 122.54h0M368.32 115.77h0M361.52 113.97h0M360.08 110.87h0M366.04 126.34h0M365.9 122.75h0M367.28 126.05h0M361.13 126.34h0M357.22 119.05h0M365.22 114.97h0M361.99 126.59h0M364.89 129.71h0M360.64 110.9h0M359.89 111.39h0M359.35 123.6h0M364.41 130.38h0M359.99 123.96h0M358.16 124.2h0M362.3 124.75h0M365.81 128.35h0M364.76 113h0M363.41 123.25h0M365.08 120.77h0M365.43 110.14h0M369.5 112.58h0M363.48 128.64h0M370.79 116.58h0M357.56 112.05h0M364.52 129.09h0M361.58 130.29h0M364.96 126.37h0M360.85 130.6h0M369.25 119.55h0M362.91 128.19h0M362.55 115.49h0M362.81 112.72h0M368.73 111.88h0M362.76 123.79h0M363.17 114.47h0M366.85 115.47h0M370.98 122.34h0M362.41 128.78h0M357.82 118.17h0M364.41 126.84h0M360.86 129.36h0M363.11 121.53h0M360.91 128.09h0M368.8 118.71h0M363.66 110.65h0M361.56 118.94h0M362.12 121.6h0M364.03 124.16h0M359.92 119.93h0M360.73 129.54h0M362.08 123.55h0M363.69 130.1h0M366.94 118.62h0M362.33 115.87h0M362.35 126.06h0M362.78 127.9h0M369.2 113.59h0M360.67 111.19h0M366.24 128.29h0M364.44 112.34h0M370.62 113.66h0M360.65 123.38h0M362.23 130.9h0M367.46 120.63h0M363.98 109.94h0M356.76 117.09h0M357.26 116.89h0M370.75 117.3h0M362.34 125.02h0M368.81 115.44h0M363.93 130.24h0M363.04 113.88h0M357.31 114.93h0M370.99 118.95h0M369.01 123.38h0M359.5 110.35h0M364.06 125.55h0M360.36 112.73h0M364.56 123.54h0M362.96 126.75h0M365.3 114.13h0M366.39 124.49h0M361.75 126.73h0M364.8 112.19h0M363.97 127.65h0M367.7 117.64h0M364.34 112.33h0M359.16 119.11h0M364.42 130.38h0M364.9 128.34h0M363.27 118.71h0M368.26 118.16h0M367.58 115.15h0M367.44 113.58h0M365.94 113.28h0M361.69 112.21h0M362.75 124.22h0M364.51 109.99h0M368.76 112.84h0M367.64 119.33h0M367.36 117.62h0M366.65 126.39h0M362.03 114.98h0M359.79 118.61h0M364.66 117.63h0M363.43 110.26h0M357.79 115.98h0M365.79 119.62h0M364.07 128.85h0M361.09 118.54h0M365.11 122.96h0M364.37 114.31h0M364.7 122.21h0M362.7 127.14h0M359.71 116.58h0M359.99 117.67h0M358.32 117.35h0M356.14 115h0M366.1 115.81h0M363.35 110.05h0M361.52 113.6h0M362.71 130.74h0M357.6 122.38h0M366.39 114.87h0M365.39 112.74h0M366.53 110.87h0M367.78 120.83h0M359.81 113.21h0M366.71 112.03h0M361.84 121.54h0M367.46 112.42h0M357.94 119.17h0M358.47 122.49h0M371.26 113.53h0M358.35 111.6h0M363.46 129.89h0M360.83 111.83h0M370.82 112.79h0M358.63 120.69h0M361.33 111.61h0M362.89 123.73h0M366.33 123.87h0M361.39 127.11h0M365.57 119.85h0M365.56 119.53h0M369.62 111.9h0M369.56 122.1h0M356.68 109.81h0M364.43 124.93h0M365.14 114.02h0M363.57 129.04h0M369.31 116.09h0M366.14 120.2h0M363.6 116.98h0M367.3 126.34h0M364.4 114.7h0M368.41 125.44h0M364.06 126.4h0M363.55 117.93h0M362.87 121.11h0M363.9 110.63h0M357.75 121.65h0M370.9 122.97h0M369.55 114.79h0M366.64 124.71h0M358.5 124.98h0M358.99 126.6h0M367.6 116.91h0M358.96 125.15h0M365.26 127.02h0M361.16 113.47h0M368.11 119.88h0M362.1 123.47h0M368.81 118.21h0M360.19 112.73h0M365.74 124.46h0M360.45 112.95h0M359.98 126.87h0M363.21 121.09h0M361.25 121.83h0M357.75 115.28h0M359.44 121.05h0M364.95 125.49h0M360.66 112.96h0M357.92 114.61h0M360.2 112.98h0M364.03 110.97h0M368.02 110.53h0M361.97 124.61h0M360.56 120.15h0M364.78 116.09h0M367.13 115.17h0M360.94 113.56h0M368.49 124.29h0M364.14 125.08h0M360.82 128.9h0M370.07 110.95h0M364.27 130.85h0M360.72 122.36h0M363.11 124.51h0M369.63 121.26h0M361.02 113.07h0M363.58 129.08h0M360.92 117.15h0M367.78 111.28h0M363.73 122.42h0M363.16 130h0M366.36 124.16h0M368.01 123.52h0M357.83 116.81h0M360.74 120.41h0M363.54 126.4h0M366.62 110.18h0M360.68 113.25h0M362.05 111.83h0M367.39 120.29h0M363.29 127.06h0M361.01 124.02h0M359.71 114.02h0M367.05 123.79h0M358.9 112.43h0M366.7 126.68h0M362.74 128.75h0M364.06 127.84h0M367.25 123.24h0M357.11 113.13h0M367.64 110.76h0M366.22 127.08h0M360.43 116.23h0M360.26 119.93h0M366.83 124.89h0M358.38 126.63h0M363.85 121.28h0M366.78 122.96h0M366.22 110.82h0M365.1 110.6h0M362.49 118.89h0M365.82 127.73h0M367.79 113.67h0M360.84 120.06h0M363.52 113.11h0M364.24 112.21h0M368.13 117.65h0M365.36 128.73h0M358.44 115.25h0M358.78 125.17h0M359.91 116.77h0M366.72 110.08h0M355.66 111.65h0M365.29 112.72h0M362.44 125.03h0M367.63 124.81h0M364.6 123.29h0M362.88 115.41h0M362.84 123.47h0M361.51 111.9h0M361.09 128.49h0M365.25 118.49h0M359.65 127.19h0M366.82 116.64h0M366.63 125.43h0M364.12 111.93h0M356.11 116.84h0M359.37 112.69h0M357.45 113.83h0M359.94 114.53h0M369.37 116.09h0M359.18 122.01h0M363.89 121.15h0M362.04 130.09h0M357.92 113.53h0M360.24 126.2h0M362.76 129.22h0M363.95 115.63h0M366.15 126.81h0M371.15 117.93h0M359.57 125.45h0M364.19 110.73h0M367.18 119.54h0M363.11 111.46h0M358.43 117.02h0M363.67 126.14h0M358.71 127.71h0M359.77 121.81h0M363.52 121.28h0M358.77 116.76h0M362.98 130.67h0M363.76 127.16h0M366.74 124.43h0M365.92 128.06h0M360.62 110.82h0M363.58 128.1h0M367.15 113.75h0M359.99 114.14h0M359.78 127.11h0M365.58 125.54h0M365.31 124.82h0M357.26 116.49h0M359.37 112.31h0M361.95 129.37h0M360.38 118h0M366.49 115.91h0M357.53 125.29h0M362.99 129.57h0M363.12 115.9h0M364.13 126.77h0M367.69 126.08h0M362.88 130.5h0M366.35 119.99h0M364.02 125.66h0M368.72 117.05h0M363.73 128.37h0M363.04 115h0M360.17 115.74h0M362.08 110.12h0M365.56 127.18h0M367.27 112.18h0M358.53 120.83h0M370.47 115.56h0M358.11 113.12h0M371.22 113.46h0M365.13 123.25h0M361.49 121.92h0M361.13 129.33h0M369.91 114.39h0M361.39 114.4h0M359.27 121.38h0M361.88 130.66h0M366.43 114.25h0M364.23 128.78h0M363.42 111.75h0M365.15 127.06h0M363.49 126.83h0M357.15 119.6h0M362.93 118.86h0M362.4 125.19h0M367.28 125.13h0M363.98 127.77h0M359.71 120.88h0M365.34 128.71h0M360.38 121.31h0M367.68 123.15h0M364.13 113.57h0M363.56 129.8h0M364.03 120.08h0M364.27 123.37h0M363.68 120.04h0M358.19 111.6h0M361.3 110.68h0M365.43 129.78h0M362.9 119.58h0M365.65 124h0M366.72 123.15h0M359.74 125.58h0M362.8 130.75h0M364.24 111.18h0M362.73 117.94h0M356.43 113.64h0M365.11 112.52h0M362.75 119.05h0M365.64 118.52h0M361.35 124.11h0M362.72 117.66h0M361.07 124.78h0M365.38 122.01h0M357.81 118.12h0M362.56 113.21h0M359.51 110.05h0M363.4 125.12h0M359.81 122.81h0M367.98 112.7h0M363.18 129.32h0M359.45 120.43h0M362.31 126.31h0M362.33 127.13h0M370.38 113.09h0M367.74 124.44h0M358.59 119.44h0M360.21 114.41h0M362.28 128.91h0M359.72 127.18h0M369.4 117.44h0M355.45 113.97h0M365.26 124.76h0M362.09 115.88h0M360.86 115.67h0M363.44 128.32h0M363.46 126.93h0M364.4 130.04h0M361.9 122.4h0M361.16 118.87h0M370.24 117.93h0M365.96 120.73h0M361.99 114.59h0M370.26 122.99h0M365.56 125.64h0M362.29 130.78h0M362.01 130.69h0M368.03 123.75h0M368.52 116.93h0M362.32 117.23h0M364.57 128.03h0M361.74 128.99h0M369.28 122.89h0M364.33 120.86h0M361.97 112.95h0M359.79 125.51h0M362.55 118h0M362.1 123.17h0M364.16 124.28h0M361.14 113.26h0M360.66 112.25h0M359.85 118.39h0M362.01 114.08h0M367.79 117.93h0M367.43 112.73h0M366.67 113.6h0M358.02 119.14h0M356.9 118.15h0M367.54 125.51h0M361.98 121.63h0M365.57 123.88h0M364 128.18h0M364.2 114.66h0M366.94 121.08h0M361.31 125.97h0M369.15 120.18h0M357.7 119.7h0M362.5 114.12h0M363.28 118.49h0M361.06 129.05h0M357.12 116.31h0M364.77 128.08h0M368.79 122.19h0M365.2 127.46h0M364.47 120.59h0M370.78 121.86h0M365 123.38h0M364.39 129.2h0M365.31 128.66h0M362.63 130.83h0M367.21 117.15h0M363.56 130.61h0M363.78 126.13h0M365.24 124.4h0M358.12 116.96h0M361.15 128.56h0M367.13 124.1h0M367.45 119.38h0M366.45 124.1h0M363.76 126.96h0M366.16 122.53h0M354.88 119.78h0M362.46 124.31h0M366.63 121.87h0M368.59 111.7h0M364.37 116.38h0M363.49 130.52h0M359.41 110.15h0M362.43 130.53h0M362.27 128.04h0M367.86 117.68h0M363.87 128.03h0M362.58 130.69h0M359.91 128.64h0M367.93 119.73h0M364.7 123.3h0M363.3 115.57h0M363.01 112.73h0M366.8 118.51h0M364.97 115.11h0M357.25 117.85h0M366.05 127.35h0M366.37 123.9h0M354.41 110.6h0M359.83 116.18h0M357.85 114.45h0M369.87 113.45h0M357.37 115.97h0M361.7 128.66h0M365.22 117.81h0M364.14 114.37h0M364.47 122.34h0M372.67 117.57h0M368.03 124.22h0M365.97 122.67h0M368.64 115.5h0M359.59 124.72h0M366.37 114.05h0M365.81 120.93h0M363.28 122.15h0M364.85 122.63h0M364.07 118.54h0M365.49 116.48h0M365.06 126.72h0M360.48 112.94h0M360.12 112.94h0M361.02 115.89h0M358.25 115.83h0M361.63 113.77h0M364.42 126.13h0M362.48 110.73h0M361.17 123.12h0M362.67 130.46h0M365.24 125.82h0M358.84 115.74h0M359.97 113.16h0M362.87 109.81h0M361.31 129.6h0M364.14 130.64h0M357.77 111.93h0M363.1 129.13h0M363.46 113.64h0M363.77 116.24h0M363.66 110.62h0M363.17 130.2h0M362.26 120.18h0M361.53 123.53h0M365.86 124.59h0M362.59 129.14h0M360.99 124.47h0M365.76 126.86h0M363.38 118.78h0M369.18 123.97h0M366.93 126.11h0M365.54 118.05h0M357.65 117.98h0M362.44 121.17h0M362.54 129.44h0M361.81 125.36h0M357.86 120.91h0M364.23 120.29h0M364.72 114.65h0M367.09 122.05h0M364.85 115.64h0M366.66 127.49h0M363.63 118.22h0M364.98 129.06h0M364.33 117.9h0M363.36 130.43h0M362.45 119.61h0M360.47 125.5h0M360.34 110.49h0M361.9 122.27h0M356.47 114.03h0M370.34 120.52h0M359.52 110.91h0M366.66 126.25h0M367.38 121.49h0M359.1 124.76h0M357.48 125.2h0M362.46 124.09h0M363.62 126.44h0M361.47 121.96h0M367.17 119.66h0M363.55 125.48h0M359.59 125.97h0M365.1 126.55h0M367.78 113.19h0M366.42 110.66h0M362.95 123.85h0M365.14 125.35h0M369.91 114.59h0M366.07 116.88h0M364.1 123.57h0M363.82 123.33h0M366 127.4h0M362.32 121.86h0M365.15 125.91h0M364.9 109.98h0M361.34 128.74h0M364.99 111.39h0M365.33 123.49h0M360.73 111.63h0M360.69 122.79h0M359.98 115.55h0M363.56 117.47h0M367.62 115.43h0M362.39 128.66h0M361.89 130.37h0M362.78 129.85h0M362.47 128.62h0M364.49 122.95h0M363.27 112.44h0M368.51 111.56h0M365.7 127.45h0M361.3 122.68h0M361.42 128.12h0M356.71 121.09h0M364.4 120.83h0M370.67 118.98h0M361.56 126.65h0M362.41 124.9h0M357.33 121.6h0M361.85 124.23h0M362.27 127.8h0M366.68 127.57h0M366.24 121.82h0M368.88 109.78h0M368.29 125.46h0M365.42 121.95h0M363.78 118.89h0M359.6 111.93h0M366.66 127.39h0M363.76 126.64h0M371.13 124.2h0M364.01 122.81h0M361.33 129.85h0M365.76 122.93h0M359.08 110.74h0M362.44 129.68h0M363.89 126.91h0M359.28 114.13h0M361.68 124.15h0M365.27 129.15h0M364.2 112.59h0M366.19 124.49h0M364.31 124.24h0M360.39 114.72h0M359.47 117.65h0M357.29 122.67h0M370.57 111.01h0M367.15 119.52h0M363.91 111.89h0M361.39 129.63h0M370.13 112.73h0M365.78 123.3h0M367.02 117.91h0M361.24 114.93h0M364.6 130.36h0M361.62 113.18h0M370.73 110.24h0M371.05 120.23h0M364.95 125.34h0M361.8 114.31h0M366.42 111.15h0M365.88 117.04h0M368.33 111.88h0M358.45 121.76h0M361.76 127.03h0M362.21 130.39h0M363.53 114.84h0M361.48 118.07h0M363.3 128.85h0M358.65 125.46h0M369.02 126.42h0M361.75 129.53h0M363.79 130.57h0M360.66 112.65h0M361.09 118.53h0M356.65 112.21h0M364.5 122.53h0M368.04 124h0M360.02 124.62h0M363.49 125.63h0M366.53 126.53h0M359.51 122.51h0M365.56 116.38h0M367.88 114.31h0M363.78 130.83h0M357.48 123.51h0M372.53 112.74h0M359.74 124.65h0M367.41 119.16h0M359.44 123.95h0M362.48 129.82h0M366.85 122.38h0M369.75 125.26h0M362.09 127.52h0M364.1 127.73h0M367.51 115.43h0M368.47 113.44h0M362.45 114.06h0M368.6 111.12h0M367.04 124.65h0M357.9 118.53h0M366.65 123.8h0M362.28 111.93h0M364.93 126.1h0M361.85 115.34h0M359.87 123.55h0M361.66 127.95h0M370.19 110.65h0M365.67 122.54h0M365.26 111.11h0M356.78 112.99h0M366.54 112.86h0M361.35 130.76h0M364.42 115.83h0M364.45 129.3h0M360.45 113.47h0M362.08 129.84h0M362.96 126.51h0M364.21 118.69h0M360.11 129.36h0M361.79 121.9h0M368.13 121.97h0M360.72 122.05h0M365.66 123.79h0M369.72 121.25h0M365.07 112.27h0M366.22 118.09h0M360.51 115.52h0M367.79 116.1h0M361.83 129.4h0M370.16 116.2h0M370 118.67h0M362.53 117.63h0M359.31 123.62h0M372.12 121h0M362.45 129.45h0M363.65 128.92h0M368.3 121.28h0M363.42 122.26h0M365.72 127.05h0M367.49 109.94h0M366.16 125.74h0M363.24 127.84h0M365.17 128.07h0M362.16 127.85h0M361.52 128.98h0M367.59 109.95h0M361.6 116.08h0M357.38 118.62h0M366.19 126.79h0M368.2 121.82h0M364.87 129.42h0M362.69 127.16h0M365.83 117.98h0M357.44 122.11h0M358.44 121.98h0M367.55 115.74h0M361.31 116.74h0M364.25 112h0M366.07 126.21h0M365.23 111.58h0M367.26 126.58h0M363.69 114.42h0M366.71 112.61h0M367.81 124.23h0M362.14 111.83h0M361.18 115.57h0M360.32 113.96h0M367.31 124.13h0M367.69 115.23h0M359.35 126.04h0M365.42 116.31h0M364.97 130.31h0M362.94 123.8h0M363.48 109.79h0M363.35 128.65h0M363.53 127.61h0M362.18 117.78h0M365.43 127.02h0M364.73 120.17h0M361.59 118.88h0M368.3 113.9h0M367.03 112.45h0M362.77 128.54h0M363.85 127.31h0M362.74 123.01h0M367.11 126.92h0M362.44 115.68h0M363.94 129.58h0M366.41 114.33h0M368.24 118.18h0M367.18 111.71h0M362.05 130.44h0M366.87 125.4h0M369.4 113.97h0M362.06 110.49h0M368.15 120.67h0M364.48 130.51h0M363.23 119.77h0M361.75 119.67h0M368.31 116.02h0M366.22 124.92h0M358.69 124.97h0M362.37 109.79h0M359.18 122.12h0M370.76 113.96h0M367.21 118.98h0M367.04 125.95h0M365.32 113.91h0M369.28 117.92h0M367.56 125.48h0M366.42 118.34h0M365.53 119.77h0M357.21 115.25h0M356.22 111.99h0M370.45 117.3h0M368.11 112.26h0M363.54 130.43h0M362.08 126.02h0M366.53 117.61h0M360.01 117.16h0M362.79 115.91h0M369.82 110.79h0M358.69 124.4h0M358.65 120.2h0M360.1 119.35h0M365.16 123.94h0M366.98 123.81h0M359.84 110.35h0M363.35 113.87h0M363.89 122.95h0M358.37 113.9h0M368.11 123.6h0M369.21 120.47h0M364.26 120.73h0M367.61 114.42h0M364.69 123.37h0M367.11 110.24h0M361.72 116.8h0M361.21 121.96h0M364.97 129.06h0M368 112.38h0M361.39 113.56h0M365.38 127.93h0M362.2 129.21h0M367.34 120.16h0M364.26 130.47h0M364.07 111.81h0M364.04 124.52h0M361.97 119.26h0M364.89 118.07h0M361.99 121.41h0M367.8 127.97h0M356.31 112.75h0M358.87 113.84h0M362.95 122.76h0M364.95 127.92h0M368.75 120.25h0M368.31 122.01h0M361.53 130.52h0M365.19 125.36h0M357.91 114.27h0M366.27 110.74h0M356.72 113.96h0M357.85 115.04h0M367.36 116.92h0M367.5 121.38h0M361.1 121.83h0M363.35 109.97h0M363.45 127.76h0M360.89 113.62h0M366.95 124.63h0M364.8 110.55h0M360.06 111.61h0M361.16 126.48h0M365.02 118.44h0M359.3 122.33h0M360.75 127.35h0M364.58 113.81h0M364.25 110.76h0M362.28 123.16h0M363.97 121.1h0M362.95 129.72h0M363.35 130.54h0M365.95 130.3h0M359.52 117.57h0M358.17 123.83h0M365.37 124.43h0M365.53 123.65h0M368.23 111.11h0M369.2 119.64h0M366.91 118.56h0M363.16 111.28h0M363.29 129.02h0M369.35 123.12h0M366.35 116h0M366.7 122.26h0M362.92 110.93h0M361.69 127.14h0M368.34 116.28h0M366.64 115.33h0M363.41 107.44h0M361 107.96h0M361.37 103.52h0M365.1 96.07h0M366.13 97.86h0M364.25 104.63h0M365.57 104.47h0M363.17 102.79h0M358.66 103.62h0M359.13 105.12h0M360.32 105.17h0M358.44 105.91h0M358.57 102.66h0M365.03 107.34h0M359.79 108.02h0M366.3 99.15h0M362.27 109.65h0M366.19 94.62h0M360.26 99.89h0M366.77 108.93h0M365.45 93.99h0M361.42 101.68h0M363.4 105.57h0M359.9 100.06h0M363.09 107.93h0M359.18 100.23h0M363.02 107.48h0M358.96 92.71h0M363.11 101.3h0M361.13 101.36h0M360.82 103.96h0M362.87 96.89h0M363.68 98.39h0M362.16 103.83h0M363.39 108.56h0M358.88 108.34h0M364.09 100.1h0M364.78 105.68h0M365.2 102.83h0M363.13 101.07h0M362.59 102.96h0M366.53 109.2h0M359.09 96.96h0M361.61 95.68h0M364.92 103.82h0M362.6 105.38h0M359.22 101.08h0M360.65 109.27h0M364.64 106.62h0M363.26 98.24h0M365.81 104.58h0M360.98 102.08h0M360.83 90.65h0M365 105.72h0M361.2 106.29h0M365.29 99.99h0M365.81 107.57h0M362.82 108.01h0M358.83 108.74h0M365.18 101.82h0M365.38 105.35h0M366.89 105.38h0M363.68 103.87h0M365.73 108.15h0M360.44 91.62h0M360.62 102.97h0M361.02 106.78h0M365.5 107.12h0M363.55 99.14h0M365.79 98.99h0M366.51 105.81h0M365.69 104.04h0M360.61 102.72h0M365.95 99.96h0M361.95 106.83h0M358.39 96.19h0M362.65 97.28h0M366.67 94.45h0M366.95 100.55h0M361.89 102.58h0M365.49 100.25h0M360.41 98.09h0M362.86 109.27h0M366.71 109.58h0M359 105.77h0M364.85 106.35h0M365.82 100.5h0M360.89 108.26h0M360.03 109.17h0M364.68 109.71h0M365.5 98.7h0M362.13 104.17h0M364.35 98.96h0M363.15 107.9h0M359.8 106.17h0M362.88 100.74h0M360.84 98.22h0M363.91 105.08h0M366.45 103.92h0M359.17 108h0M363.05 106.38h0M360.14 106.82h0M363.75 96.32h0M366.73 97.68h0M362.96 100.98h0M359 107.99h0M358.87 101.14h0M361.31 106.26h0M362.26 108.32h0M362.25 108.19h0M362.8 100.66h0M363.59 96.6h0M363.43 106.17h0M359.71 94.98h0M366.64 99.21h0M364.78 107.25h0M359.35 105.08h0M362.29 108.7h0M359.4 106.92h0M359.49 99.98h0M359.96 107.39h0M363.62 103.88h0M366 108.59h0M361.83 105.37h0M361.45 99.63h0M366.81 99.8h0M362.49 98.63h0M360.51 90.83h0M366.86 98.97h0M363.23 97.66h0M360.42 106.34h0M359.03 92.16h0M361.65 98.24h0M359.28 109.51h0M362.24 106.93h0M362.9 103.34h0M364.95 93.54h0M362.74 99.29h0M362.86 96.78h0M361.85 106.93h0M363.43 89.09h0M366.23 92.46h0M358.71 101.27h0M360.86 91.4h0M360.78 96.35h0M358.71 96.4h0M362.18 96.51h0M358.62 106.55h0M359.79 105.21h0M360.09 99.85h0M363.99 103.9h0M362.85 101.44h0M364.39 108.67h0M363.12 98.09h0M359.02 104.41h0M360.47 102.12h0M358.62 98.52h0M362.62 88.14h0M360.01 105.39h0M364.36 95.83h0M360.58 102.1h0M361.31 95.57h0M363.48 99.85h0M362.14 109.38h0M365.01 97.98h0M359.29 97.22h0M366.12 103.18h0M360.25 103.38h0M366.96 93.12h0M361.13 92.77h0M361.37 107.51h0M361.81 101.9h0M361.57 109.4h0M363.94 93.59h0M358.59 106.91h0M363.91 89.27h0M359.49 94.33h0M364.86 101.09h0M366.75 106.27h0M362.74 99.63h0M359.48 100.53h0M366.3 94.6h0M365.55 105.15h0M364.79 100.86h0M366.03 106.63h0M362.55 107.95h0M358.51 100.31h0M358.76 106.03h0M361.66 98.38h0M366.88 95.05h0M360.98 103.43h0M363.25 109.43h0M361.86 100.81h0M358.7 98.12h0M363.95 102.66h0M366.64 109.26h0M362.99 106.87h0M362.79 97.22h0M364.45 105.18h0M361.06 109.43h0M364.64 109.66h0M360.27 108.18h0M362.21 99.14h0M358.83 91.73h0M360.21 107.96h0M362.65 107.77h0M365.62 104.4h0M360.52 104.29h0M359.3 107.28h0M366.46 96.91h0M365.78 99.25h0M358.75 105.43h0M363.23 107.64h0M364.54 100.64h0M366.01 108.11h0M362.59 101.97h0M362.52 96.47h0M365.83 102.42h0M361.48 108.95h0M362.35 108.89h0M363.2 109.67h0M366.59 105.56h0M365.67 104.59h0M362.16 105.69h0M366.05 105.02h0M362.01 105.43h0M363.72 96.64h0M366.96 97.95h0M359.18 104.93h0M361.99 105.9h0M361.09 108.31h0M360.01 101.52h0M366.4 109.72h0M362.8 108.22h0M366.71 105.04h0M360.94 105.58h0M364.72 108.33h0M364.03 98.02h0M359.75 97.98h0M361.54 105.32h0M360.19 106.9h0M361.93 106.93h0M366.46 106.57h0M361.48 101.43h0M361.74 106.17h0M360.02 105.72h0M364.48 100.23h0M363.33 99.79h0M360.43 95.43h0M360.77 105.8h0M362.31 103.87h0M360.28 90.59h0M361.26 96.7h0M358.5 106.14h0M362.17 104.03h0M363.24 95.7h0M365.61 106.34h0M365.02 104.63h0M364.92 107.01h0M363.93 100.99h0M362.67 101.9h0M366.12 105.75h0M361.87 109.52h0M358.28 107.66h0M360.37 94.94h0M364.44 102.79h0M362.67 93.78h0M360.02 97.01h0M365.61 99.86h0M363.62 105.85h0M361.98 98.16h0M362.95 99.5h0M365.65 108.92h0M363.95 104.67h0M363.96 103.06h0M363.64 100.09h0M359.46 105.04h0M366.52 102.9h0M364.16 102.77h0M359.37 100.96h0M364.9 95.43h0M366.91 107.53h0M365.22 108.6h0M365.3 107.17h0M364.38 97.39h0M360.85 95.8h0M361.78 103.82h0M366.28 109.27h0M366.53 108.96h0M362.01 105.14h0M360.14 105.71h0M365.61 108.66h0M366.61 108.28h0M363.22 95.63h0M359.11 105.8h0M359.45 95.79h0M359.43 107.16h0M365.14 108.49h0M364.86 102.31h0M359.32 109.39h0M361.66 93.59h0M362.43 108.46h0M364.75 109.57h0M364.57 106.48h0M359.93 105.32h0M363.87 107.11h0M364.2 109.29h0M359.89 105.76h0M360.34 101.21h0M364.59 108.48h0M361.96 98.47h0M363.53 93.02h0M366.57 106.57h0M362.21 100.22h0M362.64 107.35h0M362.08 95.55h0M358.35 102.5h0M364.87 102.79h0M365.24 94.67h0M365.07 95.05h0M361.23 104.79h0M361.6 103.73h0M363.44 108.81h0M364.45 107.33h0M360.86 105.46h0M366.66 93.44h0M362.04 100.87h0M363.29 95.65h0M358.97 105.86h0M366.08 103.73h0M366.18 102.7h0M361.16 98.73h0M365.05 105.52h0M365.72 99.86h0M359.26 109.35h0M361.77 92.01h0M365.35 100.56h0M364.67 105.47h0M362.02 109.25h0M364.14 102.12h0M360.85 99.96h0M358.69 109.17h0M366.73 101.5h0M361.1 107.22h0M360.81 107.81h0M366.49 98.87h0M364.13 106.67h0M362.5 108.84h0M359 96.98h0M364.04 100.59h0M359.45 102.41h0M366.65 103.69h0M364.07 104.85h0M362.94 109.07h0M364.56 99.31h0M366.15 103.85h0M362.17 100.22h0M367.01 108.48h0M364.81 96.01h0M360.52 106.17h0M365.36 101.07h0M360.38 100.43h0M358.98 100.29h0M366.96 93.72h0M366.37 106.01h0M362.88 98.76h0M366.48 108.69h0M364.89 97.19h0M363.45 101.29h0M361 108.75h0M365.03 108.06h0M362.17 107.4h0" stroke="#808080" stroke-width="1.4" stroke-linecap="round" fill="none"/>
<path d="M358 88.94h0M348.44 104.73h0M354.76 105.12h0M355.85 99.19h0M348.94 102.69h0M350.58 104.51h0M357.71 96.55h0M351.39 100.5h0M353 96.27h0M352.36 99.72h0M348.66 108.06h0M357.73 87.87h0M355.72 94.65h0M352.52 97.98h0M354.73 93.69h0M357.49 103.44h0M350.26 102.93h0M357.95 106.14h0M357.61 90.12h0M355.16 106.09h0M355.54 105.56h0M355.43 94.56h0M357.87 109.18h0M357.38 106.51h0M350.53 101.67h0M347.57 107.74h0M356.83 100.17h0M351.46 101.42h0M357.92 99.3h0M352.91 98.55h0M348.85 103.46h0M355.2 106.23h0M355.55 103.11h0M355.52 99.71h0M355.43 102.38h0M347.01 104.59h0M351.06 103.05h0M348.8 104.75h0M357.08 101.7h0M346.53 108.04h0M354.96 107.83h0M353.13 102.23h0M356.49 103.86h0M353.24 105.94h0M350 99.22h0M357.1 91.99h0M352.1 99.6h0M346.83 105.81h0M353.22 95.33h0M354.14 92.16h0M352.14 108.82h0M351.8 99.37h0M347.33 108.78h0M349.16 104.05h0M352.36 102.56h0M353.11 99.32h0M357.21 106.71h0M348.14 108.87h0M350.7 102.11h0M353.14 95.83h0M355.4 107.36h0M357.52 106.59h0M352.01 86.65h0M352.14 99.36h0M353.23 104.18h0M351.45 101.83h0M353.19 98.25h0M355.81 96.42h0M344.84 102.85h0M352.74 103.04h0M356.62 90.02h0M343.07 104.01h0M343.94 86.4h0M343.86 103.14h0M349 101.49h0M353.14 85.55h0M356.85 99.99h0M348.18 102.69h0M353.7 101.34h0M352.79 107.34h0M357.78 105.83h0M357.81 105.01h0M354.16 104.57h0M340.72 102.71h0M354.83 103.01h0M337.9 45.5h0M350.1 73.7h0M351.5 72.5h0M338.9 93.4h0M343.2 99.7h0M347.2 91.9h0M348.1 86h0M358 76.1h0M356.6 82h0M305.4 28.4h0M305.4 44.2h0M305.4 46.5h0M305.4 49.5h0M305.4 53.4h0M305.4 59.3h0M305.4 62.3h0M305.4 71.2h0M305.4 79.1h0M305.4 81h0M305.4 82h0M305.4 92.8h0M305.4 95.8h0M305.4 101.7h0M305.4 106.6h0" stroke="#0000ff" stroke-width="1.65" stroke-linecap="round" fill="none"/>
<path d="M369.5 101.45h0M372.21 108.82h0M368.29 105.14h0M369.54 98.8h0M368.03 88.92h0M367.88 107.28h0M369.09 96.18h0M367.34 103.97h0M371.89 107.7h0M368.54 95.42h0M367.71 102.27h0M369.9 105.59h0M368.34 96.81h0M369.33 100.33h0M367.71 96.47h0M370.96 103.59h0M368.77 105.94h0M369.63 107.76h0M369.85 100.03h0M367.94 96.99h0M373.01 108.89h0M370.79 105.23h0M370.22 97.32h0M369.27 96.21h0M367.36 96.12h0M370.82 103.26h0M368.5 94.36h0M370.03 109.11h0M371.05 101.64h0M369.65 103.95h0M368.48 98.01h0M370.85 101.52h0M370.01 108.78h0M367.76 97.48h0M369.73 94.46h0M369.23 99.54h0M371.27 107.09h0M367.42 87.88h0M369.25 108.11h0M368.19 93.96h0M370.65 103.02h0M373.87 107.28h0M367.92 90.05h0M369.74 106.14h0M371.64 108.03h0M369.78 105.49h0M371.03 101.49h0M375.78 101.56h0M374.76 99.22h0M368.63 100.07h0M368.81 104.66h0M374.72 100.2h0M370.33 102.29h0M388.07 94.28h0M367.62 107.19h0M372.03 100.76h0M368.84 105.23h0M375.34 91.63h0M373.91 100.31h0M372.7 107.13h0M373.16 101.59h0M375.09 103.79h0M374.43 93.73h0M371.85 96.65h0M373.36 101.17h0M373.8 60.7h0M367.3 69.2h0M380.1 70.8h0M394.1 70.2h0M396 77.7h0M394.8 86h0M391.1 104.1h0M396.4 102.3h0M383.6 106h0M380.7 104.7h0M376.7 97.8h0M420.9 40.6h0M420.9 45h0M420.9 52.4h0M420.9 66.6h0M420.9 68.2h0M420.9 70.2h0M420.9 73.5h0M420.9 109.2h0" stroke="#ff0000" stroke-width="1.65" stroke-linecap="round" fill="none"/>
</g>
<line x1="304.4" y1="109.73" x2="421.7" y2="109.73" stroke="#444" stroke-width="0.55" stroke-dasharray="1.3 0.8"/>
<line x1="359" y1="22.9" x2="359" y2="136.2" stroke="#777" stroke-width="0.5" stroke-dasharray="0.8 0.7"/>
<line x1="367.3" y1="22.9" x2="367.3" y2="136.2" stroke="#111" stroke-width="0.55" stroke-dasharray="1.3 0.8"/>
<rect x="304.4" y="22.9" width="117.3" height="113.3" fill="none" stroke="#555" stroke-width="0.55"/>
<line x1="304.2" y1="136.2" x2="304.2" y2="137.6" stroke="#333" stroke-width="0.45"/>
<text x="304.2" y="141.5" font-size="3.6" text-anchor="middle" fill="#222" font-family="'DejaVu Sans', sans-serif">−8</text>
<line x1="318.81" y1="136.2" x2="318.81" y2="137.6" stroke="#333" stroke-width="0.45"/>
<text x="318.81" y="141.5" font-size="3.6" text-anchor="middle" fill="#222" font-family="'DejaVu Sans', sans-serif">−6</text>
<line x1="333.43" y1="136.2" x2="333.43" y2="137.6" stroke="#333" stroke-width="0.45"/>
<text x="333.43" y="141.5" font-size="3.6" text-anchor="middle" fill="#222" font-family="'DejaVu Sans', sans-serif">−4</text>
<line x1="348.04" y1="136.2" x2="348.04" y2="137.6" stroke="#333" stroke-width="0.45"/>
<text x="348.04" y="141.5" font-size="3.6" text-anchor="middle" fill="#222" font-family="'DejaVu Sans', sans-serif">−2</text>
<line x1="362.65" y1="136.2" x2="362.65" y2="137.6" stroke="#333" stroke-width="0.45"/>
<text x="362.65" y="141.5" font-size="3.6" text-anchor="middle" fill="#222" font-family="'DejaVu Sans', sans-serif">0</text>
<line x1="377.26" y1="136.2" x2="377.26" y2="137.6" stroke="#333" stroke-width="0.45"/>
<text x="377.26" y="141.5" font-size="3.6" text-anchor="middle" fill="#222" font-family="'DejaVu Sans', sans-serif">2</text>
<line x1="391.87" y1="136.2" x2="391.87" y2="137.6" stroke="#333" stroke-width="0.45"/>
<text x="391.87" y="141.5" font-size="3.6" text-anchor="middle" fill="#222" font-family="'DejaVu Sans', sans-serif">4</text>
<line x1="406.49" y1="136.2" x2="406.49" y2="137.6" stroke="#333" stroke-width="0.45"/>
<text x="406.49" y="141.5" font-size="3.6" text-anchor="middle" fill="#222" font-family="'DejaVu Sans', sans-serif">6</text>
<line x1="421.1" y1="136.2" x2="421.1" y2="137.6" stroke="#333" stroke-width="0.45"/>
<text x="421.1" y="141.5" font-size="3.6" text-anchor="middle" fill="#222" font-family="'DejaVu Sans', sans-serif">8</text>
<line x1="303" y1="130.9" x2="304.4" y2="130.9" stroke="#333" stroke-width="0.45"/>
<text x="302.4" y="132.2" font-size="3.6" text-anchor="end" fill="#222" font-family="'DejaVu Sans', sans-serif">0</text>
<line x1="303" y1="114.63" x2="304.4" y2="114.63" stroke="#333" stroke-width="0.45"/>
<text x="302.4" y="115.93" font-size="3.6" text-anchor="end" fill="#222" font-family="'DejaVu Sans', sans-serif">1</text>
<line x1="303" y1="98.36" x2="304.4" y2="98.36" stroke="#333" stroke-width="0.45"/>
<text x="302.4" y="99.66" font-size="3.6" text-anchor="end" fill="#222" font-family="'DejaVu Sans', sans-serif">2</text>
<line x1="303" y1="82.09" x2="304.4" y2="82.09" stroke="#333" stroke-width="0.45"/>
<text x="302.4" y="83.39" font-size="3.6" text-anchor="end" fill="#222" font-family="'DejaVu Sans', sans-serif">3</text>
<line x1="303" y1="65.82" x2="304.4" y2="65.82" stroke="#333" stroke-width="0.45"/>
<text x="302.4" y="67.12" font-size="3.6" text-anchor="end" fill="#222" font-family="'DejaVu Sans', sans-serif">4</text>
<line x1="303" y1="49.55" x2="304.4" y2="49.55" stroke="#333" stroke-width="0.45"/>
<text x="302.4" y="50.85" font-size="3.6" text-anchor="end" fill="#222" font-family="'DejaVu Sans', sans-serif">5</text>
<line x1="303" y1="33.28" x2="304.4" y2="33.28" stroke="#333" stroke-width="0.45"/>
<text x="302.4" y="34.58" font-size="3.6" text-anchor="end" fill="#222" font-family="'DejaVu Sans', sans-serif">6</text>
<text x="363.05" y="21.6" font-size="4.3" text-anchor="middle" fill="#111" font-family="'DejaVu Sans', sans-serif">Volcano Plot</text>
<text x="363.05" y="146.4" font-size="3.6" text-anchor="middle" fill="#222" font-family="'DejaVu Sans', sans-serif">log2(FC)</text>
<text x="297.5" y="79.55" font-size="3.6" text-anchor="middle" fill="#222" font-family="'DejaVu Sans', sans-serif" transform="rotate(-90 297.5 79.55)">-log10P-value</text>
<text x="358.6" y="36.7" font-size="3.6" text-anchor="end" fill="#222" font-family="'DejaVu Sans', sans-serif">FC=1/1.5</text>
<text x="367.7" y="36.7" font-size="3.6" fill="#222" font-family="'DejaVu Sans', sans-serif">FC=1.5</text>
<text x="420.2" y="113.7" font-size="3.7" text-anchor="end" fill="#222" font-family="'DejaVu Sans', sans-serif">P-value=0.05</text>
</g>
<rect x="427.5" y="64" width="42.2" height="15.5" fill="#fff" stroke="#ddd" stroke-width="0.4"/>
<circle cx="432.6" cy="66.8" r="0.85" fill="#ff0000"/>
<text x="439" y="68.1" font-size="3.62" fill="#111" font-family="'DejaVu Sans', sans-serif">up-regulated</text>
<circle cx="432.6" cy="71.6" r="0.85" fill="#7f7f7f"/>
<text x="439" y="72.9" font-size="3.62" fill="#111" font-family="'DejaVu Sans', sans-serif">none-significant</text>
<circle cx="432.6" cy="76.7" r="0.85" fill="#0000ff"/>
<text x="439" y="78" font-size="3.62" fill="#111" font-family="'DejaVu Sans', sans-serif">down-regulated</text>
<text x="62.9" y="161.9" font-size="8" text-anchor="middle" fill="#111" xml:space="preserve">300  mg/kg VS Con</text>
<text x="206.3" y="161.9" font-size="8" text-anchor="middle" fill="#111" xml:space="preserve">600  mg/kg VS Con</text>
<text x="355.8" y="161.9" font-size="8" text-anchor="middle" fill="#111" xml:space="preserve">1200  mg/kg VS Con</text>
<rect x="525.3" y="82.99" width="9" height="37.01" fill="#ff2a00"/>
<rect x="538.8" y="50.15" width="9.2" height="69.85" fill="#0636ff"/>
<text x="529.8" y="82.29" font-size="5.3" text-anchor="middle" fill="#111">62</text>
<text x="543.4" y="49.45" font-size="5.3" text-anchor="middle" fill="#111">117</text>
<rect x="561.4" y="72.24" width="9" height="47.76" fill="#ff2a00"/>
<rect x="574.9" y="57.91" width="9.2" height="62.09" fill="#0636ff"/>
<text x="565.9" y="71.54" font-size="5.3" text-anchor="middle" fill="#111">80</text>
<text x="579.5" y="57.21" font-size="5.3" text-anchor="middle" fill="#111">104</text>
<rect x="597.4" y="76.42" width="9" height="43.58" fill="#ff2a00"/>
<rect x="610.9" y="58.51" width="9.2" height="61.49" fill="#0636ff"/>
<text x="601.9" y="75.72" font-size="5.3" text-anchor="middle" fill="#111">73</text>
<text x="615.5" y="57.81" font-size="5.3" text-anchor="middle" fill="#111">103</text>
<line x1="521.1" y1="30" x2="521.1" y2="120.6" stroke="#444" stroke-width="1.25"/>
<line x1="520.5" y1="120" x2="624.8" y2="120" stroke="#444" stroke-width="1.25"/>
<line x1="517" y1="120" x2="521.1" y2="120" stroke="#222" stroke-width="0.9"/>
<text x="515.7" y="122.5" font-size="7.1" text-anchor="end" fill="#111" stroke="#111" stroke-width="0.15">0</text>
<line x1="517" y1="90.15" x2="521.1" y2="90.15" stroke="#222" stroke-width="0.9"/>
<text x="515.7" y="92.65" font-size="7.1" text-anchor="end" fill="#111" stroke="#111" stroke-width="0.15">50</text>
<line x1="517" y1="60.3" x2="521.1" y2="60.3" stroke="#222" stroke-width="0.9"/>
<text x="515.7" y="62.8" font-size="7.1" text-anchor="end" fill="#111" stroke="#111" stroke-width="0.15">100</text>
<line x1="517" y1="30.45" x2="521.1" y2="30.45" stroke="#222" stroke-width="0.9"/>
<text x="515.7" y="32.95" font-size="7.1" text-anchor="end" fill="#111" stroke="#111" stroke-width="0.15">150</text>
<line x1="536.5" y1="120" x2="536.5" y2="123.7" stroke="#222" stroke-width="0.9"/>
<line x1="572.6" y1="120" x2="572.6" y2="123.7" stroke="#222" stroke-width="0.9"/>
<line x1="608.6" y1="120" x2="608.6" y2="123.7" stroke="#222" stroke-width="0.9"/>
<text x="541.3" y="129.4" font-size="5.95" text-anchor="end" fill="#111" transform="rotate(-40 541.3 129.4)" xml:space="preserve" stroke="#111" stroke-width="0.12">300 mg/kg VS Con</text>
<text x="577.4" y="129.4" font-size="5.95" text-anchor="end" fill="#111" transform="rotate(-40 577.4 129.4)" xml:space="preserve" stroke="#111" stroke-width="0.12">600 mg/kg VS Con</text>
<text x="613.4" y="129.4" font-size="5.95" text-anchor="end" fill="#111" transform="rotate(-40 613.4 129.4)" xml:space="preserve" stroke="#111" stroke-width="0.12">1200 mg/kg VS Con</text>
<text x="494" y="74.5" font-size="7.1" text-anchor="middle" fill="#111" transform="rotate(-90 494 74.5)" stroke="#111" stroke-width="0.12">Number of Proteins</text>
<rect x="629.7" y="45.1" width="8.5" height="4.7" fill="#ff2a00"/>
<rect x="629.7" y="54.7" width="8.5" height="4.7" fill="#0636ff"/>
<text x="642.9" y="49.9" font-size="6.1" fill="#111" stroke="#111" stroke-width="0.12">up regulated</text>
<text x="642.9" y="59.5" font-size="6.1" fill="#111" stroke="#111" stroke-width="0.12">down regulated</text>
<rect x="65.74" y="267.6" width="2.16" height="0.5" fill="#fbd3d3"/>
<rect x="67.9" y="267.6" width="2.16" height="0.5" fill="#cfe6dc"/>
<rect x="70.06" y="267.6" width="2.16" height="0.5" fill="#fbd3d3"/>
<rect x="72.22" y="267.6" width="2.16" height="0.5" fill="#cfe6dc"/>
<rect x="74.38" y="267.6" width="2.16" height="0.5" fill="#fbd3d3"/>
<rect x="76.54" y="267.6" width="2.16" height="0.5" fill="#cfe6dc"/>
<rect x="78.7" y="267.6" width="2.16" height="0.5" fill="#fbd3d3"/>
<rect x="80.86" y="267.6" width="2.16" height="0.5" fill="#cfe6dc"/>
<rect x="83.02" y="267.6" width="2.16" height="0.5" fill="#fbd3d3"/>
<rect x="85.18" y="267.6" width="2.16" height="0.5" fill="#cfe6dc"/>
<rect x="87.34" y="267.6" width="2.16" height="0.5" fill="#fbd3d3"/>
<rect x="89.5" y="267.6" width="2.16" height="0.5" fill="#cfe6dc"/>
<rect x="91.66" y="267.6" width="2.16" height="0.5" fill="#fbd3d3"/>
<rect x="93.82" y="267.6" width="2.16" height="0.5" fill="#cfe6dc"/>
<rect x="95.98" y="267.6" width="2.16" height="0.5" fill="#fbd3d3"/>
<rect x="98.14" y="267.6" width="2.16" height="0.5" fill="#cfe6dc"/>
<rect x="100.3" y="267.6" width="2.16" height="0.5" fill="#fbd3d3"/>
<rect x="102.46" y="267.6" width="2.16" height="0.5" fill="#cfe6dc"/>
<rect x="104.62" y="267.6" width="2.16" height="0.5" fill="#fbd3d3"/>
<rect x="106.78" y="267.6" width="2.16" height="0.5" fill="#cfe6dc"/>
<rect x="108.94" y="267.6" width="2.16" height="0.5" fill="#fbd3d3"/>
<rect x="111.1" y="267.6" width="2.16" height="0.5" fill="#cfe6dc"/>
<rect x="113.26" y="267.6" width="2.16" height="0.5" fill="#fbd3d3"/>
<rect x="115.42" y="267.6" width="2.16" height="0.5" fill="#cfe6dc"/>
<rect x="117.58" y="267.6" width="2.16" height="0.5" fill="#fbd3d3"/>
<rect x="119.74" y="267.6" width="2.16" height="0.5" fill="#cfe6dc"/>
<rect x="121.9" y="267.6" width="2.16" height="0.5" fill="#fbd3d3"/>
<rect x="124.06" y="267.6" width="2.16" height="0.5" fill="#cfe6dc"/>
<rect x="126.22" y="267.6" width="2.16" height="0.5" fill="#fbd3d3"/>
<rect x="128.38" y="267.6" width="2.16" height="0.5" fill="#cfe6dc"/>
<rect x="130.54" y="267.6" width="2.16" height="0.5" fill="#fbd3d3"/>
<rect x="132.7" y="267.6" width="2.16" height="0.5" fill="#cfe6dc"/>
<rect x="134.86" y="267.6" width="2.16" height="0.5" fill="#fbd3d3"/>
<rect x="137.02" y="267.6" width="2.16" height="0.5" fill="#cfe6dc"/>
<rect x="139.18" y="267.6" width="2.16" height="0.5" fill="#fbd3d3"/>
<rect x="141.34" y="267.6" width="2.16" height="0.5" fill="#cfe6dc"/>
<rect x="143.5" y="267.6" width="2.16" height="0.5" fill="#fbd3d3"/>
<rect x="145.66" y="267.6" width="2.16" height="0.5" fill="#cfe6dc"/>
<rect x="147.82" y="267.6" width="2.16" height="0.5" fill="#fbd3d3"/>
<rect x="149.98" y="267.6" width="2.16" height="0.5" fill="#cfe6dc"/>
<rect x="152.14" y="267.6" width="2.16" height="0.5" fill="#fbd3d3"/>
<rect x="154.3" y="267.6" width="2.16" height="0.5" fill="#cfe6dc"/>
<rect x="156.46" y="267.6" width="2.16" height="0.5" fill="#fbd3d3"/>
<rect x="158.62" y="267.6" width="2.16" height="0.5" fill="#cfe6dc"/>
<rect x="160.78" y="267.6" width="2.16" height="0.5" fill="#fbd3d3"/>
<rect x="162.94" y="267.6" width="2.16" height="0.5" fill="#cfe6dc"/>
<rect x="165.1" y="267.6" width="2.16" height="0.5" fill="#fbd3d3"/>
<rect x="167.26" y="267.6" width="2.16" height="0.5" fill="#cfe6dc"/>
<rect x="169.42" y="267.6" width="2.16" height="0.5" fill="#fbd3d3"/>
<rect x="171.58" y="267.6" width="2.16" height="0.5" fill="#cfe6dc"/>
<rect x="173.74" y="267.6" width="2.16" height="0.5" fill="#fbd3d3"/>
<rect x="175.9" y="267.6" width="2.16" height="0.5" fill="#cfe6dc"/>
<rect x="178.06" y="267.6" width="2.16" height="0.5" fill="#fbd3d3"/>
<rect x="180.22" y="267.6" width="2.16" height="0.5" fill="#cfe6dc"/>
<rect x="182.38" y="267.6" width="2.16" height="0.5" fill="#fbd3d3"/>
<rect x="184.54" y="267.6" width="2.16" height="0.5" fill="#cfe6dc"/>
<rect x="186.7" y="267.6" width="2.16" height="0.5" fill="#fbd3d3"/>
<rect x="188.86" y="267.6" width="2.16" height="0.5" fill="#cfe6dc"/>
<rect x="191.02" y="267.6" width="2.16" height="0.5" fill="#fbd3d3"/>
<rect x="193.18" y="267.6" width="2.16" height="0.5" fill="#cfe6dc"/>
<rect x="195.34" y="267.6" width="2.16" height="0.5" fill="#fbd3d3"/>
<rect x="197.5" y="267.6" width="2.16" height="0.5" fill="#cfe6dc"/>
<rect x="199.66" y="267.6" width="2.16" height="0.5" fill="#fbd3d3"/>
<rect x="201.82" y="267.6" width="2.16" height="0.5" fill="#cfe6dc"/>
<rect x="203.98" y="267.6" width="2.16" height="0.5" fill="#fbd3d3"/>
<rect x="206.14" y="267.6" width="2.16" height="0.5" fill="#cfe6dc"/>
<rect x="208.3" y="267.6" width="2.16" height="0.5" fill="#fbd3d3"/>
<rect x="210.46" y="267.6" width="2.16" height="0.5" fill="#cfe6dc"/>
<rect x="212.62" y="267.6" width="2.16" height="0.5" fill="#fbd3d3"/>
<rect x="214.78" y="267.6" width="2.16" height="0.5" fill="#cfe6dc"/>
<rect x="216.94" y="267.6" width="2.16" height="0.5" fill="#fbd3d3"/>
<rect x="219.1" y="267.6" width="2.16" height="0.5" fill="#cfe6dc"/>
<rect x="221.26" y="267.6" width="2.16" height="0.5" fill="#fbd3d3"/>
<rect x="223.42" y="267.6" width="2.16" height="0.5" fill="#cfe6dc"/>
<rect x="225.58" y="267.6" width="2.16" height="0.5" fill="#fbd3d3"/>
<rect x="227.74" y="267.6" width="2.16" height="0.5" fill="#cfe6dc"/>
<rect x="229.9" y="267.6" width="2.16" height="0.5" fill="#fbd3d3"/>
<rect x="232.06" y="267.6" width="2.16" height="0.5" fill="#cfe6dc"/>
<rect x="234.22" y="267.6" width="2.16" height="0.5" fill="#fbd3d3"/>
<rect x="236.38" y="267.6" width="2.16" height="0.5" fill="#cfe6dc"/>
<rect x="238.54" y="267.6" width="2.16" height="0.5" fill="#fbd3d3"/>
<rect x="240.7" y="267.6" width="2.16" height="0.5" fill="#cfe6dc"/>
<rect x="242.86" y="267.6" width="2.16" height="0.5" fill="#fbd3d3"/>
<rect x="245.02" y="267.6" width="2.16" height="0.5" fill="#cfe6dc"/>
<rect x="247.18" y="267.6" width="2.16" height="0.5" fill="#fbd3d3"/>
<rect x="249.34" y="267.6" width="2.16" height="0.5" fill="#cfe6dc"/>
<rect x="251.5" y="267.6" width="2.16" height="0.5" fill="#fbd3d3"/>
<rect x="253.66" y="267.6" width="2.16" height="0.5" fill="#cfe6dc"/>
<rect x="255.82" y="267.6" width="2.16" height="0.5" fill="#fbd3d3"/>
<rect x="257.98" y="267.6" width="2.16" height="0.5" fill="#cfe6dc"/>
<rect x="260.14" y="267.6" width="2.16" height="0.5" fill="#fbd3d3"/>
<rect x="262.3" y="267.6" width="2.16" height="0.5" fill="#cfe6dc"/>
<rect x="264.46" y="267.6" width="2.16" height="0.5" fill="#fbd3d3"/>
<rect x="266.62" y="267.6" width="2.16" height="0.5" fill="#cfe6dc"/>
<rect x="268.78" y="267.6" width="2.16" height="0.5" fill="#fbd3d3"/>
<rect x="270.94" y="267.6" width="2.16" height="0.5" fill="#cfe6dc"/>
<rect x="273.1" y="267.6" width="2.16" height="0.5" fill="#fbd3d3"/>
<rect x="275.26" y="267.6" width="2.16" height="0.5" fill="#cfe6dc"/>
<rect x="277.42" y="267.6" width="2.16" height="0.5" fill="#fbd3d3"/>
<rect x="279.58" y="267.6" width="2.16" height="0.5" fill="#cfe6dc"/>
<rect x="281.74" y="267.6" width="2.16" height="0.5" fill="#fbd3d3"/>
<rect x="283.9" y="267.6" width="2.16" height="0.5" fill="#cfe6dc"/>
<rect x="286.06" y="267.6" width="2.16" height="0.5" fill="#fbd3d3"/>
<rect x="288.22" y="267.6" width="2.16" height="0.5" fill="#cfe6dc"/>
<rect x="290.38" y="267.6" width="2.16" height="0.5" fill="#fbd3d3"/>
<rect x="292.54" y="267.6" width="2.16" height="0.5" fill="#cfe6dc"/>
<rect x="294.7" y="267.6" width="2.16" height="0.5" fill="#fbd3d3"/>
<rect x="296.86" y="267.6" width="2.16" height="0.5" fill="#cfe6dc"/>
<rect x="299.02" y="267.6" width="2.16" height="0.5" fill="#fbd3d3"/>
<rect x="301.18" y="267.6" width="2.16" height="0.5" fill="#cfe6dc"/>
<rect x="303.34" y="267.6" width="2.16" height="0.5" fill="#fbd3d3"/>
<rect x="305.5" y="267.6" width="2.16" height="0.5" fill="#cfe6dc"/>
<rect x="307.66" y="267.6" width="2.16" height="0.5" fill="#fbd3d3"/>
<rect x="309.82" y="267.6" width="2.16" height="0.5" fill="#cfe6dc"/>
<rect x="311.98" y="267.6" width="2.16" height="0.5" fill="#fbd3d3"/>
<rect x="314.14" y="267.6" width="2.16" height="0.5" fill="#cfe6dc"/>
<rect x="316.3" y="267.6" width="2.16" height="0.5" fill="#fbd3d3"/>
<rect x="318.46" y="267.6" width="2.16" height="0.5" fill="#cfe6dc"/>
<rect x="320.62" y="267.6" width="2.16" height="0.5" fill="#fbd3d3"/>
<rect x="322.78" y="267.6" width="2.16" height="0.5" fill="#cfe6dc"/>
<rect x="324.94" y="267.6" width="2.16" height="0.5" fill="#fbd3d3"/>
<rect x="327.1" y="267.6" width="2.16" height="0.5" fill="#cfe6dc"/>
<rect x="329.26" y="267.6" width="2.16" height="0.5" fill="#fbd3d3"/>
<rect x="331.42" y="267.6" width="2.16" height="0.5" fill="#cfe6dc"/>
<rect x="333.58" y="267.6" width="2.16" height="0.5" fill="#fbd3d3"/>
<rect x="335.74" y="267.6" width="2.16" height="0.5" fill="#cfe6dc"/>
<rect x="337.9" y="267.6" width="2.16" height="0.5" fill="#fbd3d3"/>
<rect x="340.06" y="267.6" width="2.16" height="0.5" fill="#cfe6dc"/>
<rect x="70.06" y="209" width="2.16" height="59.1" fill="#f8696b"/>
<rect x="74.38" y="236.3" width="2.16" height="31.8" fill="#f8696b"/>
<rect x="83.02" y="196.7" width="2.16" height="71.4" fill="#f8696b"/>
<rect x="100.3" y="214.1" width="2.16" height="54" fill="#f8696b"/>
<rect x="104.62" y="206.4" width="2.16" height="61.7" fill="#f8696b"/>
<rect x="108.94" y="236.7" width="2.16" height="31.4" fill="#f8696b"/>
<rect x="113.26" y="193.3" width="2.16" height="74.8" fill="#f8696b"/>
<rect x="117.58" y="221" width="2.16" height="47.1" fill="#f8696b"/>
<rect x="121.9" y="201.9" width="2.16" height="66.2" fill="#f8696b"/>
<rect x="126.22" y="228.8" width="2.16" height="39.3" fill="#f8696b"/>
<rect x="130.54" y="228.8" width="2.16" height="39.3" fill="#f8696b"/>
<rect x="134.86" y="220.7" width="2.16" height="47.4" fill="#f8696b"/>
<rect x="139.18" y="220.7" width="2.16" height="47.4" fill="#f8696b"/>
<rect x="147.82" y="205.4" width="2.16" height="62.7" fill="#f8696b"/>
<rect x="152.14" y="228.8" width="2.16" height="39.3" fill="#f8696b"/>
<rect x="165.1" y="191" width="2.16" height="77.1" fill="#f8696b"/>
<rect x="169.42" y="228.8" width="2.16" height="39.3" fill="#f8696b"/>
<rect x="186.7" y="201.9" width="2.16" height="66.2" fill="#f8696b"/>
<rect x="195.34" y="218" width="2.16" height="50.1" fill="#f8696b"/>
<rect x="199.66" y="207.1" width="2.16" height="61" fill="#f8696b"/>
<rect x="255.82" y="193.6" width="2.16" height="74.5" fill="#f8696b"/>
<rect x="260.14" y="196.2" width="2.16" height="71.9" fill="#f8696b"/>
<rect x="286.06" y="220.8" width="2.16" height="47.3" fill="#f8696b"/>
<rect x="294.7" y="228.7" width="2.16" height="39.4" fill="#f8696b"/>
<rect x="329.26" y="224" width="2.16" height="44.1" fill="#f8696b"/>
<rect x="337.9" y="224" width="2.16" height="44.1" fill="#f8696b"/>
<rect x="67.9" y="221.1" width="2.16" height="47" fill="#1d7f5f"/>
<rect x="72.22" y="218.2" width="2.16" height="49.9" fill="#1d7f5f"/>
<rect x="80.86" y="243.1" width="2.16" height="25" fill="#1d7f5f"/>
<rect x="85.18" y="195.6" width="2.16" height="72.5" fill="#1d7f5f"/>
<rect x="89.5" y="230.7" width="2.16" height="37.4" fill="#1d7f5f"/>
<rect x="98.14" y="235.2" width="2.16" height="32.9" fill="#1d7f5f"/>
<rect x="102.46" y="215" width="2.16" height="53.1" fill="#1d7f5f"/>
<rect x="106.78" y="205" width="2.16" height="63.1" fill="#1d7f5f"/>
<rect x="111.1" y="235.2" width="2.16" height="32.9" fill="#1d7f5f"/>
<rect x="115.42" y="194.3" width="2.16" height="73.8" fill="#1d7f5f"/>
<rect x="119.74" y="243.1" width="2.16" height="25" fill="#1d7f5f"/>
<rect x="124.06" y="203.9" width="2.16" height="64.2" fill="#1d7f5f"/>
<rect x="128.38" y="225" width="2.16" height="43.1" fill="#1d7f5f"/>
<rect x="132.7" y="225" width="2.16" height="43.1" fill="#1d7f5f"/>
<rect x="137.02" y="231" width="2.16" height="37.1" fill="#1d7f5f"/>
<rect x="141.34" y="225" width="2.16" height="43.1" fill="#1d7f5f"/>
<rect x="149.98" y="207" width="2.16" height="61.1" fill="#1d7f5f"/>
<rect x="167.26" y="191" width="2.16" height="77.1" fill="#1d7f5f"/>
<rect x="171.58" y="222.9" width="2.16" height="45.2" fill="#1d7f5f"/>
<rect x="188.86" y="208" width="2.16" height="60.1" fill="#1d7f5f"/>
<rect x="197.5" y="225" width="2.16" height="43.1" fill="#1d7f5f"/>
<rect x="201.82" y="207.7" width="2.16" height="60.4" fill="#1d7f5f"/>
<rect x="223.42" y="243.1" width="2.16" height="25" fill="#1d7f5f"/>
<rect x="257.98" y="195" width="2.16" height="73.1" fill="#1d7f5f"/>
<rect x="262.3" y="201" width="2.16" height="67.1" fill="#1d7f5f"/>
<rect x="288.22" y="227.4" width="2.16" height="40.7" fill="#1d7f5f"/>
<rect x="296.86" y="227.4" width="2.16" height="40.7" fill="#1d7f5f"/>
<rect x="331.42" y="235.2" width="2.16" height="32.9" fill="#1d7f5f"/>
<rect x="340.06" y="221" width="2.16" height="47.1" fill="#1d7f5f"/>
<line x1="54.6" y1="189.4" x2="54.6" y2="268.1" stroke="#b0b0b0" stroke-width="0.45"/>
<line x1="53.4" y1="189.4" x2="54.6" y2="189.4" stroke="#888" stroke-width="0.45"/>
<text x="52.6" y="190.7" font-size="3.9" text-anchor="end" fill="#111" stroke="#111" stroke-width="0.1">100</text>
<line x1="53.4" y1="215.63" x2="54.6" y2="215.63" stroke="#888" stroke-width="0.45"/>
<text x="52.6" y="216.93" font-size="3.9" text-anchor="end" fill="#111" stroke="#111" stroke-width="0.1">10</text>
<line x1="53.4" y1="241.87" x2="54.6" y2="241.87" stroke="#888" stroke-width="0.45"/>
<text x="52.6" y="243.17" font-size="3.9" text-anchor="end" fill="#111" stroke="#111" stroke-width="0.1">1</text>
<line x1="53.4" y1="268.1" x2="54.6" y2="268.1" stroke="#888" stroke-width="0.45"/>
<text x="52.6" y="269.4" font-size="3.9" text-anchor="end" fill="#111" stroke="#111" stroke-width="0.1">0.1</text>
<text x="43.8" y="228.75" font-size="4.1" text-anchor="middle" fill="#111" transform="rotate(-90 43.8 228.75)" stroke="#111" stroke-width="0.08">percentage of proteins</text>
<line x1="353.2" y1="189.4" x2="353.2" y2="268.1" stroke="#a0a0a0" stroke-width="0.45"/>
<line x1="353.2" y1="189.4" x2="354.4" y2="189.4" stroke="#777" stroke-width="0.45"/>
<text x="354.7" y="190.7" font-size="3.9" fill="#f25a5a" stroke="#f25a5a" stroke-width="0.05">61</text>
<text x="354.7" y="195.7" font-size="3.9" fill="#23896a" stroke="#23896a" stroke-width="0.05">111</text>
<line x1="353.2" y1="215.63" x2="354.4" y2="215.63" stroke="#777" stroke-width="0.45"/>
<text x="354.7" y="216.93" font-size="3.9" fill="#f25a5a" stroke="#f25a5a" stroke-width="0.05">6</text>
<text x="354.7" y="221.93" font-size="3.9" fill="#23896a" stroke="#23896a" stroke-width="0.05">11</text>
<line x1="353.2" y1="241.87" x2="354.4" y2="241.87" stroke="#777" stroke-width="0.45"/>
<text x="354.7" y="243.17" font-size="3.9" fill="#f25a5a" stroke="#f25a5a" stroke-width="0.05">0</text>
<text x="354.7" y="248.17" font-size="3.9" fill="#23896a" stroke="#23896a" stroke-width="0.05">1</text>
<line x1="353.2" y1="268.1" x2="354.4" y2="268.1" stroke="#777" stroke-width="0.45"/>
<text x="354.7" y="269.4" font-size="3.9" fill="#f25a5a" stroke="#f25a5a" stroke-width="0.05">0</text>
<text x="354.7" y="274.4" font-size="3.9" fill="#23896a" stroke="#23896a" stroke-width="0.05">0</text>
<text x="367.5" y="228.75" font-size="4.3" text-anchor="middle" fill="#111" transform="rotate(90 367.5 228.75)" stroke="#111" stroke-width="0.1">protein number</text>
<rect x="333.6" y="194.6" width="3" height="2.6" fill="#f8696b"/>
<rect x="333.6" y="199.5" width="3" height="2.6" fill="#1d7f5f"/>
<text x="339.7" y="197.3" font-size="3.9" fill="#111" stroke="#111" stroke-width="0.08">Up</text>
<text x="339.7" y="202.2" font-size="3.9" fill="#111" stroke="#111" stroke-width="0.08">Down</text>
<text x="68.95" y="270.6" font-size="3.05" text-anchor="end" transform="rotate(-90 68.95 270.6)" stroke="#000" stroke-width="0.2">biological adhesion</text>
<text x="73.27" y="270.6" font-size="3.05" text-anchor="end" transform="rotate(-90 73.27 270.6)" stroke="#000" stroke-width="0.2">biological regulation</text>
<text x="77.59" y="270.6" font-size="3.05" text-anchor="end" transform="rotate(-90 77.59 270.6)" stroke="#000" stroke-width="0.2">cell killing</text>
<text x="81.91" y="270.6" font-size="3.05" text-anchor="end" transform="rotate(-90 81.91 270.6)" stroke="#000" stroke-width="0.2">cellular component organization or biogenesis</text>
<text x="86.23" y="270.6" font-size="3.05" text-anchor="end" transform="rotate(-90 86.23 270.6)" stroke="#000" stroke-width="0.2">cellular process</text>
<text x="90.55" y="270.6" font-size="3.05" text-anchor="end" transform="rotate(-90 90.55 270.6)" stroke="#000" stroke-width="0.2">developmental process</text>
<text x="94.87" y="270.6" font-size="3.05" text-anchor="end" transform="rotate(-90 94.87 270.6)" stroke="#000" stroke-width="0.2">establishment of localization</text>
<text x="99.19" y="270.6" font-size="3.05" text-anchor="end" transform="rotate(-90 99.19 270.6)" stroke="#000" stroke-width="0.2">growth</text>
<text x="103.51" y="270.6" font-size="3.05" text-anchor="end" transform="rotate(-90 103.51 270.6)" stroke="#000" stroke-width="0.2">immune system process</text>
<text x="107.83" y="270.6" font-size="3.05" text-anchor="end" transform="rotate(-90 107.83 270.6)" stroke="#000" stroke-width="0.2">localization</text>
<text x="112.15" y="270.6" font-size="3.05" text-anchor="end" transform="rotate(-90 112.15 270.6)" stroke="#000" stroke-width="0.2">locomotion</text>
<text x="116.47" y="270.6" font-size="3.05" text-anchor="end" transform="rotate(-90 116.47 270.6)" stroke="#000" stroke-width="0.2">metabolic process</text>
<text x="120.79" y="270.6" font-size="3.05" text-anchor="end" transform="rotate(-90 120.79 270.6)" stroke="#000" stroke-width="0.2">multi-organism process</text>
<text x="125.11" y="270.6" font-size="3.05" text-anchor="end" transform="rotate(-90 125.11 270.6)" stroke="#000" stroke-width="0.2">multicellular organismal process</text>
<text x="129.43" y="270.6" font-size="3.05" text-anchor="end" transform="rotate(-90 129.43 270.6)" stroke="#000" stroke-width="0.2">negative regulation of biological process</text>
<text x="133.75" y="270.6" font-size="3.05" text-anchor="end" transform="rotate(-90 133.75 270.6)" stroke="#000" stroke-width="0.2">positive regulation of biological process</text>
<text x="138.07" y="270.6" font-size="3.05" text-anchor="end" transform="rotate(-90 138.07 270.6)" stroke="#000" stroke-width="0.2">regulation of biological process</text>
<text x="142.39" y="270.6" font-size="3.05" text-anchor="end" transform="rotate(-90 142.39 270.6)" stroke="#000" stroke-width="0.2">reproduction</text>
<text x="146.71" y="270.6" font-size="3.05" text-anchor="end" transform="rotate(-90 146.71 270.6)" stroke="#000" stroke-width="0.2">reproductive process</text>
<text x="151.03" y="270.6" font-size="3.05" text-anchor="end" transform="rotate(-90 151.03 270.6)" stroke="#000" stroke-width="0.2">response to stimulus</text>
<text x="155.35" y="270.6" font-size="3.05" text-anchor="end" transform="rotate(-90 155.35 270.6)" stroke="#000" stroke-width="0.2">rhythmic process</text>
<text x="159.67" y="270.6" font-size="3.05" text-anchor="end" transform="rotate(-90 159.67 270.6)" stroke="#000" stroke-width="0.2">signaling</text>
<text x="163.99" y="270.6" font-size="3.05" text-anchor="end" transform="rotate(-90 163.99 270.6)" stroke="#000" stroke-width="0.2">single-organism process</text>
<text x="168.31" y="270.6" font-size="3.05" text-anchor="end" transform="rotate(-90 168.31 270.6)" stroke="#000" stroke-width="0.2">cell</text>
<text x="172.63" y="270.6" font-size="3.05" text-anchor="end" transform="rotate(-90 172.63 270.6)" stroke="#000" stroke-width="0.2">cell junction</text>
<text x="176.95" y="270.6" font-size="3.05" text-anchor="end" transform="rotate(-90 176.95 270.6)" stroke="#000" stroke-width="0.2">cell part</text>
<text x="181.27" y="270.6" font-size="3.05" text-anchor="end" transform="rotate(-90 181.27 270.6)" stroke="#000" stroke-width="0.2">extracellular matrix</text>
<text x="185.59" y="270.6" font-size="3.05" text-anchor="end" transform="rotate(-90 185.59 270.6)" stroke="#000" stroke-width="0.2">extracellular matrix part</text>
<text x="189.91" y="270.6" font-size="3.05" text-anchor="end" transform="rotate(-90 189.91 270.6)" stroke="#000" stroke-width="0.2">extracellular region</text>
<text x="194.23" y="270.6" font-size="3.05" text-anchor="end" transform="rotate(-90 194.23 270.6)" stroke="#000" stroke-width="0.2">extracellular region part</text>
<text x="198.55" y="270.6" font-size="3.05" text-anchor="end" transform="rotate(-90 198.55 270.6)" stroke="#000" stroke-width="0.2">macromolecular complex</text>
<text x="202.87" y="270.6" font-size="3.05" text-anchor="end" transform="rotate(-90 202.87 270.6)" stroke="#000" stroke-width="0.2">membrane</text>
<text x="207.19" y="270.6" font-size="3.05" text-anchor="end" transform="rotate(-90 207.19 270.6)" stroke="#000" stroke-width="0.2">membrane part</text>
<text x="211.51" y="270.6" font-size="3.05" text-anchor="end" transform="rotate(-90 211.51 270.6)" stroke="#000" stroke-width="0.2">membrane-enclosed lumen</text>
<text x="215.83" y="270.6" font-size="3.05" text-anchor="end" transform="rotate(-90 215.83 270.6)" stroke="#000" stroke-width="0.2">mitochondrion-associated adherens complex</text>
<text x="220.15" y="270.6" font-size="3.05" text-anchor="end" transform="rotate(-90 220.15 270.6)" stroke="#000" stroke-width="0.2">nucleoid</text>
<text x="224.47" y="270.6" font-size="3.05" text-anchor="end" transform="rotate(-90 224.47 270.6)" stroke="#000" stroke-width="0.2">organelle</text>
<text x="228.79" y="270.6" font-size="3.05" text-anchor="end" transform="rotate(-90 228.79 270.6)" stroke="#000" stroke-width="0.2">organelle part</text>
<text x="233.11" y="270.6" font-size="3.05" text-anchor="end" transform="rotate(-90 233.11 270.6)" stroke="#000" stroke-width="0.2">symplast</text>
<text x="237.43" y="270.6" font-size="3.05" text-anchor="end" transform="rotate(-90 237.43 270.6)" stroke="#000" stroke-width="0.2">synapse</text>
<text x="241.75" y="270.6" font-size="3.05" text-anchor="end" transform="rotate(-90 241.75 270.6)" stroke="#000" stroke-width="0.2">synapse part</text>
<text x="246.07" y="270.6" font-size="3.05" text-anchor="end" transform="rotate(-90 246.07 270.6)" stroke="#000" stroke-width="0.2">virion</text>
<text x="250.39" y="270.6" font-size="3.05" text-anchor="end" transform="rotate(-90 250.39 270.6)" stroke="#000" stroke-width="0.2">virion part</text>
<text x="254.71" y="270.6" font-size="3.05" text-anchor="end" transform="rotate(-90 254.71 270.6)" stroke="#000" stroke-width="0.2">antioxidant activity</text>
<text x="259.03" y="270.6" font-size="3.05" text-anchor="end" transform="rotate(-90 259.03 270.6)" stroke="#000" stroke-width="0.2">binding</text>
<text x="263.35" y="270.6" font-size="3.05" text-anchor="end" transform="rotate(-90 263.35 270.6)" stroke="#000" stroke-width="0.2">catalytic activity</text>
<text x="267.67" y="270.6" font-size="3.05" text-anchor="end" transform="rotate(-90 267.67 270.6)" stroke="#000" stroke-width="0.2">channel regulator activity</text>
<text x="271.99" y="270.6" font-size="3.05" text-anchor="end" transform="rotate(-90 271.99 270.6)" stroke="#000" stroke-width="0.2">chemoattractant activity</text>
<text x="276.31" y="270.6" font-size="3.05" text-anchor="end" transform="rotate(-90 276.31 270.6)" stroke="#000" stroke-width="0.2">chemorepellent activity</text>
<text x="280.63" y="270.6" font-size="3.05" text-anchor="end" transform="rotate(-90 280.63 270.6)" stroke="#000" stroke-width="0.2">electron carrier activity</text>
<text x="284.95" y="270.6" font-size="3.05" text-anchor="end" transform="rotate(-90 284.95 270.6)" stroke="#000" stroke-width="0.2">enzyme regulator activity</text>
<text x="289.27" y="270.6" font-size="3.05" text-anchor="end" transform="rotate(-90 289.27 270.6)" stroke="#000" stroke-width="0.2">metallochaperone activity</text>
<text x="293.59" y="270.6" font-size="3.05" text-anchor="end" transform="rotate(-90 293.59 270.6)" stroke="#000" stroke-width="0.2">molecular function regulator</text>
<text x="297.91" y="270.6" font-size="3.05" text-anchor="end" transform="rotate(-90 297.91 270.6)" stroke="#000" stroke-width="0.2">molecular transducer activity</text>
<text x="302.23" y="270.6" font-size="3.05" text-anchor="end" transform="rotate(-90 302.23 270.6)" stroke="#000" stroke-width="0.2">morphogen activity</text>
<text x="306.55" y="270.6" font-size="3.05" text-anchor="end" transform="rotate(-90 306.55 270.6)" stroke="#000" stroke-width="0.2">nucleic acid binding transcription factor activity</text>
<text x="310.87" y="270.6" font-size="3.05" text-anchor="end" transform="rotate(-90 310.87 270.6)" stroke="#000" stroke-width="0.2">nutrient reservoir activity</text>
<text x="315.19" y="270.6" font-size="3.05" text-anchor="end" transform="rotate(-90 315.19 270.6)" stroke="#000" stroke-width="0.2">protein binding transcription factor activity</text>
<text x="319.51" y="270.6" font-size="3.05" text-anchor="end" transform="rotate(-90 319.51 270.6)" stroke="#000" stroke-width="0.2">protein tag</text>
<text x="323.83" y="270.6" font-size="3.05" text-anchor="end" transform="rotate(-90 323.83 270.6)" stroke="#000" stroke-width="0.2">receptor activity</text>
<text x="328.15" y="270.6" font-size="3.05" text-anchor="end" transform="rotate(-90 328.15 270.6)" stroke="#000" stroke-width="0.2">signal transducer activity</text>
<text x="332.47" y="270.6" font-size="3.05" text-anchor="end" transform="rotate(-90 332.47 270.6)" stroke="#000" stroke-width="0.2">structural molecule activity</text>
<text x="336.79" y="270.6" font-size="3.05" text-anchor="end" transform="rotate(-90 336.79 270.6)" stroke="#000" stroke-width="0.2">translation regulator activity</text>
<text x="341.11" y="270.6" font-size="3.05" text-anchor="end" transform="rotate(-90 341.11 270.6)" stroke="#000" stroke-width="0.2">transporter activity</text>
<path d="M68.4 297.35V335.5H163.44V304.46" fill="none" stroke="#86cc86" stroke-width="0.65" stroke-linejoin="miter"/>
<text x="115.92" y="340.8" font-size="4.95" text-anchor="middle" fill="#66bb66" stroke="#66bb66" stroke-width="0.08">Biological Process</text>
<path d="M167.76 275.98V335.5H249.84V284.79" fill="none" stroke="#79a7dc" stroke-width="0.65" stroke-linejoin="miter"/>
<text x="208.8" y="340.8" font-size="4.95" text-anchor="middle" fill="#4f8ccf" stroke="#4f8ccf" stroke-width="0.08">Cellular Component</text>
<path d="M254.16 302.32V335.5H340.56V296.32" fill="none" stroke="#ee6f6f" stroke-width="0.65" stroke-linejoin="miter"/>
<text x="297.36" y="340.8" font-size="4.95" text-anchor="middle" fill="#e83e3e" stroke="#e83e3e" stroke-width="0.08">Molecular Function</text>
<rect x="65.74" y="446" width="2.16" height="0.5" fill="#fbd3d3"/>
<rect x="67.9" y="446" width="2.16" height="0.5" fill="#cfe6dc"/>
<rect x="70.06" y="446" width="2.16" height="0.5" fill="#fbd3d3"/>
<rect x="72.22" y="446" width="2.16" height="0.5" fill="#cfe6dc"/>
<rect x="74.38" y="446" width="2.16" height="0.5" fill="#fbd3d3"/>
<rect x="76.54" y="446" width="2.16" height="0.5" fill="#cfe6dc"/>
<rect x="78.7" y="446" width="2.16" height="0.5" fill="#fbd3d3"/>
<rect x="80.86" y="446" width="2.16" height="0.5" fill="#cfe6dc"/>
<rect x="83.02" y="446" width="2.16" height="0.5" fill="#fbd3d3"/>
<rect x="85.18" y="446" width="2.16" height="0.5" fill="#cfe6dc"/>
<rect x="87.34" y="446" width="2.16" height="0.5" fill="#fbd3d3"/>
<rect x="89.5" y="446" width="2.16" height="0.5" fill="#cfe6dc"/>
<rect x="91.66" y="446" width="2.16" height="0.5" fill="#fbd3d3"/>
<rect x="93.82" y="446" width="2.16" height="0.5" fill="#cfe6dc"/>
<rect x="95.98" y="446" width="2.16" height="0.5" fill="#fbd3d3"/>
<rect x="98.14" y="446" width="2.16" height="0.5" fill="#cfe6dc"/>
<rect x="100.3" y="446" width="2.16" height="0.5" fill="#fbd3d3"/>
<rect x="102.46" y="446" width="2.16" height="0.5" fill="#cfe6dc"/>
<rect x="104.62" y="446" width="2.16" height="0.5" fill="#fbd3d3"/>
<rect x="106.78" y="446" width="2.16" height="0.5" fill="#cfe6dc"/>
<rect x="108.94" y="446" width="2.16" height="0.5" fill="#fbd3d3"/>
<rect x="111.1" y="446" width="2.16" height="0.5" fill="#cfe6dc"/>
<rect x="113.26" y="446" width="2.16" height="0.5" fill="#fbd3d3"/>
<rect x="115.42" y="446" width="2.16" height="0.5" fill="#cfe6dc"/>
<rect x="117.58" y="446" width="2.16" height="0.5" fill="#fbd3d3"/>
<rect x="119.74" y="446" width="2.16" height="0.5" fill="#cfe6dc"/>
<rect x="121.9" y="446" width="2.16" height="0.5" fill="#fbd3d3"/>
<rect x="124.06" y="446" width="2.16" height="0.5" fill="#cfe6dc"/>
<rect x="126.22" y="446" width="2.16" height="0.5" fill="#fbd3d3"/>
<rect x="128.38" y="446" width="2.16" height="0.5" fill="#cfe6dc"/>
<rect x="130.54" y="446" width="2.16" height="0.5" fill="#fbd3d3"/>
<rect x="132.7" y="446" width="2.16" height="0.5" fill="#cfe6dc"/>
<rect x="134.86" y="446" width="2.16" height="0.5" fill="#fbd3d3"/>
<rect x="137.02" y="446" width="2.16" height="0.5" fill="#cfe6dc"/>
<rect x="139.18" y="446" width="2.16" height="0.5" fill="#fbd3d3"/>
<rect x="141.34" y="446" width="2.16" height="0.5" fill="#cfe6dc"/>
<rect x="143.5" y="446" width="2.16" height="0.5" fill="#fbd3d3"/>
<rect x="145.66" y="446" width="2.16" height="0.5" fill="#cfe6dc"/>
<rect x="147.82" y="446" width="2.16" height="0.5" fill="#fbd3d3"/>
<rect x="149.98" y="446" width="2.16" height="0.5" fill="#cfe6dc"/>
<rect x="152.14" y="446" width="2.16" height="0.5" fill="#fbd3d3"/>
<rect x="154.3" y="446" width="2.16" height="0.5" fill="#cfe6dc"/>
<rect x="156.46" y="446" width="2.16" height="0.5" fill="#fbd3d3"/>
<rect x="158.62" y="446" width="2.16" height="0.5" fill="#cfe6dc"/>
<rect x="160.78" y="446" width="2.16" height="0.5" fill="#fbd3d3"/>
<rect x="162.94" y="446" width="2.16" height="0.5" fill="#cfe6dc"/>
<rect x="165.1" y="446" width="2.16" height="0.5" fill="#fbd3d3"/>
<rect x="167.26" y="446" width="2.16" height="0.5" fill="#cfe6dc"/>
<rect x="169.42" y="446" width="2.16" height="0.5" fill="#fbd3d3"/>
<rect x="171.58" y="446" width="2.16" height="0.5" fill="#cfe6dc"/>
<rect x="173.74" y="446" width="2.16" height="0.5" fill="#fbd3d3"/>
<rect x="175.9" y="446" width="2.16" height="0.5" fill="#cfe6dc"/>
<rect x="178.06" y="446" width="2.16" height="0.5" fill="#fbd3d3"/>
<rect x="180.22" y="446" width="2.16" height="0.5" fill="#cfe6dc"/>
<rect x="182.38" y="446" width="2.16" height="0.5" fill="#fbd3d3"/>
<rect x="184.54" y="446" width="2.16" height="0.5" fill="#cfe6dc"/>
<rect x="186.7" y="446" width="2.16" height="0.5" fill="#fbd3d3"/>
<rect x="188.86" y="446" width="2.16" height="0.5" fill="#cfe6dc"/>
<rect x="191.02" y="446" width="2.16" height="0.5" fill="#fbd3d3"/>
<rect x="193.18" y="446" width="2.16" height="0.5" fill="#cfe6dc"/>
<rect x="195.34" y="446" width="2.16" height="0.5" fill="#fbd3d3"/>
<rect x="197.5" y="446" width="2.16" height="0.5" fill="#cfe6dc"/>
<rect x="199.66" y="446" width="2.16" height="0.5" fill="#fbd3d3"/>
<rect x="201.82" y="446" width="2.16" height="0.5" fill="#cfe6dc"/>
<rect x="203.98" y="446" width="2.16" height="0.5" fill="#fbd3d3"/>
<rect x="206.14" y="446" width="2.16" height="0.5" fill="#cfe6dc"/>
<rect x="208.3" y="446" width="2.16" height="0.5" fill="#fbd3d3"/>
<rect x="210.46" y="446" width="2.16" height="0.5" fill="#cfe6dc"/>
<rect x="212.62" y="446" width="2.16" height="0.5" fill="#fbd3d3"/>
<rect x="214.78" y="446" width="2.16" height="0.5" fill="#cfe6dc"/>
<rect x="216.94" y="446" width="2.16" height="0.5" fill="#fbd3d3"/>
<rect x="219.1" y="446" width="2.16" height="0.5" fill="#cfe6dc"/>
<rect x="221.26" y="446" width="2.16" height="0.5" fill="#fbd3d3"/>
<rect x="223.42" y="446" width="2.16" height="0.5" fill="#cfe6dc"/>
<rect x="225.58" y="446" width="2.16" height="0.5" fill="#fbd3d3"/>
<rect x="227.74" y="446" width="2.16" height="0.5" fill="#cfe6dc"/>
<rect x="229.9" y="446" width="2.16" height="0.5" fill="#fbd3d3"/>
<rect x="232.06" y="446" width="2.16" height="0.5" fill="#cfe6dc"/>
<rect x="234.22" y="446" width="2.16" height="0.5" fill="#fbd3d3"/>
<rect x="236.38" y="446" width="2.16" height="0.5" fill="#cfe6dc"/>
<rect x="238.54" y="446" width="2.16" height="0.5" fill="#fbd3d3"/>
<rect x="240.7" y="446" width="2.16" height="0.5" fill="#cfe6dc"/>
<rect x="242.86" y="446" width="2.16" height="0.5" fill="#fbd3d3"/>
<rect x="245.02" y="446" width="2.16" height="0.5" fill="#cfe6dc"/>
<rect x="247.18" y="446" width="2.16" height="0.5" fill="#fbd3d3"/>
<rect x="249.34" y="446" width="2.16" height="0.5" fill="#cfe6dc"/>
<rect x="251.5" y="446" width="2.16" height="0.5" fill="#fbd3d3"/>
<rect x="253.66" y="446" width="2.16" height="0.5" fill="#cfe6dc"/>
<rect x="255.82" y="446" width="2.16" height="0.5" fill="#fbd3d3"/>
<rect x="257.98" y="446" width="2.16" height="0.5" fill="#cfe6dc"/>
<rect x="260.14" y="446" width="2.16" height="0.5" fill="#fbd3d3"/>
<rect x="262.3" y="446" width="2.16" height="0.5" fill="#cfe6dc"/>
<rect x="264.46" y="446" width="2.16" height="0.5" fill="#fbd3d3"/>
<rect x="266.62" y="446" width="2.16" height="0.5" fill="#cfe6dc"/>
<rect x="268.78" y="446" width="2.16" height="0.5" fill="#fbd3d3"/>
<rect x="270.94" y="446" width="2.16" height="0.5" fill="#cfe6dc"/>
<rect x="273.1" y="446" width="2.16" height="0.5" fill="#fbd3d3"/>
<rect x="275.26" y="446" width="2.16" height="0.5" fill="#cfe6dc"/>
<rect x="277.42" y="446" width="2.16" height="0.5" fill="#fbd3d3"/>
<rect x="279.58" y="446" width="2.16" height="0.5" fill="#cfe6dc"/>
<rect x="281.74" y="446" width="2.16" height="0.5" fill="#fbd3d3"/>
<rect x="283.9" y="446" width="2.16" height="0.5" fill="#cfe6dc"/>
<rect x="286.06" y="446" width="2.16" height="0.5" fill="#fbd3d3"/>
<rect x="288.22" y="446" width="2.16" height="0.5" fill="#cfe6dc"/>
<rect x="290.38" y="446" width="2.16" height="0.5" fill="#fbd3d3"/>
<rect x="292.54" y="446" width="2.16" height="0.5" fill="#cfe6dc"/>
<rect x="294.7" y="446" width="2.16" height="0.5" fill="#fbd3d3"/>
<rect x="296.86" y="446" width="2.16" height="0.5" fill="#cfe6dc"/>
<rect x="299.02" y="446" width="2.16" height="0.5" fill="#fbd3d3"/>
<rect x="301.18" y="446" width="2.16" height="0.5" fill="#cfe6dc"/>
<rect x="303.34" y="446" width="2.16" height="0.5" fill="#fbd3d3"/>
<rect x="305.5" y="446" width="2.16" height="0.5" fill="#cfe6dc"/>
<rect x="307.66" y="446" width="2.16" height="0.5" fill="#fbd3d3"/>
<rect x="309.82" y="446" width="2.16" height="0.5" fill="#cfe6dc"/>
<rect x="311.98" y="446" width="2.16" height="0.5" fill="#fbd3d3"/>
<rect x="314.14" y="446" width="2.16" height="0.5" fill="#cfe6dc"/>
<rect x="316.3" y="446" width="2.16" height="0.5" fill="#fbd3d3"/>
<rect x="318.46" y="446" width="2.16" height="0.5" fill="#cfe6dc"/>
<rect x="320.62" y="446" width="2.16" height="0.5" fill="#fbd3d3"/>
<rect x="322.78" y="446" width="2.16" height="0.5" fill="#cfe6dc"/>
<rect x="324.94" y="446" width="2.16" height="0.5" fill="#fbd3d3"/>
<rect x="327.1" y="446" width="2.16" height="0.5" fill="#cfe6dc"/>
<rect x="329.26" y="446" width="2.16" height="0.5" fill="#fbd3d3"/>
<rect x="331.42" y="446" width="2.16" height="0.5" fill="#cfe6dc"/>
<rect x="333.58" y="446" width="2.16" height="0.5" fill="#fbd3d3"/>
<rect x="335.74" y="446" width="2.16" height="0.5" fill="#cfe6dc"/>
<rect x="337.9" y="446" width="2.16" height="0.5" fill="#fbd3d3"/>
<rect x="340.06" y="446" width="2.16" height="0.5" fill="#cfe6dc"/>
<rect x="70.06" y="390.4" width="2.16" height="56.1" fill="#f8696b"/>
<rect x="74.38" y="417.8" width="2.16" height="28.7" fill="#f8696b"/>
<rect x="83.02" y="374.7" width="2.16" height="71.8" fill="#f8696b"/>
<rect x="87.34" y="410" width="2.16" height="36.5" fill="#f8696b"/>
<rect x="100.3" y="391.6" width="2.16" height="54.9" fill="#f8696b"/>
<rect x="104.62" y="384" width="2.16" height="62.5" fill="#f8696b"/>
<rect x="113.26" y="373.8" width="2.16" height="72.7" fill="#f8696b"/>
<rect x="121.9" y="382" width="2.16" height="64.5" fill="#f8696b"/>
<rect x="126.22" y="402.1" width="2.16" height="44.4" fill="#f8696b"/>
<rect x="130.54" y="405.1" width="2.16" height="41.4" fill="#f8696b"/>
<rect x="134.86" y="417.8" width="2.16" height="28.7" fill="#f8696b"/>
<rect x="139.18" y="399.6" width="2.16" height="46.9" fill="#f8696b"/>
<rect x="147.82" y="386.2" width="2.16" height="60.3" fill="#f8696b"/>
<rect x="152.14" y="417.8" width="2.16" height="28.7" fill="#f8696b"/>
<rect x="165.1" y="370.9" width="2.16" height="75.6" fill="#f8696b"/>
<rect x="169.42" y="410.2" width="2.16" height="36.3" fill="#f8696b"/>
<rect x="186.7" y="379.4" width="2.16" height="67.1" fill="#f8696b"/>
<rect x="195.34" y="394.1" width="2.16" height="52.4" fill="#f8696b"/>
<rect x="199.66" y="387.8" width="2.16" height="58.7" fill="#f8696b"/>
<rect x="221.26" y="410" width="2.16" height="36.5" fill="#f8696b"/>
<rect x="255.82" y="373.1" width="2.16" height="73.4" fill="#f8696b"/>
<rect x="260.14" y="380" width="2.16" height="66.5" fill="#f8696b"/>
<rect x="264.46" y="417.8" width="2.16" height="28.7" fill="#f8696b"/>
<rect x="286.06" y="390.7" width="2.16" height="55.8" fill="#f8696b"/>
<rect x="294.7" y="417.9" width="2.16" height="28.6" fill="#f8696b"/>
<rect x="329.26" y="410.1" width="2.16" height="36.4" fill="#f8696b"/>
<rect x="337.9" y="405.1" width="2.16" height="41.4" fill="#f8696b"/>
<rect x="67.9" y="397" width="2.16" height="49.5" fill="#1d7f5f"/>
<rect x="72.22" y="393.6" width="2.16" height="52.9" fill="#1d7f5f"/>
<rect x="85.18" y="373.4" width="2.16" height="73.1" fill="#1d7f5f"/>
<rect x="98.14" y="413" width="2.16" height="33.5" fill="#1d7f5f"/>
<rect x="102.46" y="386.8" width="2.16" height="59.7" fill="#1d7f5f"/>
<rect x="106.78" y="385.1" width="2.16" height="61.4" fill="#1d7f5f"/>
<rect x="111.1" y="408.3" width="2.16" height="38.2" fill="#1d7f5f"/>
<rect x="115.42" y="373.8" width="2.16" height="72.7" fill="#1d7f5f"/>
<rect x="119.74" y="408.3" width="2.16" height="38.2" fill="#1d7f5f"/>
<rect x="124.06" y="383.9" width="2.16" height="62.6" fill="#1d7f5f"/>
<rect x="128.38" y="397" width="2.16" height="49.5" fill="#1d7f5f"/>
<rect x="132.7" y="405.1" width="2.16" height="41.4" fill="#1d7f5f"/>
<rect x="137.02" y="400.5" width="2.16" height="46" fill="#1d7f5f"/>
<rect x="141.34" y="402.4" width="2.16" height="44.1" fill="#1d7f5f"/>
<rect x="149.98" y="386.2" width="2.16" height="60.3" fill="#1d7f5f"/>
<rect x="154.3" y="421" width="2.16" height="25.5" fill="#1d7f5f"/>
<rect x="158.62" y="421" width="2.16" height="25.5" fill="#1d7f5f"/>
<rect x="167.26" y="369.2" width="2.16" height="77.3" fill="#1d7f5f"/>
<rect x="171.58" y="396.1" width="2.16" height="50.4" fill="#1d7f5f"/>
<rect x="188.86" y="383.2" width="2.16" height="63.3" fill="#1d7f5f"/>
<rect x="197.5" y="400.6" width="2.16" height="45.9" fill="#1d7f5f"/>
<rect x="201.82" y="390" width="2.16" height="56.5" fill="#1d7f5f"/>
<rect x="223.42" y="413" width="2.16" height="33.5" fill="#1d7f5f"/>
<rect x="257.98" y="372.4" width="2.16" height="74.1" fill="#1d7f5f"/>
<rect x="262.3" y="381" width="2.16" height="65.5" fill="#1d7f5f"/>
<rect x="266.62" y="413" width="2.16" height="33.5" fill="#1d7f5f"/>
<rect x="288.22" y="396.1" width="2.16" height="50.4" fill="#1d7f5f"/>
<rect x="296.86" y="413" width="2.16" height="33.5" fill="#1d7f5f"/>
<rect x="331.42" y="400.6" width="2.16" height="45.9" fill="#1d7f5f"/>
<rect x="340.06" y="402.4" width="2.16" height="44.1" fill="#1d7f5f"/>
<line x1="54.4" y1="368.3" x2="54.4" y2="446.5" stroke="#b0b0b0" stroke-width="0.45"/>
<line x1="53.2" y1="368.3" x2="54.4" y2="368.3" stroke="#888" stroke-width="0.45"/>
<text x="52.4" y="369.6" font-size="3.9" text-anchor="end" fill="#111" stroke="#111" stroke-width="0.1">100</text>
<line x1="53.2" y1="394.37" x2="54.4" y2="394.37" stroke="#888" stroke-width="0.45"/>
<text x="52.4" y="395.67" font-size="3.9" text-anchor="end" fill="#111" stroke="#111" stroke-width="0.1">10</text>
<line x1="53.2" y1="420.43" x2="54.4" y2="420.43" stroke="#888" stroke-width="0.45"/>
<text x="52.4" y="421.73" font-size="3.9" text-anchor="end" fill="#111" stroke="#111" stroke-width="0.1">1</text>
<line x1="53.2" y1="446.5" x2="54.4" y2="446.5" stroke="#888" stroke-width="0.45"/>
<text x="52.4" y="447.8" font-size="3.9" text-anchor="end" fill="#111" stroke="#111" stroke-width="0.1">0.1</text>
<text x="43.8" y="407.4" font-size="4.1" text-anchor="middle" fill="#111" transform="rotate(-90 43.8 407.4)" stroke="#111" stroke-width="0.08">percentage of proteins</text>
<line x1="354" y1="368.3" x2="354" y2="446.5" stroke="#a0a0a0" stroke-width="0.45"/>
<line x1="354" y1="368.3" x2="355.2" y2="368.3" stroke="#777" stroke-width="0.45"/>
<text x="355.5" y="369.6" font-size="3.9" fill="#f25a5a" stroke="#f25a5a" stroke-width="0.05">78</text>
<text x="355.5" y="374.6" font-size="3.9" fill="#23896a" stroke="#23896a" stroke-width="0.05">103</text>
<line x1="354" y1="394.37" x2="355.2" y2="394.37" stroke="#777" stroke-width="0.45"/>
<text x="355.5" y="395.67" font-size="3.9" fill="#f25a5a" stroke="#f25a5a" stroke-width="0.05">7</text>
<text x="355.5" y="400.67" font-size="3.9" fill="#23896a" stroke="#23896a" stroke-width="0.05">10</text>
<line x1="354" y1="420.43" x2="355.2" y2="420.43" stroke="#777" stroke-width="0.45"/>
<text x="355.5" y="421.73" font-size="3.9" fill="#f25a5a" stroke="#f25a5a" stroke-width="0.05">0</text>
<text x="355.5" y="426.73" font-size="3.9" fill="#23896a" stroke="#23896a" stroke-width="0.05">1</text>
<line x1="354" y1="446.5" x2="355.2" y2="446.5" stroke="#777" stroke-width="0.45"/>
<text x="355.5" y="447.8" font-size="3.9" fill="#f25a5a" stroke="#f25a5a" stroke-width="0.05">0</text>
<text x="355.5" y="452.8" font-size="3.9" fill="#23896a" stroke="#23896a" stroke-width="0.05">0</text>
<text x="367.8" y="407.4" font-size="4.3" text-anchor="middle" fill="#111" transform="rotate(90 367.8 407.4)" stroke="#111" stroke-width="0.1">protein number</text>
<rect x="333.2" y="373.4" width="3" height="2.6" fill="#f8696b"/>
<rect x="333.2" y="378.3" width="3" height="2.6" fill="#1d7f5f"/>
<text x="339.3" y="376.1" font-size="3.9" fill="#111" stroke="#111" stroke-width="0.08">Up</text>
<text x="339.3" y="381" font-size="3.9" fill="#111" stroke="#111" stroke-width="0.08">Down</text>
<text x="68.95" y="449" font-size="3.05" text-anchor="end" transform="rotate(-90 68.95 449)" stroke="#000" stroke-width="0.2">biological adhesion</text>
<text x="73.27" y="449" font-size="3.05" text-anchor="end" transform="rotate(-90 73.27 449)" stroke="#000" stroke-width="0.2">biological regulation</text>
<text x="77.59" y="449" font-size="3.05" text-anchor="end" transform="rotate(-90 77.59 449)" stroke="#000" stroke-width="0.2">cell killing</text>
<text x="81.91" y="449" font-size="3.05" text-anchor="end" transform="rotate(-90 81.91 449)" stroke="#000" stroke-width="0.2">cellular component organization or biogenesis</text>
<text x="86.23" y="449" font-size="3.05" text-anchor="end" transform="rotate(-90 86.23 449)" stroke="#000" stroke-width="0.2">cellular process</text>
<text x="90.55" y="449" font-size="3.05" text-anchor="end" transform="rotate(-90 90.55 449)" stroke="#000" stroke-width="0.2">developmental process</text>
<text x="94.87" y="449" font-size="3.05" text-anchor="end" transform="rotate(-90 94.87 449)" stroke="#000" stroke-width="0.2">establishment of localization</text>
<text x="99.19" y="449" font-size="3.05" text-anchor="end" transform="rotate(-90 99.19 449)" stroke="#000" stroke-width="0.2">growth</text>
<text x="103.51" y="449" font-size="3.05" text-anchor="end" transform="rotate(-90 103.51 449)" stroke="#000" stroke-width="0.2">immune system process</text>
<text x="107.83" y="449" font-size="3.05" text-anchor="end" transform="rotate(-90 107.83 449)" stroke="#000" stroke-width="0.2">localization</text>
<text x="112.15" y="449" font-size="3.05" text-anchor="end" transform="rotate(-90 112.15 449)" stroke="#000" stroke-width="0.2">locomotion</text>
<text x="116.47" y="449" font-size="3.05" text-anchor="end" transform="rotate(-90 116.47 449)" stroke="#000" stroke-width="0.2">metabolic process</text>
<text x="120.79" y="449" font-size="3.05" text-anchor="end" transform="rotate(-90 120.79 449)" stroke="#000" stroke-width="0.2">multi-organism process</text>
<text x="125.11" y="449" font-size="3.05" text-anchor="end" transform="rotate(-90 125.11 449)" stroke="#000" stroke-width="0.2">multicellular organismal process</text>
<text x="129.43" y="449" font-size="3.05" text-anchor="end" transform="rotate(-90 129.43 449)" stroke="#000" stroke-width="0.2">negative regulation of biological process</text>
<text x="133.75" y="449" font-size="3.05" text-anchor="end" transform="rotate(-90 133.75 449)" stroke="#000" stroke-width="0.2">positive regulation of biological process</text>
<text x="138.07" y="449" font-size="3.05" text-anchor="end" transform="rotate(-90 138.07 449)" stroke="#000" stroke-width="0.2">regulation of biological process</text>
<text x="142.39" y="449" font-size="3.05" text-anchor="end" transform="rotate(-90 142.39 449)" stroke="#000" stroke-width="0.2">reproduction</text>
<text x="146.71" y="449" font-size="3.05" text-anchor="end" transform="rotate(-90 146.71 449)" stroke="#000" stroke-width="0.2">reproductive process</text>
<text x="151.03" y="449" font-size="3.05" text-anchor="end" transform="rotate(-90 151.03 449)" stroke="#000" stroke-width="0.2">response to stimulus</text>
<text x="155.35" y="449" font-size="3.05" text-anchor="end" transform="rotate(-90 155.35 449)" stroke="#000" stroke-width="0.2">rhythmic process</text>
<text x="159.67" y="449" font-size="3.05" text-anchor="end" transform="rotate(-90 159.67 449)" stroke="#000" stroke-width="0.2">signaling</text>
<text x="163.99" y="449" font-size="3.05" text-anchor="end" transform="rotate(-90 163.99 449)" stroke="#000" stroke-width="0.2">single-organism process</text>
<text x="168.31" y="449" font-size="3.05" text-anchor="end" transform="rotate(-90 168.31 449)" stroke="#000" stroke-width="0.2">cell</text>
<text x="172.63" y="449" font-size="3.05" text-anchor="end" transform="rotate(-90 172.63 449)" stroke="#000" stroke-width="0.2">cell junction</text>
<text x="176.95" y="449" font-size="3.05" text-anchor="end" transform="rotate(-90 176.95 449)" stroke="#000" stroke-width="0.2">cell part</text>
<text x="181.27" y="449" font-size="3.05" text-anchor="end" transform="rotate(-90 181.27 449)" stroke="#000" stroke-width="0.2">extracellular matrix</text>
<text x="185.59" y="449" font-size="3.05" text-anchor="end" transform="rotate(-90 185.59 449)" stroke="#000" stroke-width="0.2">extracellular matrix part</text>
<text x="189.91" y="449" font-size="3.05" text-anchor="end" transform="rotate(-90 189.91 449)" stroke="#000" stroke-width="0.2">extracellular region</text>
<text x="194.23" y="449" font-size="3.05" text-anchor="end" transform="rotate(-90 194.23 449)" stroke="#000" stroke-width="0.2">extracellular region part</text>
<text x="198.55" y="449" font-size="3.05" text-anchor="end" transform="rotate(-90 198.55 449)" stroke="#000" stroke-width="0.2">macromolecular complex</text>
<text x="202.87" y="449" font-size="3.05" text-anchor="end" transform="rotate(-90 202.87 449)" stroke="#000" stroke-width="0.2">membrane</text>
<text x="207.19" y="449" font-size="3.05" text-anchor="end" transform="rotate(-90 207.19 449)" stroke="#000" stroke-width="0.2">membrane part</text>
<text x="211.51" y="449" font-size="3.05" text-anchor="end" transform="rotate(-90 211.51 449)" stroke="#000" stroke-width="0.2">membrane-enclosed lumen</text>
<text x="215.83" y="449" font-size="3.05" text-anchor="end" transform="rotate(-90 215.83 449)" stroke="#000" stroke-width="0.2">mitochondrion-associated adherens complex</text>
<text x="220.15" y="449" font-size="3.05" text-anchor="end" transform="rotate(-90 220.15 449)" stroke="#000" stroke-width="0.2">nucleoid</text>
<text x="224.47" y="449" font-size="3.05" text-anchor="end" transform="rotate(-90 224.47 449)" stroke="#000" stroke-width="0.2">organelle</text>
<text x="228.79" y="449" font-size="3.05" text-anchor="end" transform="rotate(-90 228.79 449)" stroke="#000" stroke-width="0.2">organelle part</text>
<text x="233.11" y="449" font-size="3.05" text-anchor="end" transform="rotate(-90 233.11 449)" stroke="#000" stroke-width="0.2">symplast</text>
<text x="237.43" y="449" font-size="3.05" text-anchor="end" transform="rotate(-90 237.43 449)" stroke="#000" stroke-width="0.2">synapse</text>
<text x="241.75" y="449" font-size="3.05" text-anchor="end" transform="rotate(-90 241.75 449)" stroke="#000" stroke-width="0.2">synapse part</text>
<text x="246.07" y="449" font-size="3.05" text-anchor="end" transform="rotate(-90 246.07 449)" stroke="#000" stroke-width="0.2">virion</text>
<text x="250.39" y="449" font-size="3.05" text-anchor="end" transform="rotate(-90 250.39 449)" stroke="#000" stroke-width="0.2">virion part</text>
<text x="254.71" y="449" font-size="3.05" text-anchor="end" transform="rotate(-90 254.71 449)" stroke="#000" stroke-width="0.2">antioxidant activity</text>
<text x="259.03" y="449" font-size="3.05" text-anchor="end" transform="rotate(-90 259.03 449)" stroke="#000" stroke-width="0.2">binding</text>
<text x="263.35" y="449" font-size="3.05" text-anchor="end" transform="rotate(-90 263.35 449)" stroke="#000" stroke-width="0.2">catalytic activity</text>
<text x="267.67" y="449" font-size="3.05" text-anchor="end" transform="rotate(-90 267.67 449)" stroke="#000" stroke-width="0.2">channel regulator activity</text>
<text x="271.99" y="449" font-size="3.05" text-anchor="end" transform="rotate(-90 271.99 449)" stroke="#000" stroke-width="0.2">chemoattractant activity</text>
<text x="276.31" y="449" font-size="3.05" text-anchor="end" transform="rotate(-90 276.31 449)" stroke="#000" stroke-width="0.2">chemorepellent activity</text>
<text x="280.63" y="449" font-size="3.05" text-anchor="end" transform="rotate(-90 280.63 449)" stroke="#000" stroke-width="0.2">electron carrier activity</text>
<text x="284.95" y="449" font-size="3.05" text-anchor="end" transform="rotate(-90 284.95 449)" stroke="#000" stroke-width="0.2">enzyme regulator activity</text>
<text x="289.27" y="449" font-size="3.05" text-anchor="end" transform="rotate(-90 289.27 449)" stroke="#000" stroke-width="0.2">metallochaperone activity</text>
<text x="293.59" y="449" font-size="3.05" text-anchor="end" transform="rotate(-90 293.59 449)" stroke="#000" stroke-width="0.2">molecular function regulator</text>
<text x="297.91" y="449" font-size="3.05" text-anchor="end" transform="rotate(-90 297.91 449)" stroke="#000" stroke-width="0.2">molecular transducer activity</text>
<text x="302.23" y="449" font-size="3.05" text-anchor="end" transform="rotate(-90 302.23 449)" stroke="#000" stroke-width="0.2">morphogen activity</text>
<text x="306.55" y="449" font-size="3.05" text-anchor="end" transform="rotate(-90 306.55 449)" stroke="#000" stroke-width="0.2">nucleic acid binding transcription factor activity</text>
<text x="310.87" y="449" font-size="3.05" text-anchor="end" transform="rotate(-90 310.87 449)" stroke="#000" stroke-width="0.2">nutrient reservoir activity</text>
<text x="315.19" y="449" font-size="3.05" text-anchor="end" transform="rotate(-90 315.19 449)" stroke="#000" stroke-width="0.2">protein binding transcription factor activity</text>
<text x="319.51" y="449" font-size="3.05" text-anchor="end" transform="rotate(-90 319.51 449)" stroke="#000" stroke-width="0.2">protein tag</text>
<text x="323.83" y="449" font-size="3.05" text-anchor="end" transform="rotate(-90 323.83 449)" stroke="#000" stroke-width="0.2">receptor activity</text>
<text x="328.15" y="449" font-size="3.05" text-anchor="end" transform="rotate(-90 328.15 449)" stroke="#000" stroke-width="0.2">signal transducer activity</text>
<text x="332.47" y="449" font-size="3.05" text-anchor="end" transform="rotate(-90 332.47 449)" stroke="#000" stroke-width="0.2">structural molecule activity</text>
<text x="336.79" y="449" font-size="3.05" text-anchor="end" transform="rotate(-90 336.79 449)" stroke="#000" stroke-width="0.2">translation regulator activity</text>
<text x="341.11" y="449" font-size="3.05" text-anchor="end" transform="rotate(-90 341.11 449)" stroke="#000" stroke-width="0.2">transporter activity</text>
<path d="M68.4 475.75V513.3H163.44V482.86" fill="none" stroke="#86cc86" stroke-width="0.65" stroke-linejoin="miter"/>
<text x="115.92" y="518.6" font-size="4.95" text-anchor="middle" fill="#66bb66" stroke="#66bb66" stroke-width="0.08">Biological Process</text>
<path d="M167.76 454.38V513.3H249.84V463.19" fill="none" stroke="#79a7dc" stroke-width="0.65" stroke-linejoin="miter"/>
<text x="208.8" y="518.6" font-size="4.95" text-anchor="middle" fill="#4f8ccf" stroke="#4f8ccf" stroke-width="0.08">Cellular Component</text>
<path d="M254.16 480.72V513.3H340.56V474.72" fill="none" stroke="#ee6f6f" stroke-width="0.65" stroke-linejoin="miter"/>
<text x="297.36" y="518.6" font-size="4.95" text-anchor="middle" fill="#e83e3e" stroke="#e83e3e" stroke-width="0.08">Molecular Function</text>
<rect x="68.64" y="631.3" width="2.16" height="0.5" fill="#fbd3d3"/>
<rect x="70.8" y="631.3" width="2.16" height="0.5" fill="#cfe6dc"/>
<rect x="72.95" y="631.3" width="2.16" height="0.5" fill="#fbd3d3"/>
<rect x="75.11" y="631.3" width="2.16" height="0.5" fill="#cfe6dc"/>
<rect x="77.26" y="631.3" width="2.16" height="0.5" fill="#fbd3d3"/>
<rect x="79.42" y="631.3" width="2.16" height="0.5" fill="#cfe6dc"/>
<rect x="81.58" y="631.3" width="2.16" height="0.5" fill="#fbd3d3"/>
<rect x="83.74" y="631.3" width="2.16" height="0.5" fill="#cfe6dc"/>
<rect x="85.89" y="631.3" width="2.16" height="0.5" fill="#fbd3d3"/>
<rect x="88.05" y="631.3" width="2.16" height="0.5" fill="#cfe6dc"/>
<rect x="90.2" y="631.3" width="2.16" height="0.5" fill="#fbd3d3"/>
<rect x="92.36" y="631.3" width="2.16" height="0.5" fill="#cfe6dc"/>
<rect x="94.51" y="631.3" width="2.16" height="0.5" fill="#fbd3d3"/>
<rect x="96.67" y="631.3" width="2.16" height="0.5" fill="#cfe6dc"/>
<rect x="98.82" y="631.3" width="2.16" height="0.5" fill="#fbd3d3"/>
<rect x="100.98" y="631.3" width="2.16" height="0.5" fill="#cfe6dc"/>
<rect x="103.14" y="631.3" width="2.16" height="0.5" fill="#fbd3d3"/>
<rect x="105.3" y="631.3" width="2.16" height="0.5" fill="#cfe6dc"/>
<rect x="107.45" y="631.3" width="2.16" height="0.5" fill="#fbd3d3"/>
<rect x="109.61" y="631.3" width="2.16" height="0.5" fill="#cfe6dc"/>
<rect x="111.76" y="631.3" width="2.16" height="0.5" fill="#fbd3d3"/>
<rect x="113.92" y="631.3" width="2.16" height="0.5" fill="#cfe6dc"/>
<rect x="116.07" y="631.3" width="2.16" height="0.5" fill="#fbd3d3"/>
<rect x="118.23" y="631.3" width="2.16" height="0.5" fill="#cfe6dc"/>
<rect x="120.38" y="631.3" width="2.16" height="0.5" fill="#fbd3d3"/>
<rect x="122.54" y="631.3" width="2.16" height="0.5" fill="#cfe6dc"/>
<rect x="124.7" y="631.3" width="2.16" height="0.5" fill="#fbd3d3"/>
<rect x="126.86" y="631.3" width="2.16" height="0.5" fill="#cfe6dc"/>
<rect x="129.01" y="631.3" width="2.16" height="0.5" fill="#fbd3d3"/>
<rect x="131.17" y="631.3" width="2.16" height="0.5" fill="#cfe6dc"/>
<rect x="133.32" y="631.3" width="2.16" height="0.5" fill="#fbd3d3"/>
<rect x="135.48" y="631.3" width="2.16" height="0.5" fill="#cfe6dc"/>
<rect x="137.63" y="631.3" width="2.16" height="0.5" fill="#fbd3d3"/>
<rect x="139.79" y="631.3" width="2.16" height="0.5" fill="#cfe6dc"/>
<rect x="141.94" y="631.3" width="2.16" height="0.5" fill="#fbd3d3"/>
<rect x="144.1" y="631.3" width="2.16" height="0.5" fill="#cfe6dc"/>
<rect x="146.26" y="631.3" width="2.16" height="0.5" fill="#fbd3d3"/>
<rect x="148.42" y="631.3" width="2.16" height="0.5" fill="#cfe6dc"/>
<rect x="150.57" y="631.3" width="2.16" height="0.5" fill="#fbd3d3"/>
<rect x="152.73" y="631.3" width="2.16" height="0.5" fill="#cfe6dc"/>
<rect x="154.88" y="631.3" width="2.16" height="0.5" fill="#fbd3d3"/>
<rect x="157.04" y="631.3" width="2.16" height="0.5" fill="#cfe6dc"/>
<rect x="159.19" y="631.3" width="2.16" height="0.5" fill="#fbd3d3"/>
<rect x="161.35" y="631.3" width="2.16" height="0.5" fill="#cfe6dc"/>
<rect x="163.5" y="631.3" width="2.16" height="0.5" fill="#fbd3d3"/>
<rect x="165.66" y="631.3" width="2.16" height="0.5" fill="#cfe6dc"/>
<rect x="167.82" y="631.3" width="2.16" height="0.5" fill="#fbd3d3"/>
<rect x="169.98" y="631.3" width="2.16" height="0.5" fill="#cfe6dc"/>
<rect x="172.13" y="631.3" width="2.16" height="0.5" fill="#fbd3d3"/>
<rect x="174.29" y="631.3" width="2.16" height="0.5" fill="#cfe6dc"/>
<rect x="176.44" y="631.3" width="2.16" height="0.5" fill="#fbd3d3"/>
<rect x="178.6" y="631.3" width="2.16" height="0.5" fill="#cfe6dc"/>
<rect x="180.75" y="631.3" width="2.16" height="0.5" fill="#fbd3d3"/>
<rect x="182.91" y="631.3" width="2.16" height="0.5" fill="#cfe6dc"/>
<rect x="185.06" y="631.3" width="2.16" height="0.5" fill="#fbd3d3"/>
<rect x="187.22" y="631.3" width="2.16" height="0.5" fill="#cfe6dc"/>
<rect x="189.38" y="631.3" width="2.16" height="0.5" fill="#fbd3d3"/>
<rect x="191.54" y="631.3" width="2.16" height="0.5" fill="#cfe6dc"/>
<rect x="193.69" y="631.3" width="2.16" height="0.5" fill="#fbd3d3"/>
<rect x="195.85" y="631.3" width="2.16" height="0.5" fill="#cfe6dc"/>
<rect x="198" y="631.3" width="2.16" height="0.5" fill="#fbd3d3"/>
<rect x="200.16" y="631.3" width="2.16" height="0.5" fill="#cfe6dc"/>
<rect x="202.31" y="631.3" width="2.16" height="0.5" fill="#fbd3d3"/>
<rect x="204.47" y="631.3" width="2.16" height="0.5" fill="#cfe6dc"/>
<rect x="206.62" y="631.3" width="2.16" height="0.5" fill="#fbd3d3"/>
<rect x="208.78" y="631.3" width="2.16" height="0.5" fill="#cfe6dc"/>
<rect x="210.94" y="631.3" width="2.16" height="0.5" fill="#fbd3d3"/>
<rect x="213.1" y="631.3" width="2.16" height="0.5" fill="#cfe6dc"/>
<rect x="215.25" y="631.3" width="2.16" height="0.5" fill="#fbd3d3"/>
<rect x="217.41" y="631.3" width="2.16" height="0.5" fill="#cfe6dc"/>
<rect x="219.56" y="631.3" width="2.16" height="0.5" fill="#fbd3d3"/>
<rect x="221.72" y="631.3" width="2.16" height="0.5" fill="#cfe6dc"/>
<rect x="223.87" y="631.3" width="2.16" height="0.5" fill="#fbd3d3"/>
<rect x="226.03" y="631.3" width="2.16" height="0.5" fill="#cfe6dc"/>
<rect x="228.18" y="631.3" width="2.16" height="0.5" fill="#fbd3d3"/>
<rect x="230.34" y="631.3" width="2.16" height="0.5" fill="#cfe6dc"/>
<rect x="232.5" y="631.3" width="2.16" height="0.5" fill="#fbd3d3"/>
<rect x="234.66" y="631.3" width="2.16" height="0.5" fill="#cfe6dc"/>
<rect x="236.81" y="631.3" width="2.16" height="0.5" fill="#fbd3d3"/>
<rect x="238.97" y="631.3" width="2.16" height="0.5" fill="#cfe6dc"/>
<rect x="241.12" y="631.3" width="2.16" height="0.5" fill="#fbd3d3"/>
<rect x="243.28" y="631.3" width="2.16" height="0.5" fill="#cfe6dc"/>
<rect x="245.43" y="631.3" width="2.16" height="0.5" fill="#fbd3d3"/>
<rect x="247.59" y="631.3" width="2.16" height="0.5" fill="#cfe6dc"/>
<rect x="249.74" y="631.3" width="2.16" height="0.5" fill="#fbd3d3"/>
<rect x="251.9" y="631.3" width="2.16" height="0.5" fill="#cfe6dc"/>
<rect x="254.06" y="631.3" width="2.16" height="0.5" fill="#fbd3d3"/>
<rect x="256.22" y="631.3" width="2.16" height="0.5" fill="#cfe6dc"/>
<rect x="258.37" y="631.3" width="2.16" height="0.5" fill="#fbd3d3"/>
<rect x="260.53" y="631.3" width="2.16" height="0.5" fill="#cfe6dc"/>
<rect x="262.68" y="631.3" width="2.16" height="0.5" fill="#fbd3d3"/>
<rect x="264.84" y="631.3" width="2.16" height="0.5" fill="#cfe6dc"/>
<rect x="266.99" y="631.3" width="2.16" height="0.5" fill="#fbd3d3"/>
<rect x="269.15" y="631.3" width="2.16" height="0.5" fill="#cfe6dc"/>
<rect x="271.3" y="631.3" width="2.16" height="0.5" fill="#fbd3d3"/>
<rect x="273.46" y="631.3" width="2.16" height="0.5" fill="#cfe6dc"/>
<rect x="275.62" y="631.3" width="2.16" height="0.5" fill="#fbd3d3"/>
<rect x="277.78" y="631.3" width="2.16" height="0.5" fill="#cfe6dc"/>
<rect x="279.93" y="631.3" width="2.16" height="0.5" fill="#fbd3d3"/>
<rect x="282.09" y="631.3" width="2.16" height="0.5" fill="#cfe6dc"/>
<rect x="284.24" y="631.3" width="2.16" height="0.5" fill="#fbd3d3"/>
<rect x="286.4" y="631.3" width="2.16" height="0.5" fill="#cfe6dc"/>
<rect x="288.55" y="631.3" width="2.16" height="0.5" fill="#fbd3d3"/>
<rect x="290.71" y="631.3" width="2.16" height="0.5" fill="#cfe6dc"/>
<rect x="292.86" y="631.3" width="2.16" height="0.5" fill="#fbd3d3"/>
<rect x="295.02" y="631.3" width="2.16" height="0.5" fill="#cfe6dc"/>
<rect x="297.18" y="631.3" width="2.16" height="0.5" fill="#fbd3d3"/>
<rect x="299.34" y="631.3" width="2.16" height="0.5" fill="#cfe6dc"/>
<rect x="301.49" y="631.3" width="2.16" height="0.5" fill="#fbd3d3"/>
<rect x="303.65" y="631.3" width="2.16" height="0.5" fill="#cfe6dc"/>
<rect x="305.8" y="631.3" width="2.16" height="0.5" fill="#fbd3d3"/>
<rect x="307.96" y="631.3" width="2.16" height="0.5" fill="#cfe6dc"/>
<rect x="310.11" y="631.3" width="2.16" height="0.5" fill="#fbd3d3"/>
<rect x="312.27" y="631.3" width="2.16" height="0.5" fill="#cfe6dc"/>
<rect x="314.42" y="631.3" width="2.16" height="0.5" fill="#fbd3d3"/>
<rect x="316.58" y="631.3" width="2.16" height="0.5" fill="#cfe6dc"/>
<rect x="318.74" y="631.3" width="2.16" height="0.5" fill="#fbd3d3"/>
<rect x="320.9" y="631.3" width="2.16" height="0.5" fill="#cfe6dc"/>
<rect x="323.05" y="631.3" width="2.16" height="0.5" fill="#fbd3d3"/>
<rect x="325.21" y="631.3" width="2.16" height="0.5" fill="#cfe6dc"/>
<rect x="327.36" y="631.3" width="2.16" height="0.5" fill="#fbd3d3"/>
<rect x="329.52" y="631.3" width="2.16" height="0.5" fill="#cfe6dc"/>
<rect x="331.67" y="631.3" width="2.16" height="0.5" fill="#fbd3d3"/>
<rect x="333.83" y="631.3" width="2.16" height="0.5" fill="#cfe6dc"/>
<rect x="335.98" y="631.3" width="2.16" height="0.5" fill="#fbd3d3"/>
<rect x="338.14" y="631.3" width="2.16" height="0.5" fill="#cfe6dc"/>
<rect x="340.3" y="631.3" width="2.16" height="0.5" fill="#fbd3d3"/>
<rect x="342.46" y="631.3" width="2.16" height="0.5" fill="#cfe6dc"/>
<rect x="68.64" y="589.7" width="2.16" height="42.1" fill="#f8696b"/>
<rect x="72.95" y="578.4" width="2.16" height="53.4" fill="#f8696b"/>
<rect x="85.89" y="560.1" width="2.16" height="71.7" fill="#f8696b"/>
<rect x="90.2" y="589.7" width="2.16" height="42.1" fill="#f8696b"/>
<rect x="103.14" y="580.1" width="2.16" height="51.7" fill="#f8696b"/>
<rect x="107.45" y="575.9" width="2.16" height="55.9" fill="#f8696b"/>
<rect x="116.07" y="558.1" width="2.16" height="73.7" fill="#f8696b"/>
<rect x="124.7" y="568.9" width="2.16" height="62.9" fill="#f8696b"/>
<rect x="129.01" y="586.5" width="2.16" height="45.3" fill="#f8696b"/>
<rect x="133.32" y="602.2" width="2.16" height="29.6" fill="#f8696b"/>
<rect x="137.63" y="602.2" width="2.16" height="29.6" fill="#f8696b"/>
<rect x="141.94" y="582" width="2.16" height="49.8" fill="#f8696b"/>
<rect x="150.57" y="571.2" width="2.16" height="60.6" fill="#f8696b"/>
<rect x="154.88" y="589.7" width="2.16" height="42.1" fill="#f8696b"/>
<rect x="167.82" y="556.1" width="2.16" height="75.7" fill="#f8696b"/>
<rect x="172.13" y="586.2" width="2.16" height="45.6" fill="#f8696b"/>
<rect x="189.38" y="565" width="2.16" height="66.8" fill="#f8696b"/>
<rect x="198" y="583.9" width="2.16" height="47.9" fill="#f8696b"/>
<rect x="202.31" y="575.9" width="2.16" height="55.9" fill="#f8696b"/>
<rect x="223.87" y="602" width="2.16" height="29.8" fill="#f8696b"/>
<rect x="258.37" y="558.1" width="2.16" height="73.7" fill="#f8696b"/>
<rect x="262.68" y="561" width="2.16" height="70.8" fill="#f8696b"/>
<rect x="288.55" y="579.8" width="2.16" height="52" fill="#f8696b"/>
<rect x="297.18" y="594.1" width="2.16" height="37.7" fill="#f8696b"/>
<rect x="331.67" y="586.2" width="2.16" height="45.6" fill="#f8696b"/>
<rect x="340.3" y="594.1" width="2.16" height="37.7" fill="#f8696b"/>
<rect x="70.8" y="585.6" width="2.16" height="46.2" fill="#1d7f5f"/>
<rect x="75.11" y="582" width="2.16" height="49.8" fill="#1d7f5f"/>
<rect x="79.42" y="606" width="2.16" height="25.8" fill="#1d7f5f"/>
<rect x="83.74" y="606" width="2.16" height="25.8" fill="#1d7f5f"/>
<rect x="88.05" y="562" width="2.16" height="69.8" fill="#1d7f5f"/>
<rect x="92.36" y="590" width="2.16" height="41.8" fill="#1d7f5f"/>
<rect x="105.3" y="575.9" width="2.16" height="55.9" fill="#1d7f5f"/>
<rect x="109.61" y="572" width="2.16" height="59.8" fill="#1d7f5f"/>
<rect x="113.92" y="590" width="2.16" height="41.8" fill="#1d7f5f"/>
<rect x="118.23" y="560" width="2.16" height="71.8" fill="#1d7f5f"/>
<rect x="122.54" y="598" width="2.16" height="33.8" fill="#1d7f5f"/>
<rect x="126.86" y="570.9" width="2.16" height="60.9" fill="#1d7f5f"/>
<rect x="131.17" y="583.9" width="2.16" height="47.9" fill="#1d7f5f"/>
<rect x="135.48" y="598" width="2.16" height="33.8" fill="#1d7f5f"/>
<rect x="139.79" y="590" width="2.16" height="41.8" fill="#1d7f5f"/>
<rect x="144.1" y="582.3" width="2.16" height="49.5" fill="#1d7f5f"/>
<rect x="152.73" y="570.9" width="2.16" height="60.9" fill="#1d7f5f"/>
<rect x="169.98" y="554.8" width="2.16" height="77" fill="#1d7f5f"/>
<rect x="174.29" y="581.1" width="2.16" height="50.7" fill="#1d7f5f"/>
<rect x="191.54" y="570.3" width="2.16" height="61.5" fill="#1d7f5f"/>
<rect x="200.16" y="587.8" width="2.16" height="44" fill="#1d7f5f"/>
<rect x="204.47" y="574.1" width="2.16" height="57.7" fill="#1d7f5f"/>
<rect x="226.03" y="606" width="2.16" height="25.8" fill="#1d7f5f"/>
<rect x="260.53" y="557.8" width="2.16" height="74" fill="#1d7f5f"/>
<rect x="264.84" y="566.1" width="2.16" height="65.7" fill="#1d7f5f"/>
<rect x="269.15" y="606" width="2.16" height="25.8" fill="#1d7f5f"/>
<rect x="290.71" y="587.5" width="2.16" height="44.3" fill="#1d7f5f"/>
<rect x="299.34" y="598" width="2.16" height="33.8" fill="#1d7f5f"/>
<rect x="333.83" y="582.3" width="2.16" height="49.5" fill="#1d7f5f"/>
<rect x="342.46" y="593.5" width="2.16" height="38.3" fill="#1d7f5f"/>
<line x1="57.2" y1="553.5" x2="57.2" y2="631.8" stroke="#b0b0b0" stroke-width="0.45"/>
<line x1="56" y1="553.5" x2="57.2" y2="553.5" stroke="#888" stroke-width="0.45"/>
<text x="55.2" y="554.8" font-size="3.9" text-anchor="end" fill="#111" stroke="#111" stroke-width="0.1">100</text>
<line x1="56" y1="579.6" x2="57.2" y2="579.6" stroke="#888" stroke-width="0.45"/>
<text x="55.2" y="580.9" font-size="3.9" text-anchor="end" fill="#111" stroke="#111" stroke-width="0.1">10</text>
<line x1="56" y1="605.7" x2="57.2" y2="605.7" stroke="#888" stroke-width="0.45"/>
<text x="55.2" y="607" font-size="3.9" text-anchor="end" fill="#111" stroke="#111" stroke-width="0.1">1</text>
<line x1="56" y1="631.8" x2="57.2" y2="631.8" stroke="#888" stroke-width="0.45"/>
<text x="55.2" y="633.1" font-size="3.9" text-anchor="end" fill="#111" stroke="#111" stroke-width="0.1">0.1</text>
<text x="47.2" y="592.65" font-size="4.1" text-anchor="middle" fill="#111" transform="rotate(-90 47.2 592.65)" stroke="#111" stroke-width="0.08">percentage of proteins</text>
<line x1="356.1" y1="553.5" x2="356.1" y2="631.8" stroke="#a0a0a0" stroke-width="0.45"/>
<line x1="356.1" y1="553.5" x2="357.3" y2="553.5" stroke="#777" stroke-width="0.45"/>
<text x="357.6" y="554.8" font-size="3.9" fill="#f25a5a" stroke="#f25a5a" stroke-width="0.05">72</text>
<text x="357.6" y="559.8" font-size="3.9" fill="#23896a" stroke="#23896a" stroke-width="0.05">101</text>
<line x1="356.1" y1="579.6" x2="357.3" y2="579.6" stroke="#777" stroke-width="0.45"/>
<text x="357.6" y="580.9" font-size="3.9" fill="#f25a5a" stroke="#f25a5a" stroke-width="0.05">7</text>
<text x="357.6" y="585.9" font-size="3.9" fill="#23896a" stroke="#23896a" stroke-width="0.05">10</text>
<line x1="356.1" y1="605.7" x2="357.3" y2="605.7" stroke="#777" stroke-width="0.45"/>
<text x="357.6" y="607" font-size="3.9" fill="#f25a5a" stroke="#f25a5a" stroke-width="0.05">0</text>
<text x="357.6" y="612" font-size="3.9" fill="#23896a" stroke="#23896a" stroke-width="0.05">1</text>
<line x1="356.1" y1="631.8" x2="357.3" y2="631.8" stroke="#777" stroke-width="0.45"/>
<text x="357.6" y="633.1" font-size="3.9" fill="#f25a5a" stroke="#f25a5a" stroke-width="0.05">0</text>
<text x="357.6" y="638.1" font-size="3.9" fill="#23896a" stroke="#23896a" stroke-width="0.05">0</text>
<text x="369.8" y="592.65" font-size="4.3" text-anchor="middle" fill="#111" transform="rotate(90 369.8 592.65)" stroke="#111" stroke-width="0.1">protein number</text>
<rect x="335.2" y="558.4" width="3" height="2.6" fill="#f8696b"/>
<rect x="335.2" y="563.3" width="3" height="2.6" fill="#1d7f5f"/>
<text x="341.3" y="561.1" font-size="3.9" fill="#111" stroke="#111" stroke-width="0.08">Up</text>
<text x="341.3" y="566" font-size="3.9" fill="#111" stroke="#111" stroke-width="0.08">Down</text>
<text x="71.85" y="634.3" font-size="3.05" text-anchor="end" transform="rotate(-90 71.85 634.3)" stroke="#000" stroke-width="0.2">biological adhesion</text>
<text x="76.16" y="634.3" font-size="3.05" text-anchor="end" transform="rotate(-90 76.16 634.3)" stroke="#000" stroke-width="0.2">biological regulation</text>
<text x="80.47" y="634.3" font-size="3.05" text-anchor="end" transform="rotate(-90 80.47 634.3)" stroke="#000" stroke-width="0.2">cell killing</text>
<text x="84.79" y="634.3" font-size="3.05" text-anchor="end" transform="rotate(-90 84.79 634.3)" stroke="#000" stroke-width="0.2">cellular component organization or biogenesis</text>
<text x="89.1" y="634.3" font-size="3.05" text-anchor="end" transform="rotate(-90 89.1 634.3)" stroke="#000" stroke-width="0.2">cellular process</text>
<text x="93.41" y="634.3" font-size="3.05" text-anchor="end" transform="rotate(-90 93.41 634.3)" stroke="#000" stroke-width="0.2">developmental process</text>
<text x="97.72" y="634.3" font-size="3.05" text-anchor="end" transform="rotate(-90 97.72 634.3)" stroke="#000" stroke-width="0.2">establishment of localization</text>
<text x="102.03" y="634.3" font-size="3.05" text-anchor="end" transform="rotate(-90 102.03 634.3)" stroke="#000" stroke-width="0.2">growth</text>
<text x="106.35" y="634.3" font-size="3.05" text-anchor="end" transform="rotate(-90 106.35 634.3)" stroke="#000" stroke-width="0.2">immune system process</text>
<text x="110.66" y="634.3" font-size="3.05" text-anchor="end" transform="rotate(-90 110.66 634.3)" stroke="#000" stroke-width="0.2">localization</text>
<text x="114.97" y="634.3" font-size="3.05" text-anchor="end" transform="rotate(-90 114.97 634.3)" stroke="#000" stroke-width="0.2">locomotion</text>
<text x="119.28" y="634.3" font-size="3.05" text-anchor="end" transform="rotate(-90 119.28 634.3)" stroke="#000" stroke-width="0.2">metabolic process</text>
<text x="123.59" y="634.3" font-size="3.05" text-anchor="end" transform="rotate(-90 123.59 634.3)" stroke="#000" stroke-width="0.2">multi-organism process</text>
<text x="127.91" y="634.3" font-size="3.05" text-anchor="end" transform="rotate(-90 127.91 634.3)" stroke="#000" stroke-width="0.2">multicellular organismal process</text>
<text x="132.22" y="634.3" font-size="3.05" text-anchor="end" transform="rotate(-90 132.22 634.3)" stroke="#000" stroke-width="0.2">negative regulation of biological process</text>
<text x="136.53" y="634.3" font-size="3.05" text-anchor="end" transform="rotate(-90 136.53 634.3)" stroke="#000" stroke-width="0.2">positive regulation of biological process</text>
<text x="140.84" y="634.3" font-size="3.05" text-anchor="end" transform="rotate(-90 140.84 634.3)" stroke="#000" stroke-width="0.2">regulation of biological process</text>
<text x="145.15" y="634.3" font-size="3.05" text-anchor="end" transform="rotate(-90 145.15 634.3)" stroke="#000" stroke-width="0.2">reproduction</text>
<text x="149.47" y="634.3" font-size="3.05" text-anchor="end" transform="rotate(-90 149.47 634.3)" stroke="#000" stroke-width="0.2">reproductive process</text>
<text x="153.78" y="634.3" font-size="3.05" text-anchor="end" transform="rotate(-90 153.78 634.3)" stroke="#000" stroke-width="0.2">response to stimulus</text>
<text x="158.09" y="634.3" font-size="3.05" text-anchor="end" transform="rotate(-90 158.09 634.3)" stroke="#000" stroke-width="0.2">rhythmic process</text>
<text x="162.4" y="634.3" font-size="3.05" text-anchor="end" transform="rotate(-90 162.4 634.3)" stroke="#000" stroke-width="0.2">signaling</text>
<text x="166.71" y="634.3" font-size="3.05" text-anchor="end" transform="rotate(-90 166.71 634.3)" stroke="#000" stroke-width="0.2">single-organism process</text>
<text x="171.03" y="634.3" font-size="3.05" text-anchor="end" transform="rotate(-90 171.03 634.3)" stroke="#000" stroke-width="0.2">cell</text>
<text x="175.34" y="634.3" font-size="3.05" text-anchor="end" transform="rotate(-90 175.34 634.3)" stroke="#000" stroke-width="0.2">cell junction</text>
<text x="179.65" y="634.3" font-size="3.05" text-anchor="end" transform="rotate(-90 179.65 634.3)" stroke="#000" stroke-width="0.2">cell part</text>
<text x="183.96" y="634.3" font-size="3.05" text-anchor="end" transform="rotate(-90 183.96 634.3)" stroke="#000" stroke-width="0.2">extracellular matrix</text>
<text x="188.27" y="634.3" font-size="3.05" text-anchor="end" transform="rotate(-90 188.27 634.3)" stroke="#000" stroke-width="0.2">extracellular matrix part</text>
<text x="192.59" y="634.3" font-size="3.05" text-anchor="end" transform="rotate(-90 192.59 634.3)" stroke="#000" stroke-width="0.2">extracellular region</text>
<text x="196.9" y="634.3" font-size="3.05" text-anchor="end" transform="rotate(-90 196.9 634.3)" stroke="#000" stroke-width="0.2">extracellular region part</text>
<text x="201.21" y="634.3" font-size="3.05" text-anchor="end" transform="rotate(-90 201.21 634.3)" stroke="#000" stroke-width="0.2">macromolecular complex</text>
<text x="205.52" y="634.3" font-size="3.05" text-anchor="end" transform="rotate(-90 205.52 634.3)" stroke="#000" stroke-width="0.2">membrane</text>
<text x="209.83" y="634.3" font-size="3.05" text-anchor="end" transform="rotate(-90 209.83 634.3)" stroke="#000" stroke-width="0.2">membrane part</text>
<text x="214.15" y="634.3" font-size="3.05" text-anchor="end" transform="rotate(-90 214.15 634.3)" stroke="#000" stroke-width="0.2">membrane-enclosed lumen</text>
<text x="218.46" y="634.3" font-size="3.05" text-anchor="end" transform="rotate(-90 218.46 634.3)" stroke="#000" stroke-width="0.2">mitochondrion-associated adherens complex</text>
<text x="222.77" y="634.3" font-size="3.05" text-anchor="end" transform="rotate(-90 222.77 634.3)" stroke="#000" stroke-width="0.2">nucleoid</text>
<text x="227.08" y="634.3" font-size="3.05" text-anchor="end" transform="rotate(-90 227.08 634.3)" stroke="#000" stroke-width="0.2">organelle</text>
<text x="231.39" y="634.3" font-size="3.05" text-anchor="end" transform="rotate(-90 231.39 634.3)" stroke="#000" stroke-width="0.2">organelle part</text>
<text x="235.71" y="634.3" font-size="3.05" text-anchor="end" transform="rotate(-90 235.71 634.3)" stroke="#000" stroke-width="0.2">symplast</text>
<text x="240.02" y="634.3" font-size="3.05" text-anchor="end" transform="rotate(-90 240.02 634.3)" stroke="#000" stroke-width="0.2">synapse</text>
<text x="244.33" y="634.3" font-size="3.05" text-anchor="end" transform="rotate(-90 244.33 634.3)" stroke="#000" stroke-width="0.2">synapse part</text>
<text x="248.64" y="634.3" font-size="3.05" text-anchor="end" transform="rotate(-90 248.64 634.3)" stroke="#000" stroke-width="0.2">virion</text>
<text x="252.95" y="634.3" font-size="3.05" text-anchor="end" transform="rotate(-90 252.95 634.3)" stroke="#000" stroke-width="0.2">virion part</text>
<text x="257.27" y="634.3" font-size="3.05" text-anchor="end" transform="rotate(-90 257.27 634.3)" stroke="#000" stroke-width="0.2">antioxidant activity</text>
<text x="261.58" y="634.3" font-size="3.05" text-anchor="end" transform="rotate(-90 261.58 634.3)" stroke="#000" stroke-width="0.2">binding</text>
<text x="265.89" y="634.3" font-size="3.05" text-anchor="end" transform="rotate(-90 265.89 634.3)" stroke="#000" stroke-width="0.2">catalytic activity</text>
<text x="270.2" y="634.3" font-size="3.05" text-anchor="end" transform="rotate(-90 270.2 634.3)" stroke="#000" stroke-width="0.2">channel regulator activity</text>
<text x="274.51" y="634.3" font-size="3.05" text-anchor="end" transform="rotate(-90 274.51 634.3)" stroke="#000" stroke-width="0.2">chemoattractant activity</text>
<text x="278.83" y="634.3" font-size="3.05" text-anchor="end" transform="rotate(-90 278.83 634.3)" stroke="#000" stroke-width="0.2">chemorepellent activity</text>
<text x="283.14" y="634.3" font-size="3.05" text-anchor="end" transform="rotate(-90 283.14 634.3)" stroke="#000" stroke-width="0.2">electron carrier activity</text>
<text x="287.45" y="634.3" font-size="3.05" text-anchor="end" transform="rotate(-90 287.45 634.3)" stroke="#000" stroke-width="0.2">enzyme regulator activity</text>
<text x="291.76" y="634.3" font-size="3.05" text-anchor="end" transform="rotate(-90 291.76 634.3)" stroke="#000" stroke-width="0.2">metallochaperone activity</text>
<text x="296.07" y="634.3" font-size="3.05" text-anchor="end" transform="rotate(-90 296.07 634.3)" stroke="#000" stroke-width="0.2">molecular function regulator</text>
<text x="300.39" y="634.3" font-size="3.05" text-anchor="end" transform="rotate(-90 300.39 634.3)" stroke="#000" stroke-width="0.2">molecular transducer activity</text>
<text x="304.7" y="634.3" font-size="3.05" text-anchor="end" transform="rotate(-90 304.7 634.3)" stroke="#000" stroke-width="0.2">morphogen activity</text>
<text x="309.01" y="634.3" font-size="3.05" text-anchor="end" transform="rotate(-90 309.01 634.3)" stroke="#000" stroke-width="0.2">nucleic acid binding transcription factor activity</text>
<text x="313.32" y="634.3" font-size="3.05" text-anchor="end" transform="rotate(-90 313.32 634.3)" stroke="#000" stroke-width="0.2">nutrient reservoir activity</text>
<text x="317.63" y="634.3" font-size="3.05" text-anchor="end" transform="rotate(-90 317.63 634.3)" stroke="#000" stroke-width="0.2">protein binding transcription factor activity</text>
<text x="321.95" y="634.3" font-size="3.05" text-anchor="end" transform="rotate(-90 321.95 634.3)" stroke="#000" stroke-width="0.2">protein tag</text>
<text x="326.26" y="634.3" font-size="3.05" text-anchor="end" transform="rotate(-90 326.26 634.3)" stroke="#000" stroke-width="0.2">receptor activity</text>
<text x="330.57" y="634.3" font-size="3.05" text-anchor="end" transform="rotate(-90 330.57 634.3)" stroke="#000" stroke-width="0.2">signal transducer activity</text>
<text x="334.88" y="634.3" font-size="3.05" text-anchor="end" transform="rotate(-90 334.88 634.3)" stroke="#000" stroke-width="0.2">structural molecule activity</text>
<text x="339.19" y="634.3" font-size="3.05" text-anchor="end" transform="rotate(-90 339.19 634.3)" stroke="#000" stroke-width="0.2">translation regulator activity</text>
<text x="343.51" y="634.3" font-size="3.05" text-anchor="end" transform="rotate(-90 343.51 634.3)" stroke="#000" stroke-width="0.2">transporter activity</text>
<path d="M71.3 661.05V698.9H166.16V668.16" fill="none" stroke="#86cc86" stroke-width="0.65" stroke-linejoin="miter"/>
<text x="118.73" y="704.2" font-size="4.95" text-anchor="middle" fill="#66bb66" stroke="#66bb66" stroke-width="0.08">Biological Process</text>
<path d="M170.48 639.68V698.9H252.4V648.49" fill="none" stroke="#79a7dc" stroke-width="0.65" stroke-linejoin="miter"/>
<text x="211.44" y="704.2" font-size="4.95" text-anchor="middle" fill="#4f8ccf" stroke="#4f8ccf" stroke-width="0.08">Cellular Component</text>
<path d="M256.72 666.02V698.9H342.96V660.02" fill="none" stroke="#ee6f6f" stroke-width="0.65" stroke-linejoin="miter"/>
<text x="299.84" y="704.2" font-size="4.95" text-anchor="middle" fill="#e83e3e" stroke="#e83e3e" stroke-width="0.08">Molecular Function</text>
<line x1="560.7" y1="183.6" x2="560.7" y2="335.8" stroke="#f2f2f2" stroke-width="0.35"/>
<line x1="586.5" y1="183.6" x2="586.5" y2="335.8" stroke="#f2f2f2" stroke-width="0.35"/>
<line x1="612.3" y1="183.6" x2="612.3" y2="335.8" stroke="#f2f2f2" stroke-width="0.35"/>
<line x1="638.1" y1="183.6" x2="638.1" y2="335.8" stroke="#f2f2f2" stroke-width="0.35"/>
<line x1="573.6" y1="183.6" x2="573.6" y2="335.8" stroke="#e4e4e4" stroke-width="0.45"/>
<line x1="599.4" y1="183.6" x2="599.4" y2="335.8" stroke="#e4e4e4" stroke-width="0.45"/>
<line x1="625.2" y1="183.6" x2="625.2" y2="335.8" stroke="#e4e4e4" stroke-width="0.45"/>
<line x1="557.5" y1="188.4" x2="648.5" y2="188.4" stroke="#e8e8e8" stroke-width="0.45"/>
<line x1="557.5" y1="195.91" x2="648.5" y2="195.91" stroke="#e8e8e8" stroke-width="0.45"/>
<line x1="557.5" y1="203.41" x2="648.5" y2="203.41" stroke="#e8e8e8" stroke-width="0.45"/>
<line x1="557.5" y1="210.92" x2="648.5" y2="210.92" stroke="#e8e8e8" stroke-width="0.45"/>
<line x1="557.5" y1="218.42" x2="648.5" y2="218.42" stroke="#e8e8e8" stroke-width="0.45"/>
<line x1="557.5" y1="225.93" x2="648.5" y2="225.93" stroke="#e8e8e8" stroke-width="0.45"/>
<line x1="557.5" y1="233.43" x2="648.5" y2="233.43" stroke="#e8e8e8" stroke-width="0.45"/>
<line x1="557.5" y1="240.94" x2="648.5" y2="240.94" stroke="#e8e8e8" stroke-width="0.45"/>
<line x1="557.5" y1="248.44" x2="648.5" y2="248.44" stroke="#e8e8e8" stroke-width="0.45"/>
<line x1="557.5" y1="255.94" x2="648.5" y2="255.94" stroke="#e8e8e8" stroke-width="0.45"/>
<line x1="557.5" y1="263.45" x2="648.5" y2="263.45" stroke="#e8e8e8" stroke-width="0.45"/>
<line x1="557.5" y1="270.95" x2="648.5" y2="270.95" stroke="#e8e8e8" stroke-width="0.45"/>
<line x1="557.5" y1="278.46" x2="648.5" y2="278.46" stroke="#e8e8e8" stroke-width="0.45"/>
<line x1="557.5" y1="285.97" x2="648.5" y2="285.97" stroke="#e8e8e8" stroke-width="0.45"/>
<line x1="557.5" y1="293.47" x2="648.5" y2="293.47" stroke="#e8e8e8" stroke-width="0.45"/>
<line x1="557.5" y1="300.98" x2="648.5" y2="300.98" stroke="#e8e8e8" stroke-width="0.45"/>
<line x1="557.5" y1="308.48" x2="648.5" y2="308.48" stroke="#e8e8e8" stroke-width="0.45"/>
<line x1="557.5" y1="315.99" x2="648.5" y2="315.99" stroke="#e8e8e8" stroke-width="0.45"/>
<line x1="557.5" y1="323.49" x2="648.5" y2="323.49" stroke="#e8e8e8" stroke-width="0.45"/>
<line x1="557.5" y1="331" x2="648.5" y2="331" stroke="#e8e8e8" stroke-width="0.45"/>
<circle cx="567" cy="188.4" r="2.2" fill="hsl(122,100%,50%)"/>
<circle cx="563.4" cy="195.91" r="2.2" fill="hsl(240,100%,50%)"/>
<circle cx="572" cy="203.41" r="2.2" fill="hsl(46,100%,50%)"/>
<circle cx="579.8" cy="210.92" r="1.8" fill="hsl(88,100%,50%)"/>
<circle cx="563.6" cy="218.42" r="2.2" fill="hsl(235,100%,50%)"/>
<circle cx="577.3" cy="225.93" r="2.2" fill="hsl(2,100%,50%)"/>
<circle cx="582.6" cy="233.43" r="1.8" fill="hsl(68,100%,50%)"/>
<circle cx="562.1" cy="240.94" r="2.5" fill="hsl(160,100%,50%)"/>
<circle cx="568" cy="248.44" r="1.8" fill="hsl(300,100%,50%)"/>
<circle cx="565.6" cy="255.94" r="2.5" fill="hsl(48,100%,50%)"/>
<circle cx="561.1" cy="263.45" r="2.9" fill="hsl(53,100%,50%)"/>
<circle cx="584.4" cy="270.95" r="1.8" fill="hsl(60,100%,50%)"/>
<circle cx="567.2" cy="278.46" r="2.5" fill="hsl(33,100%,50%)"/>
<circle cx="625" cy="285.97" r="0.6" fill="hsl(200,100%,50%)"/>
<circle cx="576.2" cy="293.47" r="1.8" fill="hsl(140,100%,50%)"/>
<circle cx="643.8" cy="300.98" r="0.6" fill="hsl(130,100%,50%)"/>
<circle cx="612" cy="308.48" r="0.6" fill="hsl(268,100%,50%)"/>
<circle cx="625" cy="315.99" r="0.6" fill="hsl(200,100%,50%)"/>
<circle cx="570.4" cy="323.49" r="1.8" fill="hsl(240,100%,50%)"/>
<circle cx="574.9" cy="331" r="1.8" fill="hsl(150,100%,50%)"/>
<rect x="557.5" y="183.6" width="91" height="152.2" fill="none" stroke="#b8b8b8" stroke-width="0.8"/>
<line x1="556.2" y1="188.4" x2="557.2" y2="188.4" stroke="#333" stroke-width="0.5"/>
<text x="555" y="189.6" font-size="3.57" text-anchor="end" fill="#222" stroke="#222" stroke-width="0.06">mmu05134: Legionellosis</text>
<line x1="556.2" y1="195.91" x2="557.2" y2="195.91" stroke="#333" stroke-width="0.5"/>
<text x="555" y="197.1" font-size="3.57" text-anchor="end" fill="#222" stroke="#222" stroke-width="0.06">mmu05133: Pertussis</text>
<line x1="556.2" y1="203.41" x2="557.2" y2="203.41" stroke="#333" stroke-width="0.5"/>
<text x="555" y="204.61" font-size="3.57" text-anchor="end" fill="#222" stroke="#222" stroke-width="0.06">mmu04979: Cholesterol metabolism</text>
<line x1="556.2" y1="210.92" x2="557.2" y2="210.92" stroke="#333" stroke-width="0.5"/>
<text x="555" y="212.12" font-size="3.57" text-anchor="end" fill="#222" stroke="#222" stroke-width="0.06">mmu04977: Vitamin digestion and absorption</text>
<line x1="556.2" y1="218.42" x2="557.2" y2="218.42" stroke="#333" stroke-width="0.5"/>
<text x="555" y="219.62" font-size="3.57" text-anchor="end" fill="#222" stroke="#222" stroke-width="0.06">mmu04976: Bile secretion</text>
<line x1="556.2" y1="225.93" x2="557.2" y2="225.93" stroke="#333" stroke-width="0.5"/>
<text x="555" y="227.12" font-size="3.57" text-anchor="end" fill="#222" stroke="#222" stroke-width="0.06">mmu04975: Fat digestion and absorption</text>
<line x1="556.2" y1="233.43" x2="557.2" y2="233.43" stroke="#333" stroke-width="0.5"/>
<text x="555" y="234.63" font-size="3.57" text-anchor="end" fill="#222" stroke="#222" stroke-width="0.06">mmu04964: Proximal tubule bicarbonate reclamation</text>
<line x1="556.2" y1="240.94" x2="557.2" y2="240.94" stroke="#333" stroke-width="0.5"/>
<text x="555" y="242.13" font-size="3.57" text-anchor="end" fill="#222" stroke="#222" stroke-width="0.06">mmu04931: Insulin resistance</text>
<line x1="556.2" y1="248.44" x2="557.2" y2="248.44" stroke="#333" stroke-width="0.5"/>
<text x="555" y="249.64" font-size="3.57" text-anchor="end" fill="#222" stroke="#222" stroke-width="0.06">mmu04614: Renin-angiotensin system</text>
<line x1="556.2" y1="255.94" x2="557.2" y2="255.94" stroke="#333" stroke-width="0.5"/>
<text x="555" y="257.14" font-size="3.57" text-anchor="end" fill="#222" stroke="#222" stroke-width="0.06">mmu04610: Complement and coagulation cascades</text>
<line x1="556.2" y1="263.45" x2="557.2" y2="263.45" stroke="#333" stroke-width="0.5"/>
<text x="555" y="264.65" font-size="3.57" text-anchor="end" fill="#222" stroke="#222" stroke-width="0.06">mmu04145: Phagosome</text>
<line x1="556.2" y1="270.95" x2="557.2" y2="270.95" stroke="#333" stroke-width="0.5"/>
<text x="555" y="272.15" font-size="3.57" text-anchor="end" fill="#222" stroke="#222" stroke-width="0.06">mmu03430: Mismatch repair</text>
<line x1="556.2" y1="278.46" x2="557.2" y2="278.46" stroke="#333" stroke-width="0.5"/>
<text x="555" y="279.66" font-size="3.57" text-anchor="end" fill="#222" stroke="#222" stroke-width="0.06">mmu03320: PPAR signaling pathway</text>
<line x1="556.2" y1="285.97" x2="557.2" y2="285.97" stroke="#333" stroke-width="0.5"/>
<text x="555" y="287.17" font-size="3.57" text-anchor="end" fill="#222" stroke="#222" stroke-width="0.06">mmu00524: Neomycin, kanamycin and gentamicin biosynthesis</text>
<line x1="556.2" y1="293.47" x2="557.2" y2="293.47" stroke="#333" stroke-width="0.5"/>
<text x="555" y="294.67" font-size="3.57" text-anchor="end" fill="#222" stroke="#222" stroke-width="0.06">mmu00500: Starch and sucrose metabolism</text>
<line x1="556.2" y1="300.98" x2="557.2" y2="300.98" stroke="#333" stroke-width="0.5"/>
<text x="555" y="302.18" font-size="3.57" text-anchor="end" fill="#222" stroke="#222" stroke-width="0.06">mmu00471: D−Glutamine and D−glutamate metabolism</text>
<line x1="556.2" y1="308.48" x2="557.2" y2="308.48" stroke="#333" stroke-width="0.5"/>
<text x="555" y="309.68" font-size="3.57" text-anchor="end" fill="#222" stroke="#222" stroke-width="0.06">mmu00440: Phosphonate and phosphinate metabolism</text>
<line x1="556.2" y1="315.99" x2="557.2" y2="315.99" stroke="#333" stroke-width="0.5"/>
<text x="555" y="317.19" font-size="3.57" text-anchor="end" fill="#222" stroke="#222" stroke-width="0.06">mmu00400: Phenylalanine, tyrosine and tryptophan biosynthesis</text>
<line x1="556.2" y1="323.49" x2="557.2" y2="323.49" stroke="#333" stroke-width="0.5"/>
<text x="555" y="324.69" font-size="3.57" text-anchor="end" fill="#222" stroke="#222" stroke-width="0.06">mmu00250: Alanine, aspartate and glutamate metabolism</text>
<line x1="556.2" y1="331" x2="557.2" y2="331" stroke="#333" stroke-width="0.5"/>
<text x="555" y="332.19" font-size="3.57" text-anchor="end" fill="#222" stroke="#222" stroke-width="0.06">mmu00052: Galactose metabolism</text>
<line x1="573.6" y1="335.8" x2="573.6" y2="336.9" stroke="#333" stroke-width="0.45"/>
<text x="573.6" y="340.4" font-size="3.4" text-anchor="middle" fill="#444" stroke="#444" stroke-width="0.2">5</text>
<line x1="599.4" y1="335.8" x2="599.4" y2="336.9" stroke="#333" stroke-width="0.45"/>
<text x="599.4" y="340.4" font-size="3.4" text-anchor="middle" fill="#444" stroke="#444" stroke-width="0.2">10</text>
<line x1="625.2" y1="335.8" x2="625.2" y2="336.9" stroke="#333" stroke-width="0.45"/>
<text x="625.2" y="340.4" font-size="3.4" text-anchor="middle" fill="#444" stroke="#444" stroke-width="0.2">15</text>
<text x="603" y="345.2" font-size="4.4" text-anchor="middle" fill="#111" stroke="#111" stroke-width="0.2">Enrichment_score</text>
<text x="655" y="214.2" font-size="4.2" fill="#111" stroke="#111" stroke-width="0.2">Count</text>
<circle cx="658.2" cy="220.6" r="0.55" fill="#000"/>
<text x="664.2" y="221.8" font-size="3.3" fill="#222" stroke="#222" stroke-width="0.2">1</text>
<circle cx="658.2" cy="227.7" r="1.4" fill="#000"/>
<text x="664.2" y="228.9" font-size="3.3" fill="#222" stroke="#222" stroke-width="0.2">2</text>
<circle cx="658.2" cy="234.5" r="1.8" fill="#000"/>
<text x="664.2" y="235.7" font-size="3.3" fill="#222" stroke="#222" stroke-width="0.2">3</text>
<circle cx="658.2" cy="241.4" r="2.2" fill="#000"/>
<text x="664.2" y="242.6" font-size="3.3" fill="#222" stroke="#222" stroke-width="0.2">4</text>
<circle cx="658.2" cy="248.4" r="2.5" fill="#000"/>
<text x="664.2" y="249.6" font-size="3.3" fill="#222" stroke="#222" stroke-width="0.2">5</text>
<circle cx="658.2" cy="255.5" r="2.85" fill="#000"/>
<text x="664.2" y="256.7" font-size="3.3" fill="#222" stroke="#222" stroke-width="0.2">6</text>
<text x="655" y="271.2" font-size="4.2" fill="#111" stroke="#111" stroke-width="0.2">pval</text>
<linearGradient id="g1" x1="0" y1="0" x2="0" y2="1"><stop offset="0" stop-color="#ee00ff"/><stop offset="0.19" stop-color="#1a1aff"/><stop offset="0.4" stop-color="#20f0ff"/><stop offset="0.58" stop-color="#00ff10"/><stop offset="0.79" stop-color="#f0ff00"/><stop offset="1" stop-color="#ff2000"/></linearGradient>
<rect x="654.6" y="273.9" width="7.3" height="34.8" fill="url(#g1)"/>
<line x1="654.6" y1="274.8" x2="655.8" y2="274.8" stroke="#fff" stroke-width="0.35"/>
<line x1="660.7" y1="274.8" x2="661.9" y2="274.8" stroke="#fff" stroke-width="0.35"/>
<text x="664.2" y="276" font-size="3.3" fill="#222" stroke="#222" stroke-width="0.2">0.09</text>
<line x1="654.6" y1="283.9" x2="655.8" y2="283.9" stroke="#fff" stroke-width="0.35"/>
<line x1="660.7" y1="283.9" x2="661.9" y2="283.9" stroke="#fff" stroke-width="0.35"/>
<text x="664.2" y="285.1" font-size="3.3" fill="#222" stroke="#222" stroke-width="0.2">0.07</text>
<line x1="654.6" y1="293.3" x2="655.8" y2="293.3" stroke="#fff" stroke-width="0.35"/>
<line x1="660.7" y1="293.3" x2="661.9" y2="293.3" stroke="#fff" stroke-width="0.35"/>
<text x="664.2" y="294.5" font-size="3.3" fill="#222" stroke="#222" stroke-width="0.2">0.05</text>
<line x1="654.6" y1="302.2" x2="655.8" y2="302.2" stroke="#fff" stroke-width="0.35"/>
<line x1="660.7" y1="302.2" x2="661.9" y2="302.2" stroke="#fff" stroke-width="0.35"/>
<text x="664.2" y="303.4" font-size="3.3" fill="#222" stroke="#222" stroke-width="0.2">0.03</text>
<line x1="561.4" y1="361.3" x2="561.4" y2="509.4" stroke="#f2f2f2" stroke-width="0.35"/>
<line x1="583.2" y1="361.3" x2="583.2" y2="509.4" stroke="#f2f2f2" stroke-width="0.35"/>
<line x1="605" y1="361.3" x2="605" y2="509.4" stroke="#f2f2f2" stroke-width="0.35"/>
<line x1="626.8" y1="361.3" x2="626.8" y2="509.4" stroke="#f2f2f2" stroke-width="0.35"/>
<line x1="648.6" y1="361.3" x2="648.6" y2="509.4" stroke="#f2f2f2" stroke-width="0.35"/>
<line x1="572.3" y1="361.3" x2="572.3" y2="509.4" stroke="#e4e4e4" stroke-width="0.45"/>
<line x1="594.1" y1="361.3" x2="594.1" y2="509.4" stroke="#e4e4e4" stroke-width="0.45"/>
<line x1="615.9" y1="361.3" x2="615.9" y2="509.4" stroke="#e4e4e4" stroke-width="0.45"/>
<line x1="637.7" y1="361.3" x2="637.7" y2="509.4" stroke="#e4e4e4" stroke-width="0.45"/>
<line x1="553.3" y1="366.2" x2="648.4" y2="366.2" stroke="#e8e8e8" stroke-width="0.45"/>
<line x1="553.3" y1="373.51" x2="648.4" y2="373.51" stroke="#e8e8e8" stroke-width="0.45"/>
<line x1="553.3" y1="380.82" x2="648.4" y2="380.82" stroke="#e8e8e8" stroke-width="0.45"/>
<line x1="553.3" y1="388.13" x2="648.4" y2="388.13" stroke="#e8e8e8" stroke-width="0.45"/>
<line x1="553.3" y1="395.44" x2="648.4" y2="395.44" stroke="#e8e8e8" stroke-width="0.45"/>
<line x1="553.3" y1="402.75" x2="648.4" y2="402.75" stroke="#e8e8e8" stroke-width="0.45"/>
<line x1="553.3" y1="410.06" x2="648.4" y2="410.06" stroke="#e8e8e8" stroke-width="0.45"/>
<line x1="553.3" y1="417.37" x2="648.4" y2="417.37" stroke="#e8e8e8" stroke-width="0.45"/>
<line x1="553.3" y1="424.68" x2="648.4" y2="424.68" stroke="#e8e8e8" stroke-width="0.45"/>
<line x1="553.3" y1="431.99" x2="648.4" y2="431.99" stroke="#e8e8e8" stroke-width="0.45"/>
<line x1="553.3" y1="439.3" x2="648.4" y2="439.3" stroke="#e8e8e8" stroke-width="0.45"/>
<line x1="553.3" y1="446.61" x2="648.4" y2="446.61" stroke="#e8e8e8" stroke-width="0.45"/>
<line x1="553.3" y1="453.92" x2="648.4" y2="453.92" stroke="#e8e8e8" stroke-width="0.45"/>
<line x1="553.3" y1="461.23" x2="648.4" y2="461.23" stroke="#e8e8e8" stroke-width="0.45"/>
<line x1="553.3" y1="468.54" x2="648.4" y2="468.54" stroke="#e8e8e8" stroke-width="0.45"/>
<line x1="553.3" y1="475.85" x2="648.4" y2="475.85" stroke="#e8e8e8" stroke-width="0.45"/>
<line x1="553.3" y1="483.16" x2="648.4" y2="483.16" stroke="#e8e8e8" stroke-width="0.45"/>
<line x1="553.3" y1="490.47" x2="648.4" y2="490.47" stroke="#e8e8e8" stroke-width="0.45"/>
<line x1="553.3" y1="497.78" x2="648.4" y2="497.78" stroke="#e8e8e8" stroke-width="0.45"/>
<line x1="553.3" y1="505.09" x2="648.4" y2="505.09" stroke="#e8e8e8" stroke-width="0.45"/>
<circle cx="571.6" cy="366.2" r="2.3" fill="hsl(118,100%,50%)"/>
<circle cx="573.5" cy="373.51" r="1.8" fill="hsl(205,100%,50%)"/>
<circle cx="569.1" cy="380.82" r="2.6" fill="hsl(68,100%,50%)"/>
<circle cx="566.1" cy="388.13" r="1.8" fill="hsl(290,100%,50%)"/>
<circle cx="579.3" cy="395.44" r="0.7" fill="hsl(300,100%,50%)"/>
<circle cx="599.1" cy="402.75" r="0.7" fill="hsl(165,100%,50%)"/>
<circle cx="644.3" cy="410.06" r="0.7" fill="hsl(50,100%,50%)"/>
<circle cx="601.6" cy="417.37" r="2.3" fill="hsl(20,100%,50%)"/>
<circle cx="579.3" cy="424.68" r="0.7" fill="hsl(300,100%,50%)"/>
<circle cx="567.8" cy="431.99" r="1.8" fill="hsl(275,100%,50%)"/>
<circle cx="576" cy="439.3" r="1.8" fill="hsl(185,100%,50%)"/>
<circle cx="589.9" cy="446.61" r="1.8" fill="hsl(80,100%,50%)"/>
<circle cx="567.8" cy="453.92" r="2.3" fill="hsl(155,100%,50%)"/>
<circle cx="566.6" cy="461.23" r="2.3" fill="hsl(170,100%,50%)"/>
<circle cx="557.9" cy="468.54" r="2.3" fill="hsl(300,100%,50%)"/>
<circle cx="618.5" cy="475.85" r="2.3" fill="hsl(2,100%,50%)"/>
<circle cx="569.6" cy="483.16" r="2.3" fill="hsl(135,100%,50%)"/>
<circle cx="585.5" cy="490.47" r="0.7" fill="hsl(240,100%,50%)"/>
<circle cx="637.6" cy="497.78" r="0.7" fill="hsl(55,100%,50%)"/>
<circle cx="579.3" cy="505.09" r="2.3" fill="hsl(62,100%,50%)"/>
<rect x="553.3" y="361.3" width="95.1" height="148.1" fill="none" stroke="#555" stroke-width="0.6"/>
<line x1="552" y1="366.2" x2="553" y2="366.2" stroke="#333" stroke-width="0.5"/>
<text x="551.6" y="367.4" font-size="3.55" text-anchor="end" fill="#222" stroke="#222" stroke-width="0.06">mmu05418: Fluid shear stress and atherosclerosis</text>
<line x1="552" y1="373.51" x2="553" y2="373.51" stroke="#333" stroke-width="0.5"/>
<text x="551.6" y="374.71" font-size="3.55" text-anchor="end" fill="#222" stroke="#222" stroke-width="0.06">mmu05322: Systemic lupus erythematosus</text>
<line x1="552" y1="380.82" x2="553" y2="380.82" stroke="#333" stroke-width="0.5"/>
<text x="551.6" y="382.02" font-size="3.55" text-anchor="end" fill="#222" stroke="#222" stroke-width="0.06">mmu05164: Influenza A</text>
<line x1="552" y1="388.13" x2="553" y2="388.13" stroke="#333" stroke-width="0.5"/>
<text x="551.6" y="389.33" font-size="3.55" text-anchor="end" fill="#222" stroke="#222" stroke-width="0.06">mmu05135: Yersinia infection</text>
<line x1="552" y1="395.44" x2="553" y2="395.44" stroke="#333" stroke-width="0.5"/>
<text x="551.6" y="396.64" font-size="3.55" text-anchor="end" fill="#222" stroke="#222" stroke-width="0.06">mmu05133: Pertussis</text>
<line x1="552" y1="402.75" x2="553" y2="402.75" stroke="#333" stroke-width="0.5"/>
<text x="551.6" y="403.95" font-size="3.55" text-anchor="end" fill="#222" stroke="#222" stroke-width="0.06">mmu05014: Amyotrophic lateral sclerosis (ALS)</text>
<line x1="552" y1="410.06" x2="553" y2="410.06" stroke="#333" stroke-width="0.5"/>
<text x="551.6" y="411.26" font-size="3.55" text-anchor="end" fill="#222" stroke="#222" stroke-width="0.06">mmu04975: Fat digestion and absorption</text>
<line x1="552" y1="417.37" x2="553" y2="417.37" stroke="#333" stroke-width="0.5"/>
<text x="551.6" y="418.57" font-size="3.55" text-anchor="end" fill="#222" stroke="#222" stroke-width="0.06">mmu04972: Pancreatic secretion</text>
<line x1="552" y1="424.68" x2="553" y2="424.68" stroke="#333" stroke-width="0.5"/>
<text x="551.6" y="425.88" font-size="3.55" text-anchor="end" fill="#222" stroke="#222" stroke-width="0.06">mmu04970: Salivary secretion</text>
<line x1="552" y1="431.99" x2="553" y2="431.99" stroke="#333" stroke-width="0.5"/>
<text x="551.6" y="433.19" font-size="3.55" text-anchor="end" fill="#222" stroke="#222" stroke-width="0.06">mmu04935: Growth hormone synthesis, secretion and action</text>
<line x1="552" y1="439.3" x2="553" y2="439.3" stroke="#333" stroke-width="0.5"/>
<text x="551.6" y="440.5" font-size="3.55" text-anchor="end" fill="#222" stroke="#222" stroke-width="0.06">mmu04922: Glucagon signaling pathway</text>
<line x1="552" y1="446.61" x2="553" y2="446.61" stroke="#333" stroke-width="0.5"/>
<text x="551.6" y="447.81" font-size="3.55" text-anchor="end" fill="#222" stroke="#222" stroke-width="0.06">mmu04610: Complement and coagulation cascades</text>
<line x1="552" y1="453.92" x2="553" y2="453.92" stroke="#333" stroke-width="0.5"/>
<text x="551.6" y="455.12" font-size="3.55" text-anchor="end" fill="#222" stroke="#222" stroke-width="0.06">mmu04261: Adrenergic signaling in cardiomyocytes</text>
<line x1="552" y1="461.23" x2="553" y2="461.23" stroke="#333" stroke-width="0.5"/>
<text x="551.6" y="462.43" font-size="3.55" text-anchor="end" fill="#222" stroke="#222" stroke-width="0.06">mmu04217: Necroptosis</text>
<line x1="552" y1="468.54" x2="553" y2="468.54" stroke="#333" stroke-width="0.5"/>
<text x="551.6" y="469.74" font-size="3.55" text-anchor="end" fill="#222" stroke="#222" stroke-width="0.06">mmu04145: Phagosome</text>
<line x1="552" y1="475.85" x2="553" y2="475.85" stroke="#333" stroke-width="0.5"/>
<text x="551.6" y="477.05" font-size="3.55" text-anchor="end" fill="#222" stroke="#222" stroke-width="0.06">mmu03320: PPAR signaling pathway</text>
<line x1="552" y1="483.16" x2="553" y2="483.16" stroke="#333" stroke-width="0.5"/>
<text x="551.6" y="484.36" font-size="3.55" text-anchor="end" fill="#222" stroke="#222" stroke-width="0.06">mmu03013: RNA transport</text>
<line x1="552" y1="490.47" x2="553" y2="490.47" stroke="#333" stroke-width="0.5"/>
<text x="551.6" y="491.67" font-size="3.55" text-anchor="end" fill="#222" stroke="#222" stroke-width="0.06">mmu03008: Ribosome biogenesis in eukaryotes</text>
<line x1="552" y1="497.78" x2="553" y2="497.78" stroke="#333" stroke-width="0.5"/>
<text x="551.6" y="498.98" font-size="3.55" text-anchor="end" fill="#222" stroke="#222" stroke-width="0.06">mmu00760: Nicotinate and nicotinamide metabolism</text>
<line x1="552" y1="505.09" x2="553" y2="505.09" stroke="#333" stroke-width="0.5"/>
<text x="551.6" y="506.29" font-size="3.55" text-anchor="end" fill="#222" stroke="#222" stroke-width="0.06">mmu00230: Purine metabolism</text>
<line x1="572.3" y1="509.4" x2="572.3" y2="510.5" stroke="#333" stroke-width="0.45"/>
<text x="572.3" y="514" font-size="3.4" text-anchor="middle" fill="#444" stroke="#444" stroke-width="0.2">2</text>
<line x1="594.1" y1="509.4" x2="594.1" y2="510.5" stroke="#333" stroke-width="0.45"/>
<text x="594.1" y="514" font-size="3.4" text-anchor="middle" fill="#444" stroke="#444" stroke-width="0.2">4</text>
<line x1="615.9" y1="509.4" x2="615.9" y2="510.5" stroke="#333" stroke-width="0.45"/>
<text x="615.9" y="514" font-size="3.4" text-anchor="middle" fill="#444" stroke="#444" stroke-width="0.2">6</text>
<line x1="637.7" y1="509.4" x2="637.7" y2="510.5" stroke="#333" stroke-width="0.45"/>
<text x="637.7" y="514" font-size="3.4" text-anchor="middle" fill="#444" stroke="#444" stroke-width="0.2">8</text>
<text x="600.85" y="518.8" font-size="4.4" text-anchor="middle" fill="#111" stroke="#111" stroke-width="0.2">Enrichment_score</text>
<text x="655.2" y="398" font-size="4.2" fill="#111" stroke="#111" stroke-width="0.2">Count</text>
<circle cx="658.4" cy="404.1" r="0.7" fill="#000"/>
<text x="664.4" y="405.3" font-size="3.3" fill="#222" stroke="#222" stroke-width="0.2">3</text>
<circle cx="658.4" cy="411.1" r="1.8" fill="#000"/>
<text x="664.4" y="412.3" font-size="3.3" fill="#222" stroke="#222" stroke-width="0.2">4</text>
<circle cx="658.4" cy="417.8" r="2.3" fill="#000"/>
<text x="664.4" y="419" font-size="3.3" fill="#222" stroke="#222" stroke-width="0.2">5</text>
<circle cx="658.4" cy="424.7" r="2.8" fill="#000"/>
<text x="664.4" y="425.9" font-size="3.3" fill="#222" stroke="#222" stroke-width="0.2">6</text>
<text x="655.2" y="440.2" font-size="4.2" fill="#111" stroke="#111" stroke-width="0.2">pval</text>
<linearGradient id="g2" x1="0" y1="0" x2="0" y2="1"><stop offset="0" stop-color="#ee00ff"/><stop offset="0.19" stop-color="#1a1aff"/><stop offset="0.4" stop-color="#20f0ff"/><stop offset="0.58" stop-color="#00ff10"/><stop offset="0.79" stop-color="#f0ff00"/><stop offset="1" stop-color="#ff2000"/></linearGradient>
<rect x="655.3" y="442.6" width="6.9" height="34" fill="url(#g2)"/>
<line x1="655.3" y1="443.1" x2="656.5" y2="443.1" stroke="#fff" stroke-width="0.35"/>
<line x1="661" y1="443.1" x2="662.2" y2="443.1" stroke="#fff" stroke-width="0.35"/>
<text x="664.5" y="444.3" font-size="3.3" fill="#222" stroke="#222" stroke-width="0.2">0.06</text>
<line x1="655.3" y1="455" x2="656.5" y2="455" stroke="#fff" stroke-width="0.35"/>
<line x1="661" y1="455" x2="662.2" y2="455" stroke="#fff" stroke-width="0.35"/>
<text x="664.5" y="456.2" font-size="3.3" fill="#222" stroke="#222" stroke-width="0.2">0.04</text>
<line x1="655.3" y1="466.7" x2="656.5" y2="466.7" stroke="#fff" stroke-width="0.35"/>
<line x1="661" y1="466.7" x2="662.2" y2="466.7" stroke="#fff" stroke-width="0.35"/>
<text x="664.5" y="467.9" font-size="3.3" fill="#222" stroke="#222" stroke-width="0.2">0.02</text>
<line x1="558.2" y1="550.4" x2="558.2" y2="692.2" stroke="#f2f2f2" stroke-width="0.35"/>
<line x1="585.6" y1="550.4" x2="585.6" y2="692.2" stroke="#f2f2f2" stroke-width="0.35"/>
<line x1="613" y1="550.4" x2="613" y2="692.2" stroke="#f2f2f2" stroke-width="0.35"/>
<line x1="640.4" y1="550.4" x2="640.4" y2="692.2" stroke="#f2f2f2" stroke-width="0.35"/>
<line x1="571.9" y1="550.4" x2="571.9" y2="692.2" stroke="#e4e4e4" stroke-width="0.45"/>
<line x1="599.3" y1="550.4" x2="599.3" y2="692.2" stroke="#e4e4e4" stroke-width="0.45"/>
<line x1="626.7" y1="550.4" x2="626.7" y2="692.2" stroke="#e4e4e4" stroke-width="0.45"/>
<line x1="552.5" y1="554.7" x2="652.2" y2="554.7" stroke="#e8e8e8" stroke-width="0.45"/>
<line x1="552.5" y1="561.7" x2="652.2" y2="561.7" stroke="#e8e8e8" stroke-width="0.45"/>
<line x1="552.5" y1="568.7" x2="652.2" y2="568.7" stroke="#e8e8e8" stroke-width="0.45"/>
<line x1="552.5" y1="575.7" x2="652.2" y2="575.7" stroke="#e8e8e8" stroke-width="0.45"/>
<line x1="552.5" y1="582.7" x2="652.2" y2="582.7" stroke="#e8e8e8" stroke-width="0.45"/>
<line x1="552.5" y1="589.7" x2="652.2" y2="589.7" stroke="#e8e8e8" stroke-width="0.45"/>
<line x1="552.5" y1="596.7" x2="652.2" y2="596.7" stroke="#e8e8e8" stroke-width="0.45"/>
<line x1="552.5" y1="603.7" x2="652.2" y2="603.7" stroke="#e8e8e8" stroke-width="0.45"/>
<line x1="552.5" y1="610.7" x2="652.2" y2="610.7" stroke="#e8e8e8" stroke-width="0.45"/>
<line x1="552.5" y1="617.7" x2="652.2" y2="617.7" stroke="#e8e8e8" stroke-width="0.45"/>
<line x1="552.5" y1="624.7" x2="652.2" y2="624.7" stroke="#e8e8e8" stroke-width="0.45"/>
<line x1="552.5" y1="631.7" x2="652.2" y2="631.7" stroke="#e8e8e8" stroke-width="0.45"/>
<line x1="552.5" y1="638.7" x2="652.2" y2="638.7" stroke="#e8e8e8" stroke-width="0.45"/>
<line x1="552.5" y1="645.7" x2="652.2" y2="645.7" stroke="#e8e8e8" stroke-width="0.45"/>
<line x1="552.5" y1="652.7" x2="652.2" y2="652.7" stroke="#e8e8e8" stroke-width="0.45"/>
<line x1="552.5" y1="659.7" x2="652.2" y2="659.7" stroke="#e8e8e8" stroke-width="0.45"/>
<line x1="552.5" y1="666.7" x2="652.2" y2="666.7" stroke="#e8e8e8" stroke-width="0.45"/>
<line x1="552.5" y1="673.7" x2="652.2" y2="673.7" stroke="#e8e8e8" stroke-width="0.45"/>
<line x1="552.5" y1="680.7" x2="652.2" y2="680.7" stroke="#e8e8e8" stroke-width="0.45"/>
<line x1="552.5" y1="687.7" x2="652.2" y2="687.7" stroke="#e8e8e8" stroke-width="0.45"/>
<circle cx="563.3" cy="554.7" r="2.8" fill="hsl(0,100%,50%)"/>
<circle cx="563.3" cy="561.7" r="1.8" fill="hsl(212,100%,50%)"/>
<circle cx="564.2" cy="568.7" r="1.8" fill="hsl(185,100%,50%)"/>
<circle cx="583.2" cy="575.7" r="1" fill="hsl(175,100%,50%)"/>
<circle cx="567.7" cy="582.7" r="1.8" fill="hsl(215,100%,50%)"/>
<circle cx="571.2" cy="589.7" r="2" fill="hsl(32,100%,50%)"/>
<circle cx="563" cy="596.7" r="1.8" fill="hsl(218,100%,50%)"/>
<circle cx="566.1" cy="603.7" r="1.6" fill="hsl(268,100%,50%)"/>
<circle cx="560.9" cy="610.7" r="1.8" fill="hsl(300,100%,50%)"/>
<circle cx="565.4" cy="617.7" r="1.6" fill="hsl(280,100%,50%)"/>
<circle cx="565.1" cy="624.7" r="1.8" fill="hsl(150,100%,50%)"/>
<circle cx="557.2" cy="631.7" r="2.2" fill="hsl(300,100%,50%)"/>
<circle cx="567" cy="638.7" r="2" fill="hsl(55,100%,50%)"/>
<circle cx="564.4" cy="645.7" r="1.8" fill="hsl(172,100%,50%)"/>
<circle cx="577.3" cy="652.7" r="1.8" fill="hsl(33,100%,50%)"/>
<circle cx="576.8" cy="659.7" r="1.8" fill="hsl(33,100%,50%)"/>
<circle cx="570.3" cy="666.7" r="1.6" fill="hsl(155,100%,50%)"/>
<circle cx="577.1" cy="673.7" r="1.5" fill="hsl(240,100%,50%)"/>
<circle cx="647.3" cy="680.7" r="0.7" fill="hsl(235,100%,50%)"/>
<circle cx="580.8" cy="687.7" r="1.8" fill="hsl(53,100%,50%)"/>
<rect x="552.5" y="550.4" width="99.7" height="141.8" fill="none" stroke="#777" stroke-width="0.65"/>
<line x1="551.2" y1="554.7" x2="552.2" y2="554.7" stroke="#333" stroke-width="0.5"/>
<text x="550.9" y="555.9" font-size="3.39" text-anchor="end" fill="#222" stroke="#222" stroke-width="0.06">mmu05165: Human papillomavirus infection</text>
<line x1="551.2" y1="561.7" x2="552.2" y2="561.7" stroke="#333" stroke-width="0.5"/>
<text x="550.9" y="562.9" font-size="3.39" text-anchor="end" fill="#222" stroke="#222" stroke-width="0.06">mmu05150: Staphylococcus aureus infection</text>
<line x1="551.2" y1="568.7" x2="552.2" y2="568.7" stroke="#333" stroke-width="0.5"/>
<text x="550.9" y="569.9" font-size="3.39" text-anchor="end" fill="#222" stroke="#222" stroke-width="0.06">mmu05145: Toxoplasmosis</text>
<line x1="551.2" y1="575.7" x2="552.2" y2="575.7" stroke="#333" stroke-width="0.5"/>
<text x="550.9" y="576.9" font-size="3.39" text-anchor="end" fill="#222" stroke="#222" stroke-width="0.06">mmu05020: Prion diseases</text>
<line x1="551.2" y1="582.7" x2="552.2" y2="582.7" stroke="#333" stroke-width="0.5"/>
<text x="550.9" y="583.9" font-size="3.39" text-anchor="end" fill="#222" stroke="#222" stroke-width="0.06">mmu04974: Protein digestion and absorption</text>
<line x1="551.2" y1="589.7" x2="552.2" y2="589.7" stroke="#333" stroke-width="0.5"/>
<text x="550.9" y="590.9" font-size="3.39" text-anchor="end" fill="#222" stroke="#222" stroke-width="0.06">mmu04919: Thyroid hormone signaling pathway</text>
<line x1="551.2" y1="596.7" x2="552.2" y2="596.7" stroke="#333" stroke-width="0.5"/>
<text x="550.9" y="597.9" font-size="3.39" text-anchor="end" fill="#222" stroke="#222" stroke-width="0.06">mmu04910: Insulin signaling pathway</text>
<line x1="551.2" y1="603.7" x2="552.2" y2="603.7" stroke="#333" stroke-width="0.5"/>
<text x="550.9" y="604.9" font-size="3.39" text-anchor="end" fill="#222" stroke="#222" stroke-width="0.06">mmu04610: Complement and coagulation cascades</text>
<line x1="551.2" y1="610.7" x2="552.2" y2="610.7" stroke="#333" stroke-width="0.5"/>
<text x="550.9" y="611.9" font-size="3.39" text-anchor="end" fill="#222" stroke="#222" stroke-width="0.06">mmu04217: Necroptosis</text>
<line x1="551.2" y1="617.7" x2="552.2" y2="617.7" stroke="#333" stroke-width="0.5"/>
<text x="550.9" y="618.9" font-size="3.39" text-anchor="end" fill="#222" stroke="#222" stroke-width="0.06">mmu04211: Longevity regulating pathway</text>
<line x1="551.2" y1="624.7" x2="552.2" y2="624.7" stroke="#333" stroke-width="0.5"/>
<text x="550.9" y="625.9" font-size="3.39" text-anchor="end" fill="#222" stroke="#222" stroke-width="0.06">mmu04152: AMPK signaling pathway</text>
<line x1="551.2" y1="631.7" x2="552.2" y2="631.7" stroke="#333" stroke-width="0.5"/>
<text x="550.9" y="632.9" font-size="3.39" text-anchor="end" fill="#222" stroke="#222" stroke-width="0.06">mmu04151: PI3K−Akt signaling pathway</text>
<line x1="551.2" y1="638.7" x2="552.2" y2="638.7" stroke="#333" stroke-width="0.5"/>
<text x="550.9" y="639.9" font-size="3.39" text-anchor="end" fill="#222" stroke="#222" stroke-width="0.06">mmu04140: Autophagy − animal</text>
<line x1="551.2" y1="645.7" x2="552.2" y2="645.7" stroke="#333" stroke-width="0.5"/>
<text x="550.9" y="646.9" font-size="3.39" text-anchor="end" fill="#222" stroke="#222" stroke-width="0.06">mmu03040: Spliceosome</text>
<line x1="551.2" y1="652.7" x2="552.2" y2="652.7" stroke="#333" stroke-width="0.5"/>
<text x="550.9" y="653.9" font-size="3.39" text-anchor="end" fill="#222" stroke="#222" stroke-width="0.06">mmu03015: mRNA surveillance pathway</text>
<line x1="551.2" y1="659.7" x2="552.2" y2="659.7" stroke="#333" stroke-width="0.5"/>
<text x="550.9" y="660.9" font-size="3.39" text-anchor="end" fill="#222" stroke="#222" stroke-width="0.06">mmu01524: Platinum drug resistance</text>
<line x1="551.2" y1="666.7" x2="552.2" y2="666.7" stroke="#333" stroke-width="0.5"/>
<text x="550.9" y="667.9" font-size="3.39" text-anchor="end" fill="#222" stroke="#222" stroke-width="0.06">mmu00983: Drug metabolism − other enzymes</text>
<line x1="551.2" y1="673.7" x2="552.2" y2="673.7" stroke="#333" stroke-width="0.5"/>
<text x="550.9" y="674.9" font-size="3.39" text-anchor="end" fill="#222" stroke="#222" stroke-width="0.06">mmu00513: Various types of N−glycan biosynthesis</text>
<line x1="551.2" y1="680.7" x2="552.2" y2="680.7" stroke="#333" stroke-width="0.5"/>
<text x="550.9" y="681.9" font-size="3.39" text-anchor="end" fill="#222" stroke="#222" stroke-width="0.06">mmu00440: Phosphonate and phosphinate metabolism</text>
<line x1="551.2" y1="687.7" x2="552.2" y2="687.7" stroke="#333" stroke-width="0.5"/>
<text x="550.9" y="688.9" font-size="3.39" text-anchor="end" fill="#222" stroke="#222" stroke-width="0.06">mmu00240: Pyrimidine metabolism</text>
<line x1="571.9" y1="692.2" x2="571.9" y2="693.3" stroke="#333" stroke-width="0.45"/>
<text x="571.9" y="696.8" font-size="3.4" text-anchor="middle" fill="#444" stroke="#444" stroke-width="0.2">4</text>
<line x1="599.3" y1="692.2" x2="599.3" y2="693.3" stroke="#333" stroke-width="0.45"/>
<text x="599.3" y="696.8" font-size="3.4" text-anchor="middle" fill="#444" stroke="#444" stroke-width="0.2">8</text>
<line x1="626.7" y1="692.2" x2="626.7" y2="693.3" stroke="#333" stroke-width="0.45"/>
<text x="626.7" y="696.8" font-size="3.4" text-anchor="middle" fill="#444" stroke="#444" stroke-width="0.2">12</text>
<text x="602.35" y="701.6" font-size="4.4" text-anchor="middle" fill="#111" stroke="#111" stroke-width="0.2">Enrichment_score</text>
<text x="658.6" y="585.2" font-size="4.2" fill="#111" stroke="#111" stroke-width="0.2">Count</text>
<circle cx="661.8" cy="591" r="0.9" fill="#000"/>
<text x="667.8" y="592.2" font-size="3.3" fill="#222" stroke="#222" stroke-width="0.2">2.5</text>
<circle cx="661.8" cy="597.4" r="1.5" fill="#000"/>
<text x="667.8" y="598.6" font-size="3.3" fill="#222" stroke="#222" stroke-width="0.2">5.0</text>
<circle cx="661.8" cy="603.9" r="2" fill="#000"/>
<text x="667.8" y="605.1" font-size="3.3" fill="#222" stroke="#222" stroke-width="0.2">7.5</text>
<circle cx="661.8" cy="610.7" r="2.5" fill="#000"/>
<text x="667.8" y="611.9" font-size="3.3" fill="#222" stroke="#222" stroke-width="0.2">10.0</text>
<text x="658.6" y="625" font-size="4.2" fill="#111" stroke="#111" stroke-width="0.2">pval</text>
<linearGradient id="g3" x1="0" y1="0" x2="0" y2="1"><stop offset="0" stop-color="#ee00ff"/><stop offset="0.19" stop-color="#1a1aff"/><stop offset="0.4" stop-color="#20f0ff"/><stop offset="0.58" stop-color="#00ff10"/><stop offset="0.79" stop-color="#f0ff00"/><stop offset="1" stop-color="#ff2000"/></linearGradient>
<rect x="658.6" y="627.1" width="6.3" height="33.5" fill="url(#g3)"/>
<line x1="658.6" y1="629.4" x2="659.8" y2="629.4" stroke="#fff" stroke-width="0.35"/>
<line x1="663.7" y1="629.4" x2="664.9" y2="629.4" stroke="#fff" stroke-width="0.35"/>
<text x="667.2" y="630.6" font-size="3.3" fill="#222" stroke="#222" stroke-width="0.2">0.08</text>
<line x1="658.6" y1="637.2" x2="659.8" y2="637.2" stroke="#fff" stroke-width="0.35"/>
<line x1="663.7" y1="637.2" x2="664.9" y2="637.2" stroke="#fff" stroke-width="0.35"/>
<text x="667.2" y="638.4" font-size="3.3" fill="#222" stroke="#222" stroke-width="0.2">0.06</text>
<line x1="658.6" y1="645.8" x2="659.8" y2="645.8" stroke="#fff" stroke-width="0.35"/>
<line x1="663.7" y1="645.8" x2="664.9" y2="645.8" stroke="#fff" stroke-width="0.35"/>
<text x="667.2" y="647" font-size="3.3" fill="#222" stroke="#222" stroke-width="0.2">0.04</text>
<line x1="658.6" y1="654" x2="659.8" y2="654" stroke="#fff" stroke-width="0.35"/>
<line x1="663.7" y1="654" x2="664.9" y2="654" stroke="#fff" stroke-width="0.35"/>
<text x="667.2" y="655.2" font-size="3.3" fill="#222" stroke="#222" stroke-width="0.2">0.02</text>
</svg>
</body></html>
